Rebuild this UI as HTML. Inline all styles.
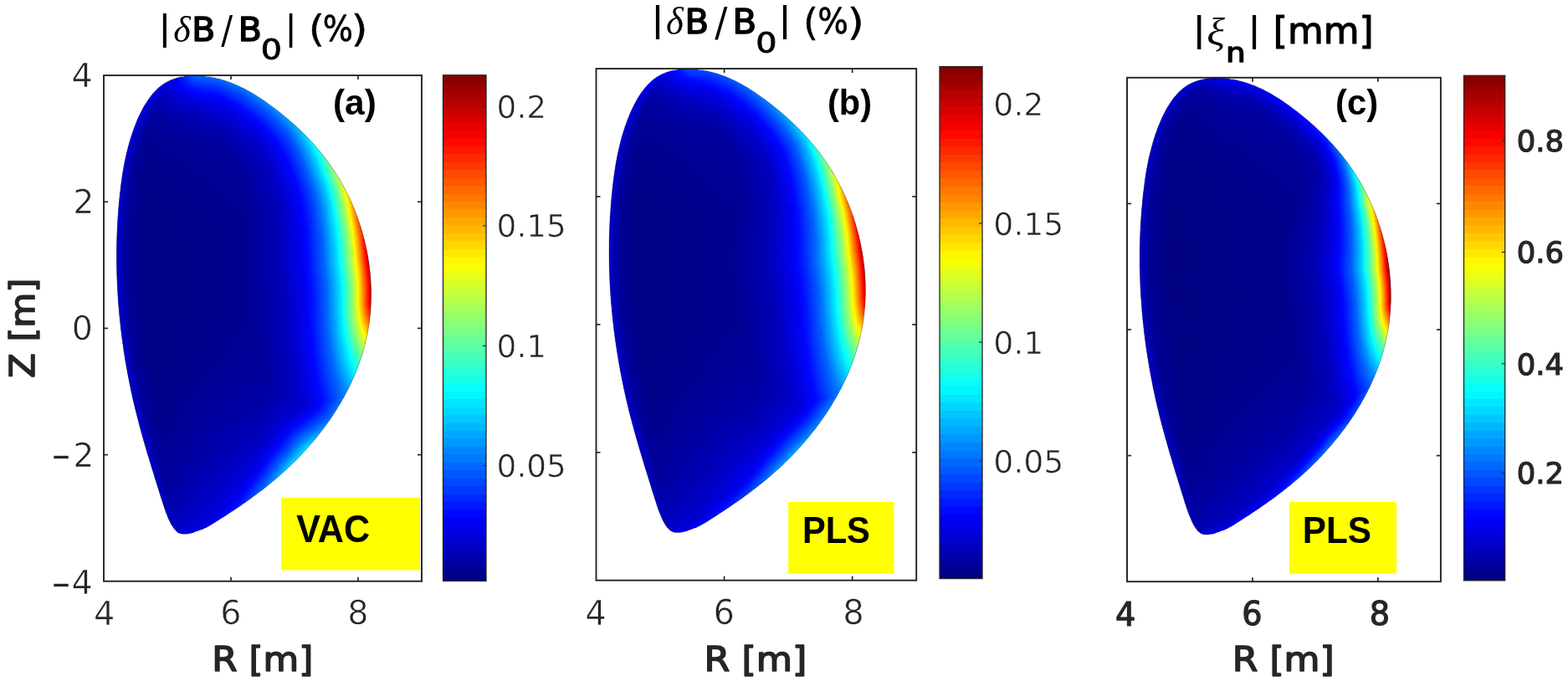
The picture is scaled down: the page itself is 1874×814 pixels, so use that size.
<!DOCTYPE html>
<html><head><meta charset="utf-8"><title>figure</title><style>
html,body{margin:0;padding:0;background:#fff;width:1874px;height:814px;overflow:hidden}
.pl{position:absolute;overflow:hidden}
.pl i{position:absolute;display:block}
svg{position:absolute;left:0;top:0}
</style></head><body>
<div class="pl" style="left:136px;top:87px;width:311px;height:554px;clip-path:polygon(61.0px 12.4px,63.6px 10.9px,66.4px 9.5px,69.2px 8.3px,72.0px 7.2px,75.0px 6.3px,78.0px 5.5px,81.0px 4.8px,84.1px 4.3px,87.3px 3.9px,90.5px 3.6px,93.7px 3.4px,97.0px 3.4px,100.3px 3.5px,103.6px 3.6px,106.9px 3.9px,110.2px 4.3px,113.5px 4.8px,116.8px 5.4px,120.1px 6.0px,123.4px 6.8px,126.7px 7.6px,129.9px 8.5px,133.2px 9.5px,136.3px 10.6px,139.5px 11.7px,142.6px 12.9px,145.6px 14.2px,148.6px 15.5px,151.6px 16.9px,154.5px 18.3px,157.4px 19.8px,160.2px 21.4px,163.0px 23.0px,165.8px 24.6px,168.6px 26.3px,171.3px 28.0px,174.0px 29.7px,176.7px 31.5px,179.3px 33.3px,182.0px 35.1px,184.6px 37.0px,187.2px 38.9px,189.8px 40.8px,192.3px 42.7px,194.9px 44.7px,197.4px 46.6px,199.9px 48.6px,202.4px 50.7px,204.9px 52.7px,207.4px 54.8px,209.8px 56.8px,212.2px 58.9px,214.6px 61.1px,217.0px 63.2px,219.4px 65.4px,221.7px 67.6px,224.0px 69.8px,226.3px 72.1px,228.6px 74.3px,230.8px 76.6px,233.0px 78.9px,235.2px 81.3px,237.4px 83.6px,239.5px 86.0px,241.6px 88.4px,243.7px 90.9px,245.8px 93.3px,247.8px 95.8px,249.8px 98.3px,251.8px 100.8px,253.7px 103.4px,255.6px 105.9px,257.5px 108.5px,259.4px 111.2px,261.2px 113.8px,263.0px 116.5px,264.8px 119.2px,266.5px 121.9px,268.2px 124.7px,269.9px 127.4px,271.5px 130.2px,273.1px 133.0px,274.6px 135.9px,276.2px 138.7px,277.7px 141.6px,279.1px 144.5px,280.6px 147.4px,281.9px 150.4px,283.3px 153.3px,284.6px 156.3px,285.9px 159.3px,287.2px 162.3px,288.4px 165.3px,289.6px 168.4px,290.7px 171.4px,291.8px 174.5px,292.9px 177.6px,293.9px 180.7px,294.9px 183.8px,295.9px 186.9px,296.8px 190.1px,297.7px 193.2px,298.6px 196.4px,299.4px 199.5px,300.2px 202.7px,300.9px 205.9px,301.6px 209.1px,302.3px 212.3px,302.9px 215.5px,303.5px 218.7px,304.0px 221.9px,304.6px 225.2px,305.0px 228.4px,305.5px 231.6px,305.8px 234.9px,306.2px 238.1px,306.5px 241.3px,306.8px 244.6px,307.0px 247.8px,307.2px 251.1px,307.4px 254.3px,307.5px 257.6px,307.6px 260.8px,307.6px 264.0px,307.6px 267.3px,307.5px 270.5px,307.4px 273.7px,307.3px 277.0px,307.1px 280.2px,306.9px 283.4px,306.7px 286.6px,306.4px 289.8px,306.0px 293.0px,305.6px 296.2px,305.2px 299.4px,304.7px 302.6px,304.2px 305.8px,303.7px 308.9px,303.1px 312.1px,302.4px 315.2px,301.7px 318.3px,301.0px 321.4px,300.2px 324.5px,299.4px 327.6px,298.6px 330.7px,297.7px 333.8px,296.8px 336.8px,295.8px 339.9px,294.8px 342.9px,293.7px 345.9px,292.7px 348.9px,291.5px 351.9px,290.4px 354.9px,289.2px 357.9px,288.0px 360.9px,286.7px 363.8px,285.4px 366.7px,284.1px 369.7px,282.7px 372.6px,281.3px 375.4px,279.9px 378.3px,278.4px 381.2px,276.9px 384.0px,275.4px 386.9px,273.8px 389.7px,272.2px 392.5px,270.6px 395.3px,268.9px 398.1px,267.2px 400.8px,265.5px 403.6px,263.8px 406.3px,262.0px 409.0px,260.2px 411.7px,258.4px 414.4px,256.5px 417.0px,254.6px 419.7px,252.7px 422.3px,250.8px 424.9px,248.8px 427.5px,246.8px 430.1px,244.8px 432.6px,242.8px 435.2px,240.7px 437.7px,238.6px 440.2px,236.5px 442.7px,234.4px 445.1px,232.2px 447.6px,230.1px 450.0px,227.9px 452.4px,225.6px 454.8px,223.4px 457.2px,221.2px 459.5px,218.9px 461.9px,216.6px 464.2px,214.3px 466.5px,211.9px 468.7px,209.6px 471.0px,207.2px 473.2px,204.8px 475.4px,202.4px 477.6px,200.0px 479.8px,197.6px 481.9px,195.1px 484.1px,192.7px 486.2px,190.2px 488.2px,187.7px 490.3px,185.2px 492.3px,182.7px 494.4px,180.1px 496.4px,177.6px 498.4px,175.0px 500.3px,172.4px 502.3px,169.9px 504.2px,167.3px 506.1px,164.7px 508.0px,162.0px 509.9px,159.4px 511.8px,156.8px 513.7px,154.1px 515.5px,151.5px 517.4px,148.8px 519.2px,146.1px 521.0px,143.5px 522.8px,140.8px 524.6px,138.1px 526.3px,135.4px 528.1px,132.7px 529.9px,129.9px 531.6px,127.2px 533.3px,124.5px 535.1px,121.8px 536.8px,119.0px 538.5px,116.3px 540.2px,113.5px 541.8px,110.6px 543.4px,107.7px 544.8px,104.7px 546.0px,101.6px 547.1px,98.6px 548.1px,95.6px 549.2px,92.5px 550.3px,89.3px 550.9px,86.0px 551.2px,82.7px 551.2px,79.5px 550.7px,76.6px 549.4px,74.2px 547.2px,72.0px 544.7px,70.1px 542.0px,68.4px 539.2px,67.0px 536.3px,65.6px 533.4px,64.3px 530.4px,63.2px 527.4px,62.0px 524.4px,60.9px 521.3px,59.9px 518.3px,58.9px 515.2px,57.9px 512.1px,56.9px 509.0px,55.9px 505.9px,54.9px 502.8px,54.0px 499.7px,53.0px 496.6px,52.0px 493.5px,51.1px 490.4px,50.1px 487.3px,49.1px 484.2px,48.2px 481.1px,47.2px 478.1px,46.3px 475.0px,45.3px 471.9px,44.4px 468.8px,43.4px 465.7px,42.5px 462.6px,41.6px 459.5px,40.6px 456.4px,39.7px 453.4px,38.8px 450.3px,37.9px 447.2px,37.0px 444.1px,36.1px 441.0px,35.2px 437.9px,34.3px 434.8px,33.5px 431.7px,32.6px 428.6px,31.8px 425.5px,30.9px 422.4px,30.1px 419.2px,29.3px 416.1px,28.5px 413.0px,27.7px 409.9px,26.9px 406.7px,26.1px 403.6px,25.3px 400.5px,24.6px 397.3px,23.8px 394.2px,23.1px 391.0px,22.4px 387.9px,21.7px 384.7px,21.0px 381.6px,20.3px 378.4px,19.7px 375.3px,19.0px 372.1px,18.4px 368.9px,17.8px 365.7px,17.1px 362.6px,16.5px 359.4px,16.0px 356.2px,15.4px 353.0px,14.8px 349.8px,14.3px 346.6px,13.7px 343.4px,13.2px 340.2px,12.7px 337.0px,12.2px 333.8px,11.7px 330.6px,11.3px 327.4px,10.8px 324.2px,10.4px 321.0px,9.9px 317.8px,9.5px 314.6px,9.1px 311.3px,8.7px 308.1px,8.3px 304.9px,8.0px 301.7px,7.6px 298.5px,7.3px 295.2px,7.0px 292.0px,6.6px 288.8px,6.4px 285.6px,6.1px 282.3px,5.8px 279.1px,5.5px 275.9px,5.3px 272.6px,5.1px 269.4px,4.9px 266.2px,4.7px 262.9px,4.5px 259.7px,4.3px 256.5px,4.2px 253.2px,4.0px 250.0px,3.9px 246.8px,3.8px 243.5px,3.7px 240.3px,3.6px 237.1px,3.5px 233.8px,3.5px 230.6px,3.4px 227.4px,3.4px 224.1px,3.4px 220.9px,3.4px 217.7px,3.4px 214.4px,3.4px 211.2px,3.5px 208.0px,3.5px 204.7px,3.6px 201.5px,3.7px 198.3px,3.8px 195.1px,3.9px 191.8px,4.0px 188.6px,4.2px 185.4px,4.4px 182.2px,4.5px 179.0px,4.7px 175.7px,4.9px 172.5px,5.2px 169.3px,5.4px 166.1px,5.6px 162.9px,5.9px 159.7px,6.2px 156.5px,6.5px 153.3px,6.8px 150.1px,7.1px 146.9px,7.5px 143.7px,7.9px 140.5px,8.2px 137.3px,8.6px 134.1px,9.0px 130.9px,9.5px 127.7px,9.9px 124.6px,10.4px 121.4px,10.9px 118.2px,11.5px 115.0px,12.0px 111.9px,12.6px 108.7px,13.2px 105.6px,13.9px 102.4px,14.6px 99.3px,15.3px 96.1px,16.1px 93.0px,16.9px 89.8px,17.7px 86.7px,18.6px 83.5px,19.5px 80.4px,20.4px 77.3px,21.5px 74.2px,22.5px 71.1px,23.6px 67.9px,24.8px 64.8px,26.0px 61.7px,27.2px 58.6px,28.5px 55.5px,29.9px 52.5px,31.3px 49.4px,32.8px 46.4px,34.3px 43.5px,35.9px 40.5px,37.6px 37.7px,39.4px 34.9px,41.2px 32.2px,43.1px 29.6px,45.0px 27.0px,47.1px 24.6px,49.2px 22.2px,51.4px 20.0px,53.6px 17.9px,56.0px 15.9px,58.5px 14.1px)"><i style="top:3px;left:84px;width:26px;height:3px;background:linear-gradient(90deg,#0021ff 0px,#0067ff 13px,#0060ff 18px,#0067ff 20px,#0065ff 22px,#0069ff 26px)"></i><i style="top:5px;left:74px;width:48px;height:3px;background:linear-gradient(90deg,#0000ff 0px,#0009ff 1px,#0002ff 3px,#005aff 23px,#0065ff 42px,#0067ff 47px,#0063ff 48px)"></i><i style="top:7px;left:67px;width:64px;height:3px;background:linear-gradient(90deg,#0000f5 0px,#0007ff 2px,#0000f9 8px,#002aff 20px,#004eff 30px,#005eff 52px,#006bff 60px,#0068ff 62px,#0068ff 64px)"></i><i style="top:9px;left:63px;width:74px;height:3px;background:linear-gradient(90deg,#0000fb 0px,#0000f7 2px,#0001ff 4px,#0000f5 6px,#0000ed 9px,#0006ff 16px,#0041ff 33px,#0054ff 58px,#006aff 71px,#006cff 74px)"></i><i style="top:11px;left:59px;width:84px;height:3px;background:linear-gradient(90deg,#0000ef 0px,#0003ff 2px,#0000f3 6px,#0000e6 11px,#0007ff 21px,#0037ff 37px,#004cff 64px,#006fff 81px,#006dff 83px,#006dff 84px)"></i><i style="top:13px;left:56px;width:92px;height:3px;background:linear-gradient(90deg,#0000ee 0px,#0001ff 3px,#0000f4 5px,#0000dc 11px,#0006ff 25px,#002cff 40px,#0041ff 67px,#0073ff 90px,#006cff 92px)"></i><i style="top:15px;left:53px;width:99px;height:3px;background:linear-gradient(90deg,#0000ec 0px,#0006ff 3px,#0000d5 11px,#0005ff 29px,#0023ff 44px,#0039ff 71px,#006cff 94px,#0073ff 96px,#0072ff 99px)"></i><i style="top:17px;left:51px;width:105px;height:3px;background:linear-gradient(90deg,#0000eb 0px,#0001ff 3px,#0000d9 9px,#0000d1 13px,#0005ff 33px,#0019ff 48px,#0035ff 77px,#0076ff 104px,#006fff 105px)"></i><i style="top:19px;left:49px;width:111px;height:3px;background:linear-gradient(90deg,#0000e7 0px,#0000fe 2px,#0000c9 12px,#0005ff 38px,#002bff 79px,#0065ff 103px,#0077ff 109px,#0074ff 111px)"></i><i style="top:21px;left:47px;width:117px;height:3px;background:linear-gradient(90deg,#0000e8 0px,#0000fe 2px,#0000d2 9px,#0000c5 13px,#0004ff 43px,#001fff 79px,#0058ff 104px,#0076ff 114px,#0075ff 117px)"></i><i style="top:23px;left:45px;width:122px;height:3px;background:linear-gradient(90deg,#0000e7 0px,#0000f9 2px,#0000c0 13px,#0000ff 49px,#0015ff 80px,#004eff 106px,#007cff 121px,#0077ff 122px)"></i><i style="top:25px;left:43px;width:128px;height:3px;background:linear-gradient(90deg,#0000e5 0px,#0000f2 2px,#0000e4 6px,#0000bd 14px,#0000f8 52px,#0008ff 78px,#003eff 106px,#007fff 126px,#0076ff 128px)"></i><i style="top:27px;left:42px;width:132px;height:3px;background:linear-gradient(90deg,#0000e7 0px,#0000f2 3px,#0000b9 13px,#0000f1 53px,#0007ff 84px,#0043ff 112px,#0082ff 129px,#0079ff 132px)"></i><i style="top:29px;left:40px;width:137px;height:3px;background:linear-gradient(90deg,#0000e0 0px,#0000f7 3px,#0000c6 10px,#0000b6 15px,#0000eb 55px,#0005ff 90px,#0043ff 117px,#0084ff 134px,#007cff 137px)"></i><i style="top:31px;left:39px;width:141px;height:3px;background:linear-gradient(90deg,#0000e3 0px,#0000f8 2px,#0000b5 13px,#0000e5 58px,#0000fd 91px,#0037ff 117px,#0083ff 138px,#007fff 141px)"></i><i style="top:33px;left:37px;width:146px;height:3px;background:linear-gradient(90deg,#0000de 0px,#0000ee 2px,#0000d0 8px,#0000af 15px,#0000df 58px,#0000f5 92px,#000cff 105px,#0058ff 132px,#0082ff 143px,#0080ff 146px)"></i><i style="top:35px;left:36px;width:150px;height:3px;background:linear-gradient(90deg,#0000de 0px,#0000ea 4px,#0000b4 13px,#0000b0 18px,#0000da 60px,#0000f1 94px,#0009ff 108px,#0056ff 135px,#0085ff 146px,#0080ff 150px)"></i><i style="top:37px;left:35px;width:153px;height:3px;background:linear-gradient(90deg,#0000db 0px,#0000f1 3px,#0000cb 8px,#0000ab 16px,#0000d4 61px,#0000ec 96px,#0009ff 112px,#0054ff 138px,#0085ff 150px,#0086ff 153px)"></i><i style="top:39px;left:34px;width:157px;height:3px;background:linear-gradient(90deg,#0000e0 0px,#0000ef 2px,#0000ac 14px,#0000d0 66px,#0000ec 101px,#0006ff 115px,#0056ff 142px,#0087ff 153px,#0086ff 157px)"></i><i style="top:41px;left:33px;width:161px;height:3px;background:linear-gradient(90deg,#0000de 0px,#0000e2 4px,#0000ae 13px,#0000a9 19px,#0000cb 65px,#0000e5 101px,#0006ff 119px,#0054ff 145px,#0088ff 157px,#008cff 160px,#0085ff 161px)"></i><i style="top:43px;left:32px;width:164px;height:3px;background:linear-gradient(90deg,#0000db 0px,#0000ec 2px,#0000ad 13px,#0000a6 19px,#0000c7 66px,#0000e1 103px,#0007ff 123px,#0057ff 149px,#0091ff 163px,#008cff 164px)"></i><i style="top:45px;left:31px;width:168px;height:3px;background:linear-gradient(90deg,#0000de 0px,#0000ec 2px,#0000b0 12px,#0000a3 18px,#0000c3 68px,#0000df 106px,#0007ff 127px,#0055ff 152px,#0093ff 166px,#008bff 168px)"></i><i style="top:47px;left:30px;width:172px;height:3px;background:linear-gradient(90deg,#0000db 0px,#0000dd 4px,#0000ab 13px,#0000a2 19px,#0000bf 70px,#0000dc 108px,#0006ff 130px,#0058ff 156px,#0097ff 170px,#008bff 172px)"></i><i style="top:49px;left:29px;width:175px;height:3px;background:linear-gradient(90deg,#0000d8 0px,#0000e8 2px,#0000ae 12px,#0000a0 19px,#0000bc 73px,#0000dc 112px,#0007ff 134px,#0058ff 159px,#0099ff 173px,#0091ff 175px)"></i><i style="top:51px;left:28px;width:179px;height:3px;background:linear-gradient(90deg,#0000da 0px,#0000e8 2px,#0000aa 13px,#00009e 19px,#0000b9 77px,#0000dc 116px,#0005ff 137px,#0057ff 162px,#009dff 177px,#0090ff 179px)"></i><i style="top:53px;left:27px;width:182px;height:3px;background:linear-gradient(90deg,#0000d6 0px,#0000da 4px,#0000a9 13px,#00009d 20px,#0000c9 106px,#0004ff 140px,#004fff 163px,#009fff 180px,#0097ff 182px)"></i><i style="top:55px;left:26px;width:185px;height:3px;background:linear-gradient(90deg,#0000d3 0px,#0000e4 3px,#0000b6 10px,#00009a 19px,#0000c6 107px,#0006ff 144px,#0053ff 167px,#009fff 183px,#009cff 185px)"></i><i style="top:57px;left:25px;width:189px;height:3px;background:linear-gradient(90deg,#0000d3 0px,#0000e2 2px,#0000a2 15px,#00009b 23px,#0000c2 108px,#0000fd 144px,#003fff 165px,#009fff 185px,#00a1ff 188px,#009bff 189px)"></i><i style="top:59px;left:24px;width:192px;height:3px;background:linear-gradient(90deg,#0000cf 0px,#0000d9 4px,#0000a5 14px,#000099 22px,#0000bf 109px,#0000f7 145px,#0015ff 156px,#006cff 178px,#00a3ff 188px,#00a0ff 192px)"></i><i style="top:61px;left:23px;width:195px;height:3px;background:linear-gradient(90deg,#0000cc 0px,#0000e4 3px,#0000b5 10px,#000097 21px,#0000bc 110px,#0000f4 147px,#000cff 156px,#0062ff 179px,#00a7ff 192px,#00a5ff 195px)"></i><i style="top:63px;left:23px;width:197px;height:3px;background:linear-gradient(90deg,#0000d3 0px,#0000dd 2px,#00009f 15px,#000096 23px,#0000b9 110px,#0000ef 147px,#0009ff 157px,#005eff 180px,#00acff 194px,#00adff 197px)"></i><i style="top:65px;left:22px;width:200px;height:3px;background:linear-gradient(90deg,#0000ce 0px,#0000da 3px,#0000a6 13px,#000095 22px,#0000b6 111px,#0000ec 149px,#0009ff 160px,#005fff 183px,#00adff 196px,#00b3ff 200px)"></i><i style="top:67px;left:21px;width:204px;height:3px;background:linear-gradient(90deg,#0000cd 0px,#0000e0 3px,#0000b2 10px,#000093 21px,#0000b4 112px,#0000e8 150px,#0006ff 162px,#005bff 185px,#00aaff 198px,#00beff 201px,#00b7ff 204px)"></i><i style="top:69px;left:20px;width:207px;height:3px;background:linear-gradient(90deg,#0000cb 0px,#0000d8 3px,#00009d 16px,#000094 26px,#0000b1 113px,#0000e6 152px,#0006ff 165px,#005dff 188px,#00c1ff 203px,#00c8ff 204px,#00bdff 207px)"></i><i style="top:71px;left:20px;width:209px;height:3px;background:linear-gradient(90deg,#0000cb 0px,#0000d9 3px,#0000a4 13px,#000093 23px,#0000ae 112px,#0000e1 152px,#0007ff 167px,#0051ff 187px,#00bcff 204px,#00cfff 206px,#00c3ff 209px)"></i><i style="top:73px;left:19px;width:212px;height:3px;background:linear-gradient(90deg,#0000cc 0px,#0000dd 2px,#0000a1 14px,#000092 24px,#0000ac 113px,#0000dd 153px,#0007ff 170px,#004fff 189px,#00c1ff 207px,#00d5ff 210px,#00c8ff 212px)"></i><i style="top:75px;left:18px;width:215px;height:3px;background:linear-gradient(90deg,#0000c9 0px,#0000d4 3px,#000099 17px,#000092 29px,#0000aa 114px,#0000da 154px,#0005ff 172px,#0049ff 190px,#00acff 206px,#00dcff 213px,#00cdff 215px)"></i><i style="top:77px;left:18px;width:217px;height:3px;background:linear-gradient(90deg,#0000cb 0px,#0000d8 3px,#0000a6 12px,#000091 23px,#0000a8 114px,#0000d8 155px,#0005ff 174px,#0053ff 193px,#00bbff 209px,#00e1ff 215px,#00d4ff 217px)"></i><i style="top:79px;left:17px;width:220px;height:3px;background:linear-gradient(90deg,#0000ca 0px,#0000d9 3px,#0000a7 12px,#000090 24px,#0000a5 114px,#0000d4 156px,#0006ff 177px,#005cff 197px,#00c1ff 212px,#00e0ff 216px,#00e3ff 219px,#00dcff 220px)"></i><i style="top:81px;left:17px;width:221px;height:3px;background:linear-gradient(90deg,#0000cb 0px,#0000cc 4px,#00009b 15px,#000090 26px,#0000a3 114px,#0000d1 156px,#0005ff 178px,#005cff 198px,#00c7ff 214px,#00ebff 218px,#00e9ff 221px)"></i><i style="top:83px;left:16px;width:224px;height:3px;background:linear-gradient(90deg,#0000c8 0px,#0000d8 3px,#0000a5 12px,#00008f 24px,#0000a2 115px,#0000cf 158px,#0004ff 180px,#005aff 200px,#00cfff 217px,#00f6ff 221px,#00f0ff 224px)"></i><i style="top:85px;left:15px;width:227px;height:3px;background:linear-gradient(90deg,#0000c6 0px,#0000d6 3px,#00009d 15px,#00008f 26px,#0000a0 116px,#0000cc 159px,#0003ff 182px,#005aff 202px,#00c0ff 217px,#03fffc 224px,#00f7ff 227px)"></i><i style="top:87px;left:15px;width:229px;height:3px;background:linear-gradient(90deg,#0000c6 0px,#0000d1 3px,#00009b 15px,#00008f 27px,#00009f 116px,#0000cb 160px,#0006ff 184px,#005fff 204px,#00c1ff 218px,#01fffe 225px,#0dfff2 227px,#00fdff 229px)"></i><i style="top:89px;left:14px;width:231px;height:3px;background:linear-gradient(90deg,#0000c5 0px,#0000d9 3px,#0000a9 11px,#00008e 24px,#00009e 118px,#0000c9 162px,#0006ff 186px,#005eff 206px,#00c1ff 220px,#00ffff 227px,#15ffea 230px,#0dfff2 231px)"></i><i style="top:91px;left:14px;width:233px;height:3px;background:linear-gradient(90deg,#0000c8 0px,#0000cf 3px,#00009a 15px,#00008e 27px,#00009d 119px,#0000c8 163px,#0005ff 187px,#0058ff 206px,#00c3ff 221px,#00fcff 227px,#1bffe4 232px,#16ffe9 233px)"></i><i style="top:93px;left:13px;width:236px;height:3px;background:linear-gradient(90deg,#0000c1 0px,#0000d1 3px,#00009c 15px,#00008d 27px,#00009d 122px,#0000c7 165px,#0004ff 189px,#0059ff 208px,#00c5ff 223px,#00fdff 229px,#22ffdd 233px,#1dffe2 236px)"></i><i style="top:95px;left:13px;width:237px;height:3px;background:linear-gradient(90deg,#0000c7 0px,#0000d6 2px,#0000a3 12px,#00008d 25px,#00009c 123px,#0000c5 165px,#0004ff 190px,#0054ff 208px,#00bdff 223px,#00fdff 230px,#34ffcb 235px,#26ffd9 237px)"></i><i style="top:97px;left:12px;width:240px;height:3px;background:linear-gradient(90deg,#0000c2 0px,#0000cd 3px,#000096 17px,#00008d 31px,#00009c 126px,#0000c5 167px,#0004ff 192px,#005aff 211px,#00c7ff 226px,#02fffd 232px,#3fffc0 238px,#2bffd4 240px)"></i><i style="top:99px;left:12px;width:242px;height:3px;background:linear-gradient(90deg,#0000c3 0px,#0000d0 3px,#00009f 13px,#00008c 26px,#00009c 128px,#0000c3 167px,#0004ff 193px,#005bff 212px,#00c9ff 227px,#05fffa 233px,#45ffba 240px,#31ffce 242px)"></i><i style="top:101px;left:11px;width:244px;height:3px;background:linear-gradient(90deg,#0000c1 0px,#0000d3 3px,#0000a1 13px,#00008c 27px,#00009b 130px,#0000c3 169px,#0004ff 195px,#005dff 214px,#00cbff 229px,#06fff9 235px,#3dffc2 240px,#4bffb4 243px,#44ffbb 244px)"></i><i style="top:103px;left:11px;width:246px;height:3px;background:linear-gradient(90deg,#0000c1 0px,#0000c7 4px,#000097 16px,#00008c 30px,#00009b 132px,#0000c2 170px,#0005ff 196px,#005eff 215px,#00cdff 230px,#00fdff 235px,#51ffae 242px,#4bffb4 246px)"></i><i style="top:105px;left:11px;width:247px;height:3px;background:linear-gradient(90deg,#0000c4 0px,#0000d1 2px,#00009d 13px,#00008b 27px,#00009b 133px,#0000c4 172px,#0005ff 197px,#005eff 216px,#00c6ff 230px,#03fffc 236px,#63ff9c 244px,#67ff98 245px,#55ffaa 247px)"></i><i style="top:107px;left:10px;width:250px;height:3px;background:linear-gradient(90deg,#0000c0 0px,#0000cd 3px,#000099 15px,#00008b 29px,#00009a 135px,#0000c4 174px,#0006ff 199px,#0060ff 218px,#00caff 232px,#06fff9 238px,#6fff90 247px,#70ff8f 248px,#5affa5 250px)"></i><i style="top:109px;left:10px;width:251px;height:3px;background:linear-gradient(90deg,#0000bf 0px,#0000ca 3px,#000098 15px,#00008a 30px,#00009a 137px,#0000c5 176px,#0006ff 200px,#0061ff 219px,#00cdff 233px,#00fdff 238px,#76ff89 249px,#6bff94 251px)"></i><i style="top:111px;left:10px;width:252px;height:3px;background:linear-gradient(90deg,#0000c4 0px,#0000d2 2px,#0000a2 11px,#00008a 26px,#00009a 138px,#0000c4 176px,#0003ff 200px,#0057ff 218px,#00c6ff 233px,#03fffc 239px,#7bff84 249px,#78ff87 252px)"></i><i style="top:113px;left:9px;width:255px;height:3px;background:linear-gradient(90deg,#0000be 0px,#0000c9 3px,#000096 16px,#00008a 31px,#000099 140px,#0000c4 178px,#0004ff 202px,#0059ff 220px,#00c1ff 234px,#07fff8 241px,#75ff8a 250px,#92ff6d 252px,#78ff87 255px)"></i><i style="top:115px;left:9px;width:256px;height:3px;background:linear-gradient(90deg,#0000bf 0px,#0000c9 3px,#000099 14px,#000089 29px,#000099 141px,#0000c4 179px,#0005ff 203px,#005bff 221px,#00c4ff 235px,#00feff 241px,#99ff66 254px,#82ff7d 256px)"></i><i style="top:117px;left:8px;width:258px;height:3px;background:linear-gradient(90deg,#0000bc 0px,#0000cf 3px,#00009e 13px,#000089 29px,#000099 143px,#0000c5 181px,#0006ff 205px,#005dff 223px,#00d0ff 238px,#03fffc 243px,#85ff7a 254px,#99ff66 257px,#91ff6e 258px)"></i><i style="top:119px;left:8px;width:260px;height:3px;background:linear-gradient(90deg,#0000bd 0px,#0000c6 3px,#000093 17px,#000089 34px,#000098 143px,#0000c3 181px,#0004ff 205px,#005aff 223px,#00caff 238px,#05fffa 244px,#71ff8e 253px,#9aff65 256px,#97ff68 259px,#90ff6f 260px)"></i><i style="top:121px;left:8px;width:261px;height:3px;background:linear-gradient(90deg,#0000bf 0px,#0000cb 3px,#000099 14px,#000089 30px,#000098 144px,#0000c4 182px,#0005ff 206px,#0062ff 225px,#00d5ff 240px,#06fff9 245px,#8fff70 256px,#afff50 258px,#afff50 259px,#95ff6a 261px)"></i><i style="top:123px;left:8px;width:262px;height:3px;background:linear-gradient(90deg,#0000c2 0px,#0000cd 2px,#00009b 13px,#000088 29px,#000097 144px,#0000c4 183px,#0006ff 207px,#005eff 225px,#00cdff 240px,#00feff 245px,#9dff62 258px,#b7ff48 260px,#a3ff5c 262px)"></i><i style="top:125px;left:7px;width:265px;height:3px;background:linear-gradient(90deg,#0000bc 0px,#0000c4 4px,#000096 16px,#000088 33px,#000097 146px,#0000c3 184px,#0004ff 208px,#005fff 227px,#00d0ff 242px,#02fffd 247px,#7dff82 257px,#acff53 261px,#b6ff49 263px,#a3ff5c 265px)"></i><i style="top:127px;left:7px;width:266px;height:3px;background:linear-gradient(90deg,#0000bf 0px,#0000cd 3px,#00009c 13px,#000088 30px,#000097 146px,#0000c2 184px,#0005ff 209px,#0060ff 228px,#00d2ff 243px,#05fffa 248px,#8eff71 259px,#c4ff3b 263px,#acff53 266px)"></i><i style="top:129px;left:7px;width:267px;height:3px;background:linear-gradient(90deg,#0000c1 0px,#0000c7 3px,#000099 14px,#000088 31px,#000097 147px,#0000c2 185px,#0006ff 210px,#0062ff 229px,#00d5ff 244px,#00fdff 248px,#76ff89 258px,#d0ff2f 264px,#cfff30 265px,#aeff51 267px)"></i><i style="top:131px;left:6px;width:269px;height:3px;background:linear-gradient(90deg,#0000bb 0px,#0000c6 4px,#000098 15px,#000087 32px,#000096 148px,#0000c1 186px,#0004ff 211px,#005dff 230px,#00ceff 245px,#01fffe 250px,#7cff83 260px,#d2ff2d 267px,#bfff40 269px)"></i><i style="top:133px;left:6px;width:270px;height:3px;background:linear-gradient(90deg,#0000be 0px,#0000ce 3px,#0000a0 12px,#000087 29px,#000096 148px,#0000c2 187px,#0004ff 212px,#005fff 231px,#00c8ff 245px,#04fffb 251px,#8fff70 262px,#d4ff2b 267px,#cbff34 270px)"></i><i style="top:135px;left:6px;width:271px;height:3px;background:linear-gradient(90deg,#0000bf 0px,#0000c6 3px,#000095 16px,#000087 34px,#000096 149px,#0000c2 188px,#0005ff 213px,#005aff 231px,#00cbff 246px,#00fcff 251px,#77ff88 261px,#e8ff17 268px,#edff12 269px,#d0ff2f 271px)"></i><i style="top:137px;left:6px;width:272px;height:3px;background:linear-gradient(90deg,#0000c0 0px,#0000c9 3px,#000099 14px,#000087 32px,#000096 149px,#0000c1 188px,#0006ff 214px,#005cff 232px,#00ceff 247px,#01fffe 252px,#9dff62 264px,#f5ff0a 270px,#dfff20 272px)"></i><i style="top:139px;left:5px;width:274px;height:3px;background:linear-gradient(90deg,#0000bd 0px,#0000cd 3px,#00009a 14px,#000086 32px,#000095 150px,#0000c1 190px,#0003ff 215px,#0058ff 233px,#00bfff 247px,#00fbff 253px,#6bff94 262px,#e4ff1b 270px,#f4ff0b 273px,#ecff13 274px)"></i><i style="top:141px;left:5px;width:275px;height:3px;background:linear-gradient(90deg,#0000bc 0px,#0000c3 4px,#000095 16px,#000086 35px,#000095 150px,#0000c0 190px,#0005ff 216px,#005aff 234px,#00c4ff 248px,#02fffd 254px,#8eff71 265px,#fffa00 272px,#fff500 273px,#f0ff0f 275px)"></i><i style="top:143px;left:5px;width:276px;height:3px;background:linear-gradient(90deg,#0000bf 0px,#0000cc 3px,#00009c 13px,#000086 31px,#000094 150px,#0000c0 191px,#0006ff 217px,#005dff 235px,#00c9ff 249px,#00fbff 254px,#6cff93 263px,#f9ff06 272px,#ffe600 274px,#feff01 276px)"></i><i style="top:145px;left:5px;width:277px;height:3px;background:linear-gradient(90deg,#0000c0 0px,#0000c8 3px,#000099 14px,#000086 33px,#000094 150px,#0000bf 191px,#0003ff 217px,#005aff 235px,#00c5ff 249px,#03fffc 255px,#83ff7c 265px,#ffff00 273px,#ffea00 275px,#fff300 277px)"></i><i style="top:147px;left:5px;width:278px;height:3px;background:linear-gradient(90deg,#0000c0 0px,#0000c6 3px,#000096 15px,#000086 34px,#000094 151px,#0000c0 192px,#0005ff 218px,#005dff 236px,#00caff 250px,#00fdff 255px,#8aff75 266px,#fffe00 273px,#ffdb00 275px,#ffda00 276px,#fff000 278px)"></i><i style="top:149px;left:4px;width:280px;height:3px;background:linear-gradient(90deg,#0000bd 0px,#0000d0 3px,#0000a0 12px,#000085 30px,#000093 151px,#0000bd 192px,#0000fb 217px,#003dff 232px,#00a3ff 247px,#04fffb 257px,#94ff6b 268px,#f4ff0b 274px,#ffe400 276px,#ffc400 278px,#ffe600 280px)"></i><i style="top:151px;left:4px;width:281px;height:3px;background:linear-gradient(90deg,#0000bd 0px,#0000c7 3px,#000095 16px,#000085 36px,#000093 152px,#0000bd 193px,#0005ff 220px,#005eff 238px,#00ccff 252px,#00ffff 257px,#7eff81 267px,#ffff00 275px,#ffca00 279px,#ffda00 281px)"></i><i style="top:153px;left:4px;width:282px;height:3px;background:linear-gradient(90deg,#0000be 0px,#0000ca 3px,#000099 14px,#000085 33px,#000093 152px,#0000bc 193px,#0000fb 218px,#003eff 233px,#00a4ff 248px,#06fff9 258px,#94ff6b 269px,#faff05 275px,#ffbd00 279px,#ffd700 282px)"></i><i style="top:155px;left:4px;width:283px;height:3px;background:linear-gradient(90deg,#0000c1 0px,#0000cd 2px,#000099 14px,#000085 34px,#000093 153px,#0000bd 194px,#0005ff 221px,#005fff 239px,#00cdff 253px,#01fffe 258px,#8fff70 269px,#fffd00 276px,#ffae00 280px,#ffaa00 281px,#ffd100 283px)"></i><i style="top:157px;left:4px;width:284px;height:3px;background:linear-gradient(90deg,#0000bf 0px,#0000c4 3px,#000094 16px,#000085 37px,#000093 153px,#0000ba 193px,#0000f8 218px,#0018ff 226px,#0077ff 243px,#00e6ff 256px,#07fff8 259px,#89ff76 269px,#fcff03 276px,#ffb300 281px,#ffad00 282px,#ffc500 284px)"></i><i style="top:159px;left:3px;width:286px;height:3px;background:linear-gradient(90deg,#0000bc 0px,#0000ce 3px,#00009d 13px,#000084 32px,#000092 154px,#0000ba 194px,#0000fa 220px,#0032ff 233px,#0091ff 248px,#03fffc 260px,#91ff6e 271px,#f6ff09 277px,#ffe300 279px,#ffaa00 282px,#ffa000 283px,#ffc100 286px)"></i><i style="top:161px;left:3px;width:287px;height:3px;background:linear-gradient(90deg,#0000bd 0px,#0000ca 3px,#00009a 14px,#000084 34px,#000093 155px,#0000bb 195px,#0000fc 221px,#0045ff 237px,#00b0ff 252px,#00feff 260px,#8dff72 271px,#ffff00 278px,#ff8a00 284px,#ffaa00 286px,#ffbf00 287px)"></i><i style="top:163px;left:3px;width:287px;height:3px;background:linear-gradient(90deg,#0000bd 0px,#0000c8 3px,#000097 15px,#000084 36px,#000092 155px,#0000ba 195px,#0000fa 221px,#0038ff 235px,#009cff 250px,#06fff9 261px,#97ff68 272px,#fbff04 278px,#ff9200 285px,#ffa100 287px)"></i><i style="top:165px;left:3px;width:288px;height:3px;background:linear-gradient(90deg,#0000c0 0px,#0000cc 3px,#00009c 13px,#000084 32px,#000092 155px,#0000bb 196px,#0000f9 221px,#0028ff 232px,#008aff 248px,#03fffc 261px,#91ff6e 272px,#f4ff0b 278px,#ffe400 280px,#ff8400 285px,#ff8700 286px,#ffa200 288px)"></i><i style="top:167px;left:3px;width:289px;height:3px;background:linear-gradient(90deg,#0000bf 0px,#0000c5 3px,#000096 15px,#000084 36px,#000092 156px,#0000ba 196px,#0000f8 221px,#0019ff 229px,#0079ff 246px,#00e9ff 259px,#00feff 261px,#8dff72 272px,#feff01 279px,#ff7400 286px,#ff7200 287px,#ff9b00 289px)"></i><i style="top:169px;left:3px;width:290px;height:3px;background:linear-gradient(90deg,#0000c1 0px,#0000c9 3px,#000098 14px,#000084 35px,#000092 156px,#0000ba 196px,#0000f7 221px,#0018ff 229px,#0077ff 246px,#00f1ff 260px,#07fff8 262px,#97ff68 273px,#fbff04 279px,#ff7a00 287px,#ff7700 288px,#ff9200 290px)"></i><i style="top:171px;left:2px;width:291px;height:3px;background:linear-gradient(90deg,#0000bc 0px,#0000cd 3px,#00009b 14px,#000084 34px,#000091 156px,#0000b9 197px,#0000f7 222px,#0017ff 230px,#0075ff 247px,#00eeff 261px,#04fffb 263px,#92ff6d 274px,#f5ff0a 280px,#ffe400 282px,#ff6a00 288px,#ff6400 289px,#ff8700 291px)"></i><i style="top:173px;left:2px;width:292px;height:3px;background:linear-gradient(90deg,#0000bb 0px,#0000c4 4px,#000095 16px,#000084 38px,#000091 156px,#0000b9 197px,#0000fa 223px,#0032ff 236px,#0099ff 252px,#01fffe 263px,#8fff70 274px,#fffe00 281px,#ff5f00 289px,#ff5500 290px,#ff7b00 292px)"></i><i style="top:175px;left:2px;width:293px;height:3px;background:linear-gradient(90deg,#0000be 0px,#0000ce 3px,#00009d 13px,#000083 33px,#000091 155px,#0000b9 197px,#0000f9 223px,#0022ff 233px,#0080ff 249px,#00f3ff 262px,#09fff6 264px,#8aff75 274px,#fcff03 281px,#ff6f00 289px,#ff6300 291px,#ff7a00 293px)"></i><i style="top:177px;left:2px;width:294px;height:3px;background:linear-gradient(90deg,#0000be 0px,#0000c9 3px,#000097 15px,#000083 37px,#000091 155px,#0000b9 197px,#0000f8 223px,#001dff 232px,#007eff 249px,#00f0ff 262px,#11ffee 265px,#a3ff5c 276px,#fff800 282px,#ff5500 290px,#ff4800 291px,#ff8100 294px)"></i><i style="top:179px;left:2px;width:294px;height:3px;background:linear-gradient(90deg,#0000be 0px,#0000c8 3px,#000097 15px,#000083 37px,#000091 155px,#0000b9 197px,#0000f8 223px,#0017ff 231px,#0075ff 248px,#00ecff 262px,#02fffd 264px,#8eff71 275px,#fffe00 282px,#ff4f00 291px,#ff4400 292px,#ff6600 294px)"></i><i style="top:181px;left:2px;width:295px;height:3px;background:linear-gradient(90deg,#0000c0 0px,#0000ce 2px,#000099 14px,#000083 35px,#000090 154px,#0000b7 196px,#0000f4 222px,#000aff 228px,#0066ff 246px,#00d5ff 260px,#00feff 264px,#88ff77 275px,#faff05 282px,#ff5900 291px,#ff5300 293px,#ff6900 295px)"></i><i style="top:183px;left:2px;width:295px;height:3px;background:linear-gradient(90deg,#0000bf 0px,#0000c5 3px,#000094 16px,#000083 40px,#000090 154px,#0000b6 196px,#0000f3 222px,#000dff 229px,#006bff 247px,#00dcff 261px,#06fff9 265px,#93ff6c 276px,#fffa00 283px,#ff2e00 293px,#ff5900 295px)"></i><i style="top:185px;left:2px;width:296px;height:3px;background:linear-gradient(90deg,#0000c1 0px,#0000c9 3px,#00009b 13px,#000083 34px,#000090 153px,#0000b6 196px,#0000f5 223px,#000cff 229px,#0069ff 247px,#00d9ff 261px,#03fffc 265px,#8eff71 276px,#fffe00 283px,#ff3d00 293px,#ff3500 294px,#ff5400 296px)"></i><i style="top:187px;left:2px;width:297px;height:3px;background:linear-gradient(90deg,#0000c1 0px,#0000cc 2px,#000098 14px,#000083 36px,#000090 153px,#0000b6 196px,#0000f5 223px,#000bff 229px,#0067ff 247px,#00d6ff 261px,#00ffff 265px,#89ff76 276px,#faff05 283px,#ff7b00 290px,#ff3f00 293px,#ff3800 294px,#ff5a00 297px)"></i><i style="top:189px;left:1px;width:298px;height:3px;background:linear-gradient(90deg,#0000ba 0px,#0000c4 4px,#000096 16px,#000083 39px,#000090 154px,#0000b6 197px,#0000f4 224px,#000aff 230px,#0065ff 248px,#00d4ff 262px,#00fcff 266px,#78ff87 276px,#fff900 285px,#ff3f00 294px,#ff1800 296px,#ff4700 298px)"></i><i style="top:191px;left:1px;width:299px;height:3px;background:linear-gradient(90deg,#0000bd 0px,#0000d0 3px,#00009d 13px,#000084 32px,#00008f 152px,#0000b4 196px,#0000f0 223px,#000aff 230px,#0064ff 248px,#00d1ff 262px,#05fffa 267px,#90ff6f 278px,#fffc00 285px,#ff2b00 296px,#ff2700 297px,#ff4700 299px)"></i><i style="top:193px;left:1px;width:299px;height:3px;background:linear-gradient(90deg,#0000bc 0px,#0000c9 3px,#000098 15px,#000082 38px,#00008f 153px,#0000b5 197px,#0000f3 224px,#000dff 231px,#0069ff 249px,#00d9ff 263px,#02fffd 267px,#8cff73 278px,#fdff02 285px,#ff6200 293px,#ff2300 296px,#ff1d00 297px,#ff4100 299px)"></i><i style="top:195px;left:1px;width:300px;height:3px;background:linear-gradient(90deg,#0000bc 0px,#0000ca 3px,#000098 15px,#000082 38px,#00008f 153px,#0000b5 197px,#0000f2 224px,#0008ff 230px,#0061ff 248px,#00cdff 262px,#00ffff 267px,#89ff76 278px,#f8ff07 285px,#ffd000 288px,#ff0f00 297px,#ff0c00 298px,#ff3900 300px)"></i><i style="top:197px;left:1px;width:300px;height:3px;background:linear-gradient(90deg,#0000be 0px,#0000ce 3px,#00009d 13px,#000083 33px,#00008e 151px,#0000b4 196px,#0000ef 223px,#0008ff 230px,#0060ff 248px,#00d4ff 263px,#00fdff 267px,#78ff87 277px,#f5ff0a 285px,#ffe500 287px,#ff2600 297px,#ff1a00 298px,#ff2a00 300px)"></i><i style="top:199px;left:1px;width:301px;height:3px;background:linear-gradient(90deg,#0000bc 0px,#0000c2 4px,#000095 16px,#000082 40px,#00008f 153px,#0000b5 197px,#0000f2 224px,#0007ff 230px,#005fff 248px,#00d3ff 263px,#06fff9 268px,#91ff6e 279px,#fffc00 286px,#ff4600 295px,#ff0200 298px,#ff0600 299px,#ff3400 301px)"></i><i style="top:201px;left:1px;width:301px;height:3px;background:linear-gradient(90deg,#0000be 0px,#0000cc 3px,#00009c 13px,#000083 33px,#00008e 150px,#0000b4 196px,#0000f1 224px,#0007ff 230px,#005eff 248px,#00d1ff 263px,#05fffa 268px,#8fff70 279px,#feff01 286px,#ff6400 294px,#ff0b00 298px,#fa0000 299px,#ff0400 300px,#ff1900 301px)"></i><i style="top:203px;left:1px;width:302px;height:3px;background:linear-gradient(90deg,#0000be 0px,#0000ca 3px,#000099 14px,#000082 36px,#00008f 152px,#0000b5 197px,#0000f1 224px,#000aff 231px,#0064ff 249px,#00d0ff 263px,#03fffc 268px,#8cff73 279px,#fcff03 286px,#ff6600 294px,#ff1400 298px,#ff0900 299px,#ff2500 302px)"></i><i style="top:205px;left:1px;width:302px;height:3px;background:linear-gradient(90deg,#0000bd 0px,#0000c7 3px,#000097 15px,#000082 38px,#00008f 153px,#0000b5 197px,#0000f1 224px,#000aff 231px,#0063ff 249px,#00cfff 263px,#01fffe 268px,#89ff76 279px,#f7ff08 286px,#ffd100 289px,#ff0f00 298px,#f60000 299px,#e20000 300px,#fb0000 301px,#ff1400 302px)"></i><i style="top:207px;left:1px;width:303px;height:3px;background:linear-gradient(90deg,#0000bf 0px,#0000cd 3px,#00009c 13px,#000083 33px,#00008e 149px,#0000b2 195px,#0000ee 223px,#0006ff 230px,#005cff 248px,#00cdff 263px,#00feff 268px,#86ff79 279px,#fff900 287px,#ff3400 297px,#ff0800 299px,#f40000 301px,#ff0400 302px,#ff1900 303px)"></i><i style="top:209px;left:1px;width:303px;height:3px;background:linear-gradient(90deg,#0000be 0px,#0000c7 3px,#000097 15px,#000082 39px,#000090 153px,#0000b7 198px,#0000f4 225px,#000dff 232px,#0068ff 250px,#00d5ff 264px,#00fcff 268px,#75ff8a 278px,#fffc00 287px,#ff4900 296px,#ff0600 299px,#f00000 301px,#ff0200 302px,#ff1700 303px)"></i><i style="top:211px;left:1px;width:304px;height:3px;background:linear-gradient(90deg,#0000bf 0px,#0000c9 3px,#000099 14px,#000082 36px,#00008f 151px,#0000b5 197px,#0000f3 225px,#000dff 232px,#0067ff 250px,#00d3ff 264px,#06fff9 269px,#8fff70 280px,#fdff02 287px,#ff6500 295px,#ff0900 299px,#d90000 301px,#e30000 302px,#fb0000 303px,#ff1400 304px)"></i><i style="top:213px;left:1px;width:304px;height:3px;background:linear-gradient(90deg,#0000c0 0px,#0000cb 3px,#00009c 13px,#000083 33px,#00008e 148px,#0000b2 195px,#0000ed 223px,#0009ff 231px,#0060ff 249px,#00d2ff 264px,#05fffa 269px,#8dff72 280px,#fbff04 287px,#ff6a00 295px,#ff0400 300px,#ed0000 302px,#ff0800 304px)"></i><i style="top:215px;left:1px;width:304px;height:3px;background:linear-gradient(90deg,#0000bd 0px,#0000c4 3px,#000094 16px,#000082 42px,#000090 154px,#0000b8 199px,#0000f6 226px,#0010ff 233px,#006cff 251px,#00daff 265px,#03fffc 269px,#8aff75 280px,#f8ff07 287px,#ffbd00 291px,#ff1100 299px,#f80000 300px,#d40000 302px,#fd0000 304px)"></i><i style="top:217px;left:1px;width:305px;height:3px;background:linear-gradient(90deg,#0000c0 0px,#0000cb 3px,#00009c 13px,#000083 33px,#00008d 147px,#0000b3 195px,#0000ed 223px,#0009ff 231px,#005fff 249px,#00d0ff 264px,#02fffd 269px,#97ff68 281px,#f5ff0a 287px,#ffe600 289px,#ff2f00 298px,#ff0100 300px,#d50000 302px,#d50000 303px,#ff0100 305px)"></i><i style="top:219px;left:1px;width:305px;height:3px;background:linear-gradient(90deg,#0000bf 0px,#0000c9 3px,#000099 14px,#000082 36px,#00008f 151px,#0000b6 197px,#0000f3 225px,#000cff 232px,#0065ff 250px,#00d9ff 265px,#01fffe 269px,#87ff78 280px,#fff900 288px,#ff4800 297px,#ff0600 300px,#e20000 302px,#ed0000 304px,#fc0000 305px)"></i><i style="top:221px;left:1px;width:306px;height:3px;background:linear-gradient(90deg,#0000be 0px,#0000c7 3px,#000097 15px,#000082 39px,#000090 153px,#0000b7 198px,#0000f6 226px,#0010ff 233px,#006bff 251px,#00d8ff 265px,#00ffff 269px,#86ff79 280px,#fffb00 288px,#ff4900 297px,#ff0400 300px,#b80000 303px,#ff0200 306px)"></i><i style="top:223px;left:1px;width:306px;height:3px;background:linear-gradient(90deg,#0000c0 0px,#0000cc 3px,#00009c 13px,#000083 33px,#00008d 147px,#0000b3 195px,#0000f0 224px,#0009ff 231px,#0065ff 250px,#00d7ff 265px,#00ffff 269px,#84ff7b 280px,#fffe00 288px,#ff2700 299px,#f90000 301px,#d40000 303px,#d30000 304px,#f70000 306px)"></i><i style="top:225px;left:1px;width:306px;height:3px;background:linear-gradient(90deg,#0000bd 0px,#0000c6 3px,#000094 16px,#000081 42px,#000090 154px,#0000b7 198px,#0000f6 226px,#0010ff 233px,#006aff 251px,#00dfff 266px,#00fdff 269px,#74ff8b 279px,#fdff02 288px,#ff6800 296px,#ff0f00 300px,#f70000 301px,#cd0000 303px,#cb0000 304px,#f40000 306px)"></i><i style="top:227px;left:1px;width:306px;height:3px;background:linear-gradient(90deg,#0000bf 0px,#0000ca 3px,#000099 14px,#000082 36px,#00008f 150px,#0000b4 196px,#0000f0 224px,#0008ff 231px,#0063ff 250px,#00d5ff 265px,#07fff8 270px,#9bff64 282px,#f9ff06 288px,#ffac00 293px,#ff0000 301px,#bd0000 304px,#e60000 306px)"></i><i style="top:229px;left:1px;width:307px;height:3px;background:linear-gradient(90deg,#0000bf 0px,#0000cb 3px,#000099 14px,#000082 36px,#00008f 150px,#0000b4 196px,#0000ef 224px,#0008ff 231px,#0062ff 250px,#00d3ff 265px,#04fffb 270px,#89ff76 281px,#f5ff0a 288px,#ffe700 290px,#ff1f00 300px,#ff0900 301px,#e30000 303px,#de0000 305px,#fe0000 307px)"></i><i style="top:231px;left:1px;width:307px;height:3px;background:linear-gradient(90deg,#0000bd 0px,#0000c6 3px,#000094 16px,#000081 42px,#000091 155px,#0000b8 199px,#0000f8 227px,#001bff 236px,#007bff 254px,#00edff 268px,#02fffd 270px,#94ff6b 282px,#fffe00 289px,#ff4f00 298px,#ff0a00 301px,#d90000 303px,#c20000 304px,#c40000 305px,#f30000 307px)"></i><i style="top:233px;left:1px;width:307px;height:3px;background:linear-gradient(90deg,#0000bf 0px,#0000cd 3px,#00009c 13px,#000083 33px,#00008d 147px,#0000b2 195px,#0000ef 224px,#0007ff 231px,#0060ff 250px,#00cfff 265px,#00feff 270px,#83ff7c 281px,#fdff02 289px,#ff5800 298px,#fd0000 302px,#d20000 304px,#c90000 305px,#ed0000 307px)"></i><i style="top:235px;left:1px;width:307px;height:3px;background:linear-gradient(90deg,#0000bd 0px,#0000c8 3px,#000097 15px,#000082 39px,#000090 153px,#0000b6 198px,#0000f4 226px,#000dff 233px,#006bff 252px,#00dfff 267px,#08fff7 271px,#9aff65 283px,#f8ff07 289px,#ffbe00 293px,#ff0100 302px,#d70000 304px,#d00000 305px,#f00000 307px)"></i><i style="top:237px;left:1px;width:308px;height:3px;background:linear-gradient(90deg,#0000be 0px,#0000c9 3px,#000097 15px,#000082 39px,#000090 153px,#0000b6 198px,#0000f4 226px,#000cff 233px,#0069ff 252px,#00dcff 267px,#04fffb 271px,#97ff68 283px,#fff900 290px,#ff4900 299px,#ff0400 302px,#b80000 305px,#e00000 307px,#f90000 308px)"></i><i style="top:239px;left:1px;width:308px;height:3px;background:linear-gradient(90deg,#0000be 0px,#0000ce 3px,#00009d 13px,#000083 33px,#00008e 148px,#0000b3 196px,#0000f0 225px,#0008ff 232px,#0062ff 251px,#00d1ff 266px,#02fffd 271px,#86ff79 282px,#fffc00 290px,#ff3a00 300px,#fa0000 303px,#d70000 305px,#d70000 306px,#fa0000 308px)"></i><i style="top:241px;left:1px;width:308px;height:3px;background:linear-gradient(90deg,#0000bb 0px,#0000c3 4px,#000095 16px,#000081 42px,#000091 155px,#0000b9 200px,#0000f8 228px,#001aff 237px,#0079ff 255px,#00ebff 269px,#00ffff 271px,#90ff6f 283px,#feff01 290px,#ff5100 299px,#ff0d00 302px,#f40000 303px,#c70000 305px,#c60000 306px,#f30000 308px)"></i><i style="top:243px;left:1px;width:308px;height:3px;background:linear-gradient(90deg,#0000bd 0px,#0000cd 3px,#00009a 14px,#000083 35px,#00008e 150px,#0000b4 197px,#0000f1 226px,#000aff 233px,#0064ff 252px,#00d5ff 267px,#00fcff 271px,#73ff8c 281px,#fbff04 290px,#ff8100 297px,#fb0000 303px,#cc0000 305px,#c30000 306px,#ed0000 308px)"></i><i style="top:245px;left:1px;width:308px;height:3px;background:linear-gradient(90deg,#0000bc 0px,#0000cb 3px,#000098 15px,#000082 38px,#000090 153px,#0000b6 199px,#0000f3 227px,#000cff 234px,#0069ff 253px,#00ddff 268px,#06fff9 272px,#8cff73 283px,#f8ff07 290px,#ffbe00 294px,#ff0000 303px,#d70000 305px,#d10000 306px,#f20000 308px)"></i><i style="top:247px;left:1px;width:309px;height:3px;background:linear-gradient(90deg,#0000bb 0px,#0000c5 4px,#000096 16px,#000081 41px,#000090 155px,#0000b7 200px,#0000f6 228px,#000fff 235px,#0068ff 253px,#00dbff 268px,#04fffb 272px,#98ff67 284px,#f5ff0a 290px,#ffe600 292px,#ff2f00 301px,#ff0000 303px,#b60000 306px,#fe0000 309px)"></i><i style="top:249px;left:2px;width:308px;height:3px;background:linear-gradient(90deg,#0000c2 0px,#0000d1 2px,#0000a1 11px,#000085 29px,#00008d 146px,#0000b1 195px,#0000ec 224px,#0007ff 232px,#0061ff 251px,#00d1ff 266px,#02fffd 271px,#87ff78 282px,#fff900 290px,#ff3500 300px,#ff0900 302px,#cf0000 305px,#d50000 306px,#fe0000 308px)"></i><i style="top:251px;left:2px;width:308px;height:3px;background:linear-gradient(90deg,#0000bf 0px,#0000c6 3px,#000096 15px,#000081 40px,#000091 155px,#0000b8 200px,#0000f8 228px,#001aff 237px,#0079ff 255px,#00ecff 269px,#01fffe 271px,#93ff6c 283px,#fffc00 290px,#ff4b00 299px,#ff0600 302px,#c40000 305px,#cc0000 306px,#fb0000 308px)"></i><i style="top:253px;left:2px;width:308px;height:3px;background:linear-gradient(90deg,#0000c0 0px,#0000c8 3px,#000098 14px,#000082 37px,#000090 153px,#0000b6 199px,#0000f4 227px,#000dff 234px,#0065ff 252px,#00d7ff 267px,#00feff 271px,#84ff7b 282px,#fffe00 290px,#ff4e00 299px,#ff0900 302px,#bf0000 305px,#c50000 306px,#f60000 308px)"></i><i style="top:255px;left:2px;width:308px;height:3px;background:linear-gradient(90deg,#0000c0 0px,#0000cb 3px,#00009c 13px,#000083 33px,#00008f 151px,#0000b5 198px,#0000f0 226px,#0009ff 233px,#0064ff 252px,#00d6ff 267px,#00fdff 271px,#82ff7d 282px,#ffff00 290px,#ff4f00 299px,#ff0c00 302px,#de0000 304px,#ce0000 305px,#d10000 306px,#fa0000 308px)"></i><i style="top:257px;left:2px;width:308px;height:3px;background:linear-gradient(90deg,#0000bd 0px,#0000c5 3px,#000094 16px,#000081 42px,#000091 156px,#0000b9 201px,#0000f6 228px,#0010ff 235px,#006aff 253px,#00dfff 268px,#08fff7 272px,#8fff70 283px,#fdff02 290px,#ff6600 298px,#ff0c00 302px,#f20000 303px,#c10000 305px,#c10000 306px,#f30000 308px)"></i><i style="top:259px;left:2px;width:308px;height:3px;background:linear-gradient(90deg,#0000bf 0px,#0000cc 3px,#00009c 13px,#000083 33px,#00008f 152px,#0000b4 198px,#0000ef 226px,#0008ff 233px,#0063ff 252px,#00d4ff 267px,#07fff8 272px,#8eff71 283px,#fcff03 290px,#ff6800 298px,#ff0f00 302px,#f70000 303px,#cc0000 305px,#ca0000 306px,#f40000 308px)"></i><i style="top:261px;left:2px;width:308px;height:3px;background:linear-gradient(90deg,#0000bd 0px,#0000c9 3px,#000097 15px,#000082 39px,#000090 156px,#0000b8 201px,#0000f5 228px,#000bff 234px,#0068ff 253px,#00d4ff 267px,#06fff9 272px,#8dff72 283px,#fbff04 290px,#ff7e00 297px,#ff0e00 302px,#f50000 303px,#c60000 305px,#c40000 306px,#f20000 308px)"></i><i style="top:263px;left:2px;width:308px;height:3px;background:linear-gradient(90deg,#0000bd 0px,#0000c9 3px,#000097 15px,#000082 39px,#000090 156px,#0000b8 201px,#0000f5 228px,#000bff 234px,#0062ff 252px,#00d3ff 267px,#05fffa 272px,#8dff72 283px,#fbff04 290px,#ff7e00 297px,#ff0e00 302px,#f50000 303px,#c20000 305px,#bd0000 306px,#f00000 308px)"></i><i style="top:265px;left:2px;width:308px;height:3px;background:linear-gradient(90deg,#0000bd 0px,#0000cf 3px,#00009d 13px,#000084 32px,#00008f 152px,#0000b5 199px,#0000f2 227px,#000aff 234px,#0067ff 253px,#00dcff 268px,#05fffa 272px,#8cff73 283px,#faff05 290px,#ff7f00 297px,#ff1000 302px,#f70000 303px,#ca0000 305px,#c70000 306px,#f20000 308px)"></i><i style="top:267px;left:2px;width:308px;height:3px;background:linear-gradient(90deg,#0000ba 0px,#0000c5 4px,#000096 16px,#000081 41px,#000091 157px,#0000b8 201px,#0000f4 228px,#000eff 235px,#0067ff 253px,#00dcff 268px,#05fffa 272px,#8cff73 283px,#faff05 290px,#ff7e00 297px,#ff0e00 302px,#f50000 303px,#c30000 305px,#bf0000 306px,#f10000 308px)"></i><i style="top:269px;left:3px;width:307px;height:3px;background:linear-gradient(90deg,#0000c1 0px,#0000cc 2px,#000098 14px,#000082 37px,#000090 155px,#0000b8 200px,#0000f4 227px,#000eff 234px,#0067ff 252px,#00d2ff 266px,#05fffa 271px,#8cff73 282px,#fbff04 289px,#ff7e00 296px,#ff0e00 301px,#f50000 302px,#c60000 304px,#c50000 305px,#f30000 307px)"></i><i style="top:271px;left:3px;width:307px;height:3px;background:linear-gradient(90deg,#0000c0 0px,#0000ca 3px,#000099 14px,#000082 36px,#000090 155px,#0000b7 200px,#0000f4 227px,#000dff 234px,#0067ff 252px,#00dbff 267px,#05fffa 271px,#8cff73 282px,#fbff04 289px,#ff7e00 296px,#ff0e00 301px,#f50000 302px,#c60000 304px,#c50000 305px,#f30000 307px)"></i><i style="top:273px;left:3px;width:307px;height:3px;background:linear-gradient(90deg,#0000be 0px,#0000c6 3px,#000095 16px,#000082 42px,#000091 157px,#0000b9 201px,#0000f7 228px,#0015ff 236px,#0074ff 254px,#00e5ff 268px,#04fffb 271px,#8cff73 282px,#fbff04 289px,#ff7e00 296px,#ff0d00 301px,#f40000 302px,#c10000 304px,#c40000 305px,#f60000 307px)"></i><i style="top:275px;left:3px;width:307px;height:3px;background:linear-gradient(90deg,#0000bf 0px,#0000cd 3px,#00009c 13px,#000083 33px,#00008f 154px,#0000b6 199px,#0000f4 227px,#000dff 234px,#0067ff 252px,#00dbff 267px,#04fffb 271px,#8cff73 282px,#faff05 289px,#ff7e00 296px,#ff0f00 301px,#f70000 302px,#cd0000 304px,#ce0000 305px,#f90000 307px)"></i><i style="top:277px;left:3px;width:307px;height:3px;background:linear-gradient(90deg,#0000bc 0px,#0000c9 3px,#000095 16px,#000082 41px,#000091 157px,#0000b9 201px,#0000f7 228px,#0015ff 236px,#0073ff 254px,#00e4ff 268px,#04fffb 271px,#8cff73 282px,#f9ff06 289px,#ff9500 295px,#fe0000 302px,#d70000 304px,#ec0000 306px,#ff0100 307px)"></i><i style="top:279px;left:3px;width:307px;height:3px;background:linear-gradient(90deg,#0000bc 0px,#0000ca 3px,#000098 15px,#000082 38px,#000091 157px,#0000b9 201px,#0000f7 228px,#0015ff 236px,#0073ff 254px,#00e4ff 268px,#03fffc 271px,#8bff74 282px,#f8ff07 289px,#ffbe00 293px,#ff0900 302px,#e60000 304px,#f90000 306px,#ff0b00 307px)"></i><i style="top:281px;left:4px;width:306px;height:3px;background:linear-gradient(90deg,#0000c2 0px,#0000ce 2px,#00009b 13px,#000083 34px,#000090 155px,#0000b7 199px,#0000f3 226px,#000dff 233px,#0066ff 251px,#00daff 266px,#03fffc 270px,#98ff67 282px,#f6ff09 288px,#ffe500 290px,#ff0100 302px,#f00000 303px,#ff0800 305px,#ff1700 306px)"></i><i style="top:283px;left:4px;width:305px;height:3px;background:linear-gradient(90deg,#0000be 0px,#0000c1 4px,#000094 16px,#000082 42px,#000091 157px,#0000b8 200px,#0000f6 227px,#0010ff 234px,#006cff 252px,#00daff 266px,#02fffd 270px,#96ff69 282px,#fffa00 289px,#fa0000 303px,#ff1500 305px)"></i><i style="top:285px;left:4px;width:305px;height:3px;background:linear-gradient(90deg,#0000c0 0px,#0000cb 3px,#00009c 13px,#000083 33px,#000090 155px,#0000b7 199px,#0000f3 226px,#000cff 233px,#0065ff 251px,#00d9ff 266px,#01fffe 270px,#95ff6a 282px,#fffd00 289px,#ff1500 302px,#ff0c00 303px,#ff2400 305px)"></i><i style="top:287px;left:4px;width:305px;height:3px;background:linear-gradient(90deg,#0000bd 0px,#0000ca 3px,#00009a 14px,#000083 35px,#000091 156px,#0000b8 200px,#0000f6 227px,#0010ff 234px,#006bff 252px,#00e1ff 267px,#00ffff 270px,#92ff6d 282px,#feff01 289px,#ff1f00 302px,#ff1900 303px,#ff3100 305px)"></i><i style="top:289px;left:4px;width:305px;height:3px;background:linear-gradient(90deg,#0000bd 0px,#0000c7 3px,#000095 16px,#000082 41px,#000092 158px,#0000ba 201px,#0000f9 228px,#0029ff 240px,#008dff 257px,#00feff 270px,#90ff6f 282px,#f9ff06 289px,#ff2900 302px,#ff3300 304px,#ff3e00 305px)"></i><i style="top:291px;left:4px;width:305px;height:3px;background:linear-gradient(90deg,#0000bc 0px,#0000d1 3px,#0000a1 12px,#000085 30px,#00008f 153px,#0000b5 198px,#0000f3 226px,#000cff 233px,#0064ff 251px,#00d6ff 266px,#00fdff 270px,#80ff7f 281px,#fffa00 290px,#ff3400 302px,#ff4c00 305px)"></i><i style="top:293px;left:5px;width:303px;height:3px;background:linear-gradient(90deg,#0000be 0px,#0000c6 3px,#000096 15px,#000082 39px,#000092 158px,#0000bb 201px,#0000fc 228px,#0047ff 245px,#00b2ff 261px,#00fbff 269px,#70ff8f 279px,#ffff00 289px,#ff3d00 301px,#ff4f00 303px)"></i><i style="top:295px;left:5px;width:303px;height:3px;background:linear-gradient(90deg,#0000c0 0px,#0000c9 3px,#000099 14px,#000082 36px,#000092 158px,#0000bb 201px,#0000fc 228px,#0046ff 245px,#00b1ff 261px,#05fffa 270px,#a2ff5d 283px,#f9ff06 289px,#ff7a00 298px,#ff4d00 301px,#ff5d00 303px)"></i><i style="top:297px;left:5px;width:303px;height:3px;background:linear-gradient(90deg,#0000be 0px,#0000cc 3px,#00009c 13px,#000083 33px,#000091 157px,#0000b9 200px,#0000f8 227px,#001bff 236px,#007cff 254px,#03fffc 270px,#9eff61 283px,#fffd00 290px,#ff6300 300px,#ff6200 302px,#ff6b00 303px)"></i><i style="top:299px;left:5px;width:303px;height:3px;background:linear-gradient(90deg,#0000bc 0px,#0000c3 4px,#000093 17px,#000082 42px,#000093 160px,#0000bd 202px,#0000fb 228px,#0040ff 244px,#00a7ff 260px,#01fffe 270px,#9aff65 283px,#faff05 290px,#ff9c00 297px,#ff7100 300px,#ff7000 302px,#ff7800 303px)"></i><i style="top:301px;left:6px;width:301px;height:3px;background:linear-gradient(90deg,#0000c2 0px,#0000cf 2px,#00009d 12px,#000084 32px,#000092 157px,#0000bb 200px,#0000fb 227px,#003fff 243px,#00a6ff 259px,#00feff 269px,#95ff6a 282px,#fffe00 290px,#ff8800 298px,#ff7b00 300px,#ff7e00 301px)"></i><i style="top:303px;left:6px;width:301px;height:3px;background:linear-gradient(90deg,#0000bf 0px,#0000c8 3px,#000099 14px,#000082 36px,#000093 159px,#0000bc 201px,#0006ff 230px,#0060ff 249px,#00d6ff 265px,#07fff8 270px,#b7ff48 285px,#fff800 291px,#ff9400 298px,#ff8c00 301px)"></i><i style="top:305px;left:6px;width:301px;height:3px;background:linear-gradient(90deg,#0000bf 0px,#0000c7 3px,#000097 15px,#000082 38px,#000093 160px,#0000be 202px,#0006ff 230px,#005fff 249px,#00d4ff 265px,#05fffa 270px,#beff41 286px,#feff01 291px,#ffa100 298px,#ff9a00 301px)"></i><i style="top:307px;left:6px;width:300px;height:3px;background:linear-gradient(90deg,#0000be 0px,#0000cf 3px,#0000a0 12px,#000085 30px,#000091 156px,#0000b9 199px,#0000f7 226px,#0015ff 234px,#0070ff 252px,#00e4ff 267px,#02fffd 270px,#c4ff3b 287px,#fff800 292px,#ffae00 298px,#ffa600 300px)"></i><i style="top:309px;left:6px;width:300px;height:3px;background:linear-gradient(90deg,#0000ba 0px,#0000c5 4px,#000096 16px,#000083 39px,#000094 161px,#0000be 202px,#0005ff 230px,#005dff 249px,#00d0ff 265px,#00feff 270px,#c8ff37 288px,#ffff00 292px,#ffbb00 298px,#ffb400 300px)"></i><i style="top:311px;left:7px;width:299px;height:3px;background:linear-gradient(90deg,#0000c1 0px,#0000c9 3px,#00009b 13px,#000083 34px,#000094 160px,#0000bd 201px,#0005ff 229px,#005cff 248px,#00ceff 264px,#06fff9 270px,#ceff31 288px,#fffa00 292px,#ffc800 297px,#ffc200 299px)"></i><i style="top:313px;left:7px;width:298px;height:3px;background:linear-gradient(90deg,#0000bf 0px,#0000cb 3px,#00009c 13px,#000083 33px,#000094 160px,#0000bd 201px,#0004ff 229px,#0061ff 249px,#00d5ff 265px,#03fffc 270px,#c8ff37 288px,#fbff04 292px,#ffd100 298px)"></i><i style="top:315px;left:7px;width:298px;height:3px;background:linear-gradient(90deg,#0000bd 0px,#0000c6 3px,#000093 17px,#000083 41px,#000095 162px,#0000c1 203px,#0004ff 229px,#0060ff 249px,#00d2ff 265px,#00ffff 270px,#c1ff3e 288px,#fdff02 293px,#ffde00 298px)"></i><i style="top:317px;left:7px;width:297px;height:3px;background:linear-gradient(90deg,#0000bc 0px,#0000cf 3px,#00009d 13px,#000084 33px,#000094 161px,#0000bf 202px,#0003ff 229px,#005eff 249px,#00d8ff 266px,#06fff9 271px,#bbff44 288px,#fdff02 294px,#ffed00 297px)"></i><i style="top:319px;left:8px;width:296px;height:3px;background:linear-gradient(90deg,#0000bf 0px,#0000c8 3px,#000099 14px,#000083 35px,#000095 162px,#0000c0 202px,#0006ff 229px,#0063ff 249px,#00deff 266px,#03fffc 270px,#a8ff57 286px,#faff05 294px,#fffa00 296px)"></i><i style="top:321px;left:8px;width:295px;height:3px;background:linear-gradient(90deg,#0000bf 0px,#0000c8 3px,#000097 15px,#000083 37px,#000096 163px,#0000c2 203px,#0005ff 229px,#0062ff 249px,#00dbff 266px,#00feff 270px,#a1ff5e 286px,#eeff11 294px,#f4ff0b 295px)"></i><i style="top:323px;left:8px;width:295px;height:3px;background:linear-gradient(90deg,#0000bd 0px,#0000cf 3px,#00009d 13px,#000084 33px,#000095 162px,#0000c1 203px,#0005ff 229px,#0060ff 249px,#00d8ff 266px,#04fffb 271px,#a5ff5a 287px,#e3ff1c 294px,#e9ff16 295px)"></i><i style="top:325px;left:9px;width:293px;height:3px;background:linear-gradient(90deg,#0000bf 0px,#0000c5 3px,#000094 16px,#000083 39px,#000096 163px,#0000c3 203px,#0004ff 228px,#005fff 248px,#00ddff 266px,#00ffff 270px,#d2ff2d 292px,#d8ff27 293px)"></i><i style="top:327px;left:9px;width:293px;height:3px;background:linear-gradient(90deg,#0000c0 0px,#0000ca 3px,#00009c 13px,#000083 33px,#000096 163px,#0000c3 203px,#0004ff 228px,#005dff 248px,#00daff 266px,#05fffa 271px,#c1ff3e 291px,#ceff31 293px)"></i><i style="top:329px;left:9px;width:292px;height:3px;background:linear-gradient(90deg,#0000bd 0px,#0000cc 3px,#00009a 14px,#000084 35px,#000097 164px,#0000c4 204px,#0006ff 229px,#0062ff 249px,#00deff 267px,#01fffe 271px,#b7ff48 291px,#beff41 292px)"></i><i style="top:331px;left:9px;width:292px;height:3px;background:linear-gradient(90deg,#0000bc 0px,#0000c3 4px,#000094 17px,#000084 40px,#000097 165px,#0000c4 204px,#0006ff 229px,#0060ff 249px,#00e3ff 268px,#05fffa 272px,#aeff51 291px,#b3ff4c 292px)"></i><i style="top:333px;left:10px;width:290px;height:3px;background:linear-gradient(90deg,#0000c1 0px,#0000cf 2px,#00009b 13px,#000084 33px,#000097 164px,#0000c4 203px,#0005ff 228px,#0064ff 249px,#00e7ff 268px,#00ffff 271px,#9eff61 289px,#a4ff5b 290px)"></i><i style="top:335px;left:10px;width:290px;height:3px;background:linear-gradient(90deg,#0000bd 0px,#0000c9 3px,#000097 15px,#000084 36px,#000098 165px,#0000c5 204px,#0004ff 228px,#0062ff 249px,#00ebff 269px,#0cfff3 273px,#94ff6b 289px,#9aff65 290px)"></i><i style="top:337px;left:10px;width:289px;height:3px;background:linear-gradient(90deg,#0000bd 0px,#0000c9 3px,#000098 15px,#000084 36px,#000099 166px,#0000c7 205px,#0003ff 228px,#0060ff 249px,#00e7ff 269px,#07fff8 273px,#8bff74 289px)"></i><i style="top:339px;left:11px;width:287px;height:3px;background:linear-gradient(90deg,#0000c1 0px,#0000cf 2px,#00009b 13px,#000084 33px,#000099 166px,#0000c8 205px,#0006ff 228px,#0064ff 249px,#02fffd 272px,#7cff83 287px)"></i><i style="top:341px;left:11px;width:287px;height:3px;background:linear-gradient(90deg,#0000bd 0px,#0000c3 4px,#000095 16px,#000084 38px,#00009a 167px,#0000c8 205px,#0005ff 228px,#0062ff 249px,#00f4ff 271px,#17ffe8 275px,#73ff8c 287px)"></i><i style="top:343px;left:11px;width:286px;height:3px;background:linear-gradient(90deg,#0000bd 0px,#0000cc 3px,#00009d 13px,#000084 32px,#00009a 167px,#0000c8 205px,#0004ff 228px,#0066ff 250px,#01fffe 273px,#65ff9a 286px)"></i><i style="top:345px;left:12px;width:284px;height:3px;background:linear-gradient(90deg,#0000c0 0px,#0000ca 3px,#00009b 13px,#000084 33px,#00009a 167px,#0000c9 205px,#0004ff 227px,#0064ff 249px,#00f4ff 271px,#15ffea 275px,#57ffa8 284px)"></i><i style="top:347px;left:12px;width:283px;height:3px;background:linear-gradient(90deg,#0000be 0px,#0000c5 3px,#000093 17px,#000085 39px,#00009c 169px,#0000cb 206px,#0006ff 228px,#0067ff 250px,#00efff 271px,#08fff7 274px,#49ffb6 283px)"></i><i style="top:349px;left:12px;width:283px;height:3px;background:linear-gradient(90deg,#0000bd 0px,#0000cf 3px,#0000a0 12px,#000085 30px,#00009b 168px,#0000ca 206px,#0005ff 228px,#0065ff 250px,#00f2ff 272px,#0afff5 275px,#41ffbe 283px)"></i><i style="top:351px;left:13px;width:281px;height:3px;background:linear-gradient(90deg,#0000bf 0px,#0000c8 3px,#000097 15px,#000085 35px,#00009c 169px,#0000cc 206px,#0004ff 227px,#0068ff 250px,#00edff 271px,#0cfff3 275px,#34ffcb 281px)"></i><i style="top:353px;left:13px;width:280px;height:3px;background:linear-gradient(90deg,#0000bf 0px,#0000c8 3px,#000098 15px,#000085 35px,#00009d 170px,#0000ce 207px,#0007ff 228px,#006bff 251px,#00f0ff 272px,#06fff9 275px,#27ffd8 280px)"></i><i style="top:355px;left:13px;width:279px;height:3px;background:linear-gradient(90deg,#0000bc 0px,#0000d0 3px,#00009d 13px,#000085 32px,#00009e 171px,#0000cf 208px,#0006ff 228px,#0068ff 251px,#00f2ff 273px,#07fff8 276px,#1affe5 279px)"></i><i style="top:357px;left:14px;width:278px;height:3px;background:linear-gradient(90deg,#0000be 0px,#0000c2 4px,#000095 16px,#000086 36px,#00009e 171px,#0000d1 208px,#0005ff 227px,#0066ff 250px,#00ecff 272px,#07fff8 276px,#13ffec 278px)"></i><i style="top:359px;left:14px;width:277px;height:3px;background:linear-gradient(90deg,#0000be 0px,#0000cb 3px,#00009d 13px,#000085 31px,#00009e 170px,#0000cc 206px,#0007ff 228px,#006eff 252px,#01fffe 276px,#07fff8 277px)"></i><i style="top:361px;left:15px;width:275px;height:3px;background:linear-gradient(90deg,#0000c1 0px,#0000cd 2px,#000099 14px,#000086 33px,#00009f 169px,#0000ca 204px,#0006ff 227px,#006bff 251px,#00faff 275px)"></i><i style="top:363px;left:15px;width:274px;height:3px;background:linear-gradient(90deg,#0000bf 0px,#0000c5 3px,#000093 17px,#000086 37px,#0000a0 170px,#0000c9 204px,#0005ff 227px,#006eff 252px,#00eeff 274px)"></i><i style="top:365px;left:15px;width:273px;height:3px;background:linear-gradient(90deg,#0000bd 0px,#0000ce 3px,#0000a0 12px,#000086 30px,#0000a0 168px,#0000c2 200px,#0004ff 227px,#006bff 252px,#00e3ff 273px)"></i><i style="top:367px;left:16px;width:271px;height:3px;background:linear-gradient(90deg,#0000bf 0px,#0000c9 3px,#000099 14px,#000086 33px,#0000a0 167px,#0000c0 198px,#0006ff 227px,#0072ff 253px,#00d8ff 271px)"></i><i style="top:369px;left:16px;width:270px;height:3px;background:linear-gradient(90deg,#0000be 0px,#0000c8 3px,#000095 16px,#000087 35px,#0000a1 168px,#0000bf 198px,#0004ff 227px,#006fff 253px,#00cdff 270px)"></i><i style="top:371px;left:17px;width:268px;height:3px;background:linear-gradient(90deg,#0000c2 0px,#0000d0 2px,#0000a1 11px,#000086 28px,#0000a1 164px,#0000ba 194px,#0000fc 224px,#0050ff 246px,#00c2ff 268px)"></i><i style="top:373px;left:17px;width:267px;height:3px;background:linear-gradient(90deg,#0000bd 0px,#0000c4 4px,#000095 16px,#000087 35px,#0000a2 166px,#0000bd 196px,#0005ff 227px,#0073ff 254px,#00b8ff 267px)"></i><i style="top:375px;left:17px;width:267px;height:3px;background:linear-gradient(90deg,#0000bd 0px,#0000cb 3px,#000098 15px,#000087 33px,#0000a3 165px,#0000bc 196px,#0004ff 227px,#0070ff 254px,#00b4ff 267px)"></i><i style="top:377px;left:18px;width:265px;height:3px;background:linear-gradient(90deg,#0000c0 0px,#0000cb 3px,#00009c 13px,#000087 30px,#0000a3 163px,#0000bd 196px,#0006ff 227px,#0072ff 254px,#00aaff 265px)"></i><i style="top:379px;left:18px;width:264px;height:3px;background:linear-gradient(90deg,#0000bd 0px,#0000c3 4px,#000094 17px,#000088 35px,#0000a4 164px,#0000bf 197px,#0005ff 227px,#006fff 254px,#00a0ff 264px)"></i><i style="top:381px;left:19px;width:261px;height:3px;background:linear-gradient(90deg,#0000c2 0px,#0000ce 2px,#00009c 13px,#000087 30px,#0000a4 161px,#0000c1 198px,#0006ff 227px,#0070ff 254px,#0092ff 261px)"></i><i style="top:383px;left:19px;width:260px;height:3px;background:linear-gradient(90deg,#0000bd 0px,#0000cb 3px,#00009a 14px,#000088 31px,#0000a5 161px,#0000c3 199px,#0005ff 227px,#0069ff 253px,#008cff 258px,#0085ff 259px,#008aff 260px)"></i><i style="top:385px;left:19px;width:259px;height:3px;background:linear-gradient(90deg,#0000bc 0px,#0000c7 3px,#000094 17px,#000088 34px,#0000a6 162px,#0000c5 201px,#0007ff 228px,#0060ff 251px,#0081ff 256px,#0081ff 259px)"></i><i style="top:387px;left:20px;width:257px;height:3px;background:linear-gradient(90deg,#0000c0 0px,#0000cc 3px,#00009f 12px,#000088 28px,#0000a6 159px,#0000c8 202px,#0005ff 227px,#0051ff 247px,#007fff 255px,#0079ff 257px)"></i><i style="top:389px;left:20px;width:256px;height:3px;background:linear-gradient(90deg,#0000bb 0px,#0000c7 4px,#000098 15px,#000088 32px,#0000a7 160px,#0000cc 204px,#0004ff 227px,#0044ff 244px,#0082ff 254px,#0073ff 256px)"></i><i style="top:391px;left:21px;width:254px;height:3px;background:linear-gradient(90deg,#0000c0 0px,#0000c7 3px,#000097 15px,#000089 31px,#0000a7 158px,#0000cd 204px,#0005ff 227px,#003eff 241px,#007dff 251px,#0070ff 254px)"></i><i style="top:393px;left:21px;width:253px;height:3px;background:linear-gradient(90deg,#0000bd 0px,#0000cf 3px,#0000a1 12px,#000088 28px,#0000a8 157px,#0000d0 206px,#0004ff 227px,#005bff 245px,#0074ff 250px,#006fff 253px)"></i><i style="top:395px;left:22px;width:251px;height:3px;background:linear-gradient(90deg,#0000bf 0px,#0000c3 4px,#000095 16px,#000089 32px,#0000a9 157px,#0000d3 207px,#0004ff 225px,#005cff 243px,#0078ff 249px,#006bff 251px)"></i><i style="top:397px;left:22px;width:249px;height:3px;background:linear-gradient(90deg,#0000be 0px,#0000cb 3px,#00009b 14px,#000089 30px,#0000aa 156px,#0000d3 205px,#0004ff 224px,#0067ff 244px,#007cff 247px,#006dff 249px)"></i><i style="top:399px;left:23px;width:247px;height:3px;background:linear-gradient(90deg,#0000c0 0px,#0000cb 3px,#00009c 13px,#000089 28px,#0000ab 155px,#0000d2 201px,#0004ff 222px,#005bff 240px,#0075ff 244px,#006cff 247px)"></i><i style="top:401px;left:23px;width:246px;height:3px;background:linear-gradient(90deg,#0000bd 0px,#0000c3 4px,#000094 17px,#00008a 33px,#0000ac 156px,#0000d0 198px,#0006ff 221px,#0057ff 238px,#0072ff 244px,#006bff 246px)"></i><i style="top:403px;left:24px;width:244px;height:3px;background:linear-gradient(90deg,#0000c1 0px,#0000ce 2px,#00009c 13px,#00008a 28px,#0000ac 153px,#0000cf 194px,#0005ff 217px,#0036ff 230px,#0075ff 242px,#0067ff 244px)"></i><i style="top:405px;left:24px;width:242px;height:3px;background:linear-gradient(90deg,#0000bc 0px,#0000cb 3px,#00009b 14px,#00008a 29px,#0000ad 153px,#0000cf 191px,#0006ff 215px,#003bff 230px,#0076ff 240px,#0067ff 242px)"></i><i style="top:407px;left:25px;width:240px;height:3px;background:linear-gradient(90deg,#0000c1 0px,#0000c4 3px,#000093 17px,#00008b 34px,#0000af 154px,#0000ce 187px,#0004ff 211px,#0048ff 230px,#0070ff 237px,#0068ff 240px)"></i><i style="top:409px;left:25px;width:239px;height:3px;background:linear-gradient(90deg,#0000be 0px,#0000ce 3px,#0000a1 12px,#00008a 27px,#0000ae 151px,#0000cd 184px,#0005ff 209px,#0054ff 231px,#0070ff 237px,#0066ff 239px)"></i><i style="top:411px;left:26px;width:236px;height:3px;background:linear-gradient(90deg,#0000be 0px,#0000c8 3px,#000099 14px,#00008b 28px,#0000b0 151px,#0000cd 180px,#0006ff 206px,#0065ff 232px,#0073ff 234px,#0068ff 236px)"></i><i style="top:413px;left:26px;width:235px;height:3px;background:linear-gradient(90deg,#0000be 0px,#0000c8 3px,#000096 16px,#00008b 30px,#0000b1 151px,#0000cc 177px,#0004ff 203px,#0067ff 230px,#0072ff 233px,#0063ff 235px)"></i><i style="top:415px;left:27px;width:233px;height:3px;background:linear-gradient(90deg,#0000c1 0px,#0000cf 2px,#00009c 13px,#00008b 27px,#0000b2 149px,#0000ca 173px,#0006ff 200px,#005eff 224px,#0076ff 230px,#0066ff 233px)"></i><i style="top:417px;left:27px;width:231px;height:3px;background:linear-gradient(90deg,#0000bc 0px,#0000c5 4px,#000096 16px,#00008c 29px,#0000b4 150px,#0000cc 172px,#0005ff 197px,#0057ff 220px,#0079ff 228px,#0071ff 231px)"></i><i style="top:419px;left:28px;width:229px;height:3px;background:linear-gradient(90deg,#0000c1 0px,#0000c8 3px,#000097 15px,#00008c 28px,#0000b4 148px,#0000cd 170px,#0005ff 193px,#0059ff 217px,#0084ff 227px,#0074ff 229px)"></i><i style="top:421px;left:28px;width:227px;height:3px;background:linear-gradient(90deg,#0000bc 0px,#0000ce 3px,#00009e 13px,#00008c 26px,#0000b5 147px,#0000cd 168px,#0007ff 191px,#005cff 215px,#008cff 225px,#007cff 227px)"></i><i style="top:423px;left:29px;width:225px;height:3px;background:linear-gradient(90deg,#0000bf 0px,#0000c3 4px,#000095 16px,#00008d 29px,#0000b7 147px,#0000ce 166px,#0006ff 187px,#005fff 212px,#008fff 222px,#007dff 225px)"></i><i style="top:425px;left:29px;width:223px;height:3px;background:linear-gradient(90deg,#0000bd 0px,#0000cc 3px,#00009c 14px,#00008d 26px,#0000b7 146px,#0000cf 165px,#0004ff 184px,#0066ff 211px,#0092ff 220px,#0089ff 223px)"></i><i style="top:427px;left:30px;width:221px;height:3px;background:linear-gradient(90deg,#0000be 0px,#0000cc 3px,#00009d 13px,#00008d 25px,#0000b9 145px,#0000d0 163px,#0005ff 181px,#0072ff 210px,#009bff 219px,#008bff 221px)"></i><i style="top:429px;left:31px;width:218px;height:3px;background:linear-gradient(90deg,#0000c1 0px,#0000c1 4px,#000095 16px,#00008f 31px,#0000bc 146px,#0000d6 163px,#0007ff 179px,#0084ff 210px,#00a6ff 216px,#0093ff 218px)"></i><i style="top:431px;left:31px;width:217px;height:3px;background:linear-gradient(90deg,#0000bf 0px,#0000cc 3px,#0000a0 12px,#00008e 24px,#0000bb 143px,#0000d2 160px,#0007ff 177px,#0089ff 208px,#00a9ff 214px,#0092ff 217px)"></i><i style="top:433px;left:32px;width:214px;height:3px;background:linear-gradient(90deg,#0000bf 0px,#0000c9 3px,#00009a 14px,#00008e 26px,#0000bc 142px,#0000d6 159px,#0005ff 174px,#009cff 208px,#00adff 211px,#009dff 214px)"></i><i style="top:435px;left:32px;width:213px;height:3px;background:linear-gradient(90deg,#0000be 0px,#0000c7 3px,#000094 17px,#000092 42px,#0000c3 149px,#0006ff 173px,#00aaff 207px,#00b0ff 211px,#00a1ff 213px)"></i><i style="top:437px;left:33px;width:210px;height:3px;background:linear-gradient(90deg,#0000c1 0px,#0000cf 2px,#0000a0 12px,#00008f 23px,#0000bd 137px,#0000d3 154px,#0005ff 170px,#0092ff 199px,#00bfff 208px,#00abff 210px)"></i><i style="top:439px;left:33px;width:208px;height:3px;background:linear-gradient(90deg,#0000bc 0px,#0000c7 4px,#000099 15px,#000090 27px,#0000bf 138px,#0000d7 154px,#0006ff 169px,#0069ff 189px,#00c9ff 206px,#00b3ff 208px)"></i><i style="top:441px;left:34px;width:206px;height:3px;background:linear-gradient(90deg,#0000c0 0px,#0000c7 3px,#000095 16px,#000092 36px,#0000c5 143px,#0005ff 166px,#005cff 184px,#00ceff 203px,#00b4ff 206px)"></i><i style="top:443px;left:34px;width:204px;height:3px;background:linear-gradient(90deg,#0000bc 0px,#0000d0 3px,#0000a2 12px,#000090 23px,#0000bd 130px,#0000d2 148px,#0007ff 165px,#005fff 183px,#00d3ff 200px,#00c1ff 204px)"></i><i style="top:445px;left:35px;width:201px;height:3px;background:linear-gradient(90deg,#0000bd 0px,#0000c5 4px,#000098 15px,#000092 28px,#0000c1 133px,#0000db 149px,#0005ff 162px,#005dff 180px,#00d8ff 197px,#00d5ff 200px,#00ccff 201px)"></i><i style="top:447px;left:36px;width:198px;height:3px;background:linear-gradient(90deg,#0000c2 0px,#0000c7 3px,#000095 16px,#0000a7 85px,#0000ce 141px,#0004ff 159px,#005aff 177px,#00c2ff 191px,#00e6ff 196px,#00d5ff 198px)"></i><i style="top:449px;left:36px;width:197px;height:3px;background:linear-gradient(90deg,#0000bd 0px,#0000ce 3px,#0000a1 12px,#000091 22px,#0000be 122px,#0000d4 142px,#0006ff 158px,#005dff 176px,#00d4ff 192px,#00edff 194px,#00cdff 197px)"></i><i style="top:451px;left:37px;width:194px;height:3px;background:linear-gradient(90deg,#0000bf 0px,#0000c3 4px,#000096 16px,#0000aa 86px,#0000d0 138px,#0005ff 155px,#005bff 173px,#00c8ff 188px,#00e5ff 191px,#00d3ff 194px)"></i><i style="top:453px;left:37px;width:192px;height:3px;background:linear-gradient(90deg,#0000bd 0px,#0000cc 3px,#000099 15px,#000094 28px,#0000c2 122px,#0000d6 139px,#0003ff 153px,#0059ff 171px,#00c6ff 186px,#00ddff 189px,#00d3ff 192px)"></i><i style="top:455px;left:38px;width:189px;height:3px;background:linear-gradient(90deg,#0000be 0px,#0000cd 3px,#00009d 13px,#000093 22px,#0000be 113px,#0000d5 136px,#0006ff 151px,#005dff 169px,#00c5ff 183px,#00d5ff 185px,#00d2ff 189px)"></i><i style="top:457px;left:39px;width:186px;height:3px;background:linear-gradient(90deg,#0000c1 0px,#0000c1 4px,#000095 16px,#0000b4 96px,#0000d5 134px,#0005ff 148px,#005bff 166px,#00b8ff 179px,#00daff 184px,#00cfff 186px)"></i><i style="top:459px;left:39px;width:184px;height:3px;background:linear-gradient(90deg,#0000be 0px,#0000cc 3px,#00009e 13px,#000094 22px,#0000be 108px,#0000d8 134px,#0006ff 147px,#0065ff 166px,#00dcff 182px,#00cbff 184px)"></i><i style="top:461px;left:40px;width:181px;height:3px;background:linear-gradient(90deg,#0000be 0px,#0000ca 3px,#00009c 13px,#000095 23px,#0000c0 107px,#0000d9 132px,#0004ff 144px,#006aff 164px,#00ddff 179px,#00c6ff 181px)"></i><i style="top:463px;left:40px;width:179px;height:3px;background:linear-gradient(90deg,#0000bc 0px,#0000c2 4px,#000094 17px,#0000bc 101px,#0000da 131px,#0005ff 143px,#0075ff 164px,#00c9ff 175px,#00d7ff 177px,#00c6ff 179px)"></i><i style="top:465px;left:41px;width:176px;height:3px;background:linear-gradient(90deg,#0000be 0px,#0000ca 3px,#0000a0 12px,#000095 21px,#0000c0 103px,#0000de 130px,#0006ff 141px,#006dff 160px,#00c9ff 172px,#00d3ff 173px,#00c6ff 176px)"></i><i style="top:467px;left:42px;width:173px;height:3px;background:linear-gradient(90deg,#0000bd 0px,#0000c7 3px,#000099 14px,#0000b3 84px,#0000df 128px,#0007ff 139px,#0064ff 156px,#00ceff 170px,#00c5ff 173px)"></i><i style="top:469px;left:42px;width:171px;height:3px;background:linear-gradient(90deg,#0000bc 0px,#0000c5 3px,#000095 16px,#0000c0 99px,#0000df 127px,#0004ff 137px,#0059ff 153px,#00c6ff 167px,#00c3ff 171px)"></i><i style="top:471px;left:43px;width:168px;height:3px;background:linear-gradient(90deg,#0000be 0px,#0000cb 2px,#00009c 13px,#00009e 40px,#0000cf 112px,#0000e3 126px,#0005ff 135px,#005cff 151px,#00c2ff 164px,#00c7ff 167px,#00bfff 168px)"></i><i style="top:473px;left:43px;width:166px;height:3px;background:linear-gradient(90deg,#0000b9 0px,#0000c4 4px,#000098 15px,#0000be 93px,#0000e1 124px,#0007ff 134px,#0064ff 151px,#00c8ff 164px,#00baff 166px)"></i><i style="top:475px;left:44px;width:163px;height:3px;background:linear-gradient(90deg,#0000bc 0px,#0000c4 3px,#000097 15px,#0000c3 96px,#0000e6 123px,#0004ff 131px,#0060ff 148px,#00c3ff 161px,#00b1ff 163px)"></i><i style="top:477px;left:45px;width:160px;height:3px;background:linear-gradient(90deg,#0000bd 0px,#0000cb 2px,#00009b 13px,#0000ba 83px,#0000e4 120px,#0006ff 129px,#005cff 145px,#00baff 157px,#00acff 160px)"></i><i style="top:479px;left:45px;width:157px;height:3px;background:linear-gradient(90deg,#0000b9 0px,#0000c2 4px,#000098 15px,#0000c6 95px,#0000e5 119px,#0007ff 128px,#005fff 144px,#00b5ff 155px,#00a5ff 157px)"></i><i style="top:481px;left:46px;width:154px;height:3px;background:linear-gradient(90deg,#0000bc 0px,#0000c4 3px,#000099 14px,#0000c6 93px,#0000e6 117px,#0005ff 125px,#005bff 141px,#00aaff 152px,#009fff 154px)"></i><i style="top:483px;left:47px;width:151px;height:3px;background:linear-gradient(90deg,#0000bd 0px,#0000c9 2px,#00009a 13px,#0000c6 90px,#0000e7 115px,#0006ff 123px,#0063ff 140px,#00a5ff 148px,#0098ff 151px)"></i><i style="top:485px;left:47px;width:148px;height:3px;background:linear-gradient(90deg,#0000b9 0px,#0000c0 4px,#00009b 14px,#0000c8 91px,#0000e5 113px,#0003ff 121px,#0060ff 138px,#009aff 146px,#0090ff 147px,#0092ff 148px)"></i><i style="top:487px;left:48px;width:145px;height:3px;background:linear-gradient(90deg,#0000bc 0px,#0000c3 3px,#00009c 13px,#0000c9 89px,#0000e6 111px,#0005ff 119px,#005cff 135px,#0092ff 142px,#008aff 145px)"></i><i style="top:489px;left:48px;width:143px;height:3px;background:linear-gradient(90deg,#0000b6 0px,#0000c7 3px,#00009c 13px,#0000c8 87px,#0000e8 110px,#0007ff 118px,#0059ff 133px,#0089ff 140px,#0080ff 141px,#0082ff 143px)"></i><i style="top:491px;left:49px;width:139px;height:3px;background:linear-gradient(90deg,#0000b9 0px,#0000bd 4px,#00009e 13px,#0000ca 86px,#0000e6 107px,#0005ff 115px,#0067ff 133px,#0081ff 136px,#007cff 139px)"></i><i style="top:493px;left:50px;width:136px;height:3px;background:linear-gradient(90deg,#0000bb 0px,#0000c6 2px,#00009e 12px,#0000ca 84px,#0000e7 105px,#0007ff 113px,#0064ff 130px,#0078ff 133px,#0073ff 136px)"></i><i style="top:495px;left:50px;width:133px;height:3px;background:linear-gradient(90deg,#0000b5 0px,#0000c5 3px,#00009f 12px,#0000ca 82px,#0000e9 104px,#0004ff 111px,#0061ff 128px,#0071ff 130px,#006dff 133px)"></i><i style="top:497px;left:51px;width:130px;height:3px;background:linear-gradient(90deg,#0000b9 0px,#0000bb 4px,#0000a1 12px,#0000cb 81px,#0000ea 102px,#0006ff 109px,#005eff 125px,#0067ff 127px,#0064ff 130px)"></i><i style="top:499px;left:52px;width:126px;height:3px;background:linear-gradient(90deg,#0000bb 0px,#0000c6 2px,#0000a2 10px,#0000ca 77px,#0000e8 99px,#0004ff 106px,#0053ff 121px,#0062ff 123px,#005dff 126px)"></i><i style="top:501px;left:52px;width:123px;height:3px;background:linear-gradient(90deg,#0000b5 0px,#0000bf 4px,#0000a3 11px,#0000cb 76px,#0000ea 98px,#0006ff 105px,#0058ff 121px,#0056ff 123px)"></i><i style="top:503px;left:53px;width:120px;height:3px;background:linear-gradient(90deg,#0000b9 0px,#0000bd 3px,#0000a4 11px,#0000cc 75px,#0000e8 95px,#0008ff 103px,#0053ff 117px,#004eff 120px)"></i><i style="top:505px;left:53px;width:117px;height:3px;background:linear-gradient(90deg,#0000b5 0px,#0000c6 3px,#0000a5 10px,#0000ca 71px,#0000e9 94px,#0005ff 101px,#004bff 114px,#0047ff 117px)"></i><i style="top:507px;left:54px;width:113px;height:3px;background:linear-gradient(90deg,#0000b5 0px,#0000bc 4px,#0000a6 10px,#0000ca 69px,#0000ea 92px,#0007ff 99px,#0043ff 111px,#003fff 113px)"></i><i style="top:509px;left:55px;width:109px;height:3px;background:linear-gradient(90deg,#0000b9 0px,#0000bc 3px,#0000a8 10px,#0000cb 67px,#0000e9 89px,#0005ff 96px,#003eff 107px,#0036ff 109px)"></i><i style="top:511px;left:55px;width:107px;height:3px;background:linear-gradient(90deg,#0000b4 0px,#0000c4 3px,#0000a9 9px,#0000c9 63px,#0000e9 87px,#0007ff 95px,#0032ff 105px,#002fff 107px)"></i><i style="top:513px;left:56px;width:103px;height:3px;background:linear-gradient(90deg,#0000b5 0px,#0000ba 4px,#0000ab 10px,#0000ca 62px,#0000e9 84px,#0009ff 93px,#002dff 101px,#0027ff 103px)"></i><i style="top:515px;left:57px;width:99px;height:3px;background:linear-gradient(90deg,#0000b8 0px,#0000bc 3px,#0000ac 9px,#0000ca 59px,#0000e7 80px,#0006ff 89px,#0025ff 97px,#001fff 99px)"></i><i style="top:517px;left:57px;width:96px;height:3px;background:linear-gradient(90deg,#0000b3 0px,#0000c2 3px,#0000ad 8px,#0000c9 56px,#0000e7 78px,#0006ff 87px,#001dff 95px,#0018ff 96px)"></i><i style="top:519px;left:58px;width:92px;height:3px;background:linear-gradient(90deg,#0000b5 0px,#0000b9 4px,#0000b0 10px,#0000cc 57px,#0000e7 75px,#0006ff 84px,#001aff 91px,#0016ff 92px)"></i><i style="top:521px;left:59px;width:88px;height:3px;background:linear-gradient(90deg,#0000b7 0px,#0000bc 3px,#0000b1 8px,#0000cc 54px,#0000e5 71px,#0006ff 81px,#0015ff 87px,#0014ff 88px)"></i><i style="top:523px;left:59px;width:85px;height:3px;background:linear-gradient(90deg,#0000b1 0px,#0000c1 3px,#0000b2 7px,#0000cd 54px,#0000e8 70px,#0005ff 79px,#0012ff 82px,#0010ff 85px)"></i><i style="top:525px;left:60px;width:81px;height:3px;background:linear-gradient(90deg,#0000b4 0px,#0000b5 5px,#0000cb 49px,#0000e5 66px,#0006ff 76px,#000cff 79px,#000dff 81px)"></i><i style="top:527px;left:61px;width:77px;height:3px;background:linear-gradient(90deg,#0000b5 0px,#0000bc 3px,#0000b7 10px,#0000d2 53px,#0000f5 68px,#0007ff 73px,#0008ff 77px)"></i><i style="top:529px;left:62px;width:73px;height:3px;background:linear-gradient(90deg,#0000b4 0px,#0000bd 3px,#0000ba 13px,#0000d6 54px,#0002ff 69px,#000aff 71px,#0004ff 73px)"></i><i style="top:531px;left:63px;width:69px;height:3px;background:linear-gradient(90deg,#0000b5 0px,#0000d4 50px,#0007ff 67px,#0000fe 69px)"></i><i style="top:533px;left:63px;width:66px;height:3px;background:linear-gradient(90deg,#0000b7 0px,#0000d7 49px,#0002ff 64px,#0000fa 66px)"></i><i style="top:535px;left:64px;width:62px;height:3px;background:linear-gradient(90deg,#0000b9 0px,#0000d7 46px,#0000fc 60px,#0000f8 62px)"></i><i style="top:537px;left:65px;width:57px;height:3px;background:linear-gradient(90deg,#0000bb 0px,#0000d8 43px,#0000f6 55px,#0000f8 57px)"></i><i style="top:539px;left:66px;width:53px;height:3px;background:linear-gradient(90deg,#0000bd 0px,#0000d8 39px,#0000f4 51px,#0000f4 53px)"></i><i style="top:541px;left:68px;width:48px;height:3px;background:linear-gradient(90deg,#0000bf 0px,#0000d9 34px,#0000f3 46px,#0000ef 48px)"></i><i style="top:543px;left:69px;width:43px;height:3px;background:linear-gradient(90deg,#0000c1 0px,#0000d8 29px,#0000ef 42px,#0000eb 43px)"></i><i style="top:545px;left:71px;width:36px;height:3px;background:linear-gradient(90deg,#0000c4 0px,#0000de 26px,#0000e9 36px)"></i><i style="top:547px;left:73px;width:28px;height:3px;background:linear-gradient(90deg,#0000c7 0px,#0000d7 14px,#0000e7 28px)"></i><i style="top:549px;left:75px;width:21px;height:3px;background:linear-gradient(90deg,#0000ca 0px,#0000dd 9px,#0000e4 21px)"></i></div><div class="pl" style="left:724px;top:79px;width:313px;height:561px;clip-path:polygon(62.0px 12.5px,64.7px 11.0px,67.4px 9.6px,70.2px 8.4px,73.1px 7.3px,76.1px 6.3px,79.1px 5.5px,82.2px 4.9px,85.3px 4.3px,88.5px 3.9px,91.7px 3.6px,95.0px 3.5px,98.2px 3.4px,101.6px 3.5px,104.9px 3.7px,108.2px 3.9px,111.6px 4.3px,114.9px 4.8px,118.2px 5.4px,121.6px 6.1px,124.9px 6.8px,128.2px 7.7px,131.4px 8.6px,134.7px 9.6px,137.9px 10.7px,141.0px 11.8px,144.2px 13.0px,147.2px 14.3px,150.2px 15.7px,153.2px 17.1px,156.2px 18.5px,159.1px 20.0px,161.9px 21.6px,164.8px 23.2px,167.6px 24.8px,170.4px 26.5px,173.1px 28.3px,175.8px 30.0px,178.5px 31.8px,181.2px 33.7px,183.8px 35.5px,186.5px 37.4px,189.1px 39.3px,191.7px 41.2px,194.3px 43.2px,196.8px 45.1px,199.4px 47.1px,201.9px 49.2px,204.4px 51.2px,206.9px 53.3px,209.4px 55.3px,211.9px 57.5px,214.3px 59.6px,216.7px 61.7px,219.1px 63.9px,221.5px 66.1px,223.8px 68.3px,226.2px 70.6px,228.5px 72.9px,230.8px 75.1px,233.0px 77.5px,235.3px 79.8px,237.5px 82.2px,239.6px 84.6px,241.8px 87.0px,243.9px 89.4px,246.0px 91.9px,248.1px 94.3px,250.2px 96.9px,252.2px 99.4px,254.2px 101.9px,256.1px 104.5px,258.1px 107.1px,260.0px 109.8px,261.8px 112.4px,263.7px 115.1px,265.5px 117.8px,267.2px 120.5px,269.0px 123.3px,270.7px 126.1px,272.4px 128.9px,274.0px 131.7px,275.6px 134.5px,277.2px 137.4px,278.7px 140.3px,280.2px 143.2px,281.7px 146.1px,283.1px 149.1px,284.5px 152.1px,285.9px 155.1px,287.2px 158.1px,288.5px 161.1px,289.8px 164.1px,291.0px 167.2px,292.2px 170.3px,293.4px 173.4px,294.5px 176.5px,295.6px 179.6px,296.6px 182.7px,297.6px 185.9px,298.6px 189.0px,299.5px 192.2px,300.4px 195.4px,301.3px 198.6px,302.1px 201.8px,302.9px 205.0px,303.6px 208.2px,304.3px 211.5px,305.0px 214.7px,305.6px 217.9px,306.2px 221.2px,306.8px 224.4px,307.3px 227.7px,307.8px 231.0px,308.2px 234.2px,308.6px 237.5px,309.0px 240.8px,309.3px 244.1px,309.6px 247.4px,309.8px 250.6px,310.0px 253.9px,310.1px 257.2px,310.3px 260.5px,310.3px 263.8px,310.4px 267.0px,310.4px 270.3px,310.3px 273.6px,310.2px 276.9px,310.1px 280.1px,309.9px 283.4px,309.7px 286.6px,309.4px 289.9px,309.1px 293.1px,308.8px 296.4px,308.4px 299.6px,308.0px 302.8px,307.5px 306.0px,307.0px 309.2px,306.4px 312.4px,305.8px 315.6px,305.1px 318.8px,304.5px 321.9px,303.7px 325.1px,303.0px 328.2px,302.1px 331.4px,301.3px 334.5px,300.4px 337.6px,299.5px 340.7px,298.5px 343.7px,297.5px 346.8px,296.4px 349.9px,295.3px 352.9px,294.2px 355.9px,293.0px 359.0px,291.8px 362.0px,290.6px 365.0px,289.3px 367.9px,288.0px 370.9px,286.7px 373.9px,285.3px 376.8px,283.9px 379.7px,282.4px 382.6px,281.0px 385.5px,279.4px 388.4px,277.9px 391.3px,276.3px 394.1px,274.7px 397.0px,273.1px 399.8px,271.4px 402.6px,269.7px 405.4px,268.0px 408.2px,266.2px 410.9px,264.4px 413.7px,262.6px 416.4px,260.8px 419.1px,258.9px 421.8px,257.0px 424.5px,255.1px 427.1px,253.1px 429.8px,251.2px 432.4px,249.2px 435.0px,247.1px 437.6px,245.1px 440.1px,243.0px 442.7px,240.9px 445.2px,238.8px 447.7px,236.6px 450.2px,234.5px 452.7px,232.3px 455.2px,230.1px 457.6px,227.8px 460.0px,225.6px 462.4px,223.3px 464.8px,221.0px 467.2px,218.7px 469.5px,216.4px 471.8px,214.0px 474.1px,211.7px 476.4px,209.3px 478.6px,206.9px 480.9px,204.4px 483.1px,202.0px 485.3px,199.6px 487.4px,197.1px 489.6px,194.6px 491.7px,192.1px 493.8px,189.6px 495.9px,187.1px 498.0px,184.5px 500.0px,182.0px 502.0px,179.4px 504.1px,176.8px 506.0px,174.2px 508.0px,171.6px 510.0px,169.0px 511.9px,166.4px 513.8px,163.8px 515.8px,161.1px 517.7px,158.5px 519.5px,155.8px 521.4px,153.1px 523.3px,150.5px 525.1px,147.8px 526.9px,145.1px 528.8px,142.4px 530.6px,139.6px 532.4px,136.9px 534.1px,134.2px 535.9px,131.5px 537.7px,128.7px 539.4px,126.0px 541.2px,123.2px 542.9px,120.5px 544.7px,117.7px 546.4px,114.9px 548.0px,112.0px 549.6px,109.1px 551.0px,106.1px 552.2px,103.0px 553.3px,99.9px 554.4px,96.8px 555.5px,93.8px 556.5px,90.5px 557.2px,87.2px 557.5px,83.8px 557.5px,80.6px 557.0px,77.8px 555.6px,75.3px 553.5px,73.1px 550.9px,71.2px 548.2px,69.5px 545.3px,68.0px 542.4px,66.7px 539.5px,65.4px 536.5px,64.2px 533.4px,63.0px 530.4px,61.9px 527.3px,60.9px 524.2px,59.9px 521.1px,58.9px 517.9px,57.9px 514.8px,56.9px 511.7px,55.9px 508.5px,54.9px 505.4px,54.0px 502.3px,53.0px 499.1px,52.0px 496.0px,51.1px 492.9px,50.1px 489.8px,49.1px 486.6px,48.2px 483.5px,47.2px 480.4px,46.2px 477.3px,45.3px 474.1px,44.3px 471.0px,43.4px 467.9px,42.5px 464.8px,41.5px 461.7px,40.6px 458.5px,39.7px 455.4px,38.8px 452.3px,37.8px 449.1px,36.9px 446.0px,36.1px 442.9px,35.2px 439.7px,34.3px 436.6px,33.4px 433.5px,32.6px 430.3px,31.7px 427.2px,30.9px 424.0px,30.1px 420.9px,29.2px 417.7px,28.4px 414.6px,27.6px 411.4px,26.9px 408.2px,26.1px 405.0px,25.3px 401.9px,24.6px 398.7px,23.9px 395.5px,23.1px 392.3px,22.4px 389.1px,21.7px 385.9px,21.1px 382.7px,20.4px 379.5px,19.7px 376.3px,19.1px 373.1px,18.5px 369.9px,17.9px 366.7px,17.2px 363.5px,16.7px 360.2px,16.1px 357.0px,15.5px 353.8px,15.0px 350.6px,14.4px 347.3px,13.9px 344.1px,13.4px 340.9px,12.9px 337.6px,12.4px 334.4px,11.9px 331.1px,11.5px 327.9px,11.0px 324.6px,10.6px 321.4px,10.2px 318.1px,9.7px 314.9px,9.4px 311.6px,9.0px 308.4px,8.6px 305.1px,8.3px 301.9px,7.9px 298.6px,7.6px 295.3px,7.3px 292.1px,7.0px 288.8px,6.7px 285.5px,6.4px 282.3px,6.2px 279.0px,5.9px 275.7px,5.7px 272.5px,5.5px 269.2px,5.3px 265.9px,5.1px 262.7px,4.9px 259.4px,4.8px 256.1px,4.6px 252.8px,4.5px 249.6px,4.4px 246.3px,4.3px 243.0px,4.2px 239.7px,4.1px 236.5px,4.1px 233.2px,4.0px 229.9px,4.0px 226.7px,4.0px 223.4px,4.0px 220.1px,4.0px 216.9px,4.0px 213.6px,4.1px 210.3px,4.1px 207.1px,4.2px 203.8px,4.3px 200.5px,4.4px 197.3px,4.5px 194.0px,4.7px 190.7px,4.8px 187.5px,5.0px 184.2px,5.1px 181.0px,5.3px 177.7px,5.6px 174.5px,5.8px 171.2px,6.0px 168.0px,6.3px 164.7px,6.5px 161.5px,6.8px 158.2px,7.1px 155.0px,7.5px 151.8px,7.8px 148.5px,8.1px 145.3px,8.5px 142.1px,8.9px 138.8px,9.3px 135.6px,9.7px 132.4px,10.1px 129.2px,10.6px 126.0px,11.1px 122.8px,11.6px 119.5px,12.1px 116.3px,12.7px 113.1px,13.3px 109.9px,13.9px 106.7px,14.6px 103.5px,15.3px 100.4px,16.0px 97.2px,16.8px 94.0px,17.6px 90.8px,18.4px 87.6px,19.3px 84.5px,20.2px 81.3px,21.2px 78.1px,22.2px 75.0px,23.2px 71.8px,24.4px 68.7px,25.5px 65.5px,26.7px 62.4px,28.0px 59.3px,29.3px 56.1px,30.7px 53.0px,32.1px 50.0px,33.6px 46.9px,35.2px 43.9px,36.8px 41.0px,38.5px 38.1px,40.2px 35.3px,42.0px 32.5px,43.9px 29.9px,45.9px 27.3px,48.0px 24.8px,50.1px 22.4px,52.3px 20.2px,54.6px 18.1px,57.0px 16.1px,59.5px 14.2px)"><i style="top:3px;left:85px;width:26px;height:3px;background:linear-gradient(90deg,#0008ff 0px,#0049ff 13px,#0047ff 19px,#0049ff 24px,#004aff 26px)"></i><i style="top:5px;left:75px;width:49px;height:3px;background:linear-gradient(90deg,#0000fd 0px,#0008ff 1px,#0000fd 3px,#0007ff 4px,#0000f8 6px,#0014ff 13px,#003dff 23px,#0047ff 42px,#004eff 47px,#004aff 49px)"></i><i style="top:7px;left:69px;width:63px;height:3px;background:linear-gradient(90deg,#0000fa 0px,#0000fd 5px,#0000f3 6px,#0000f2 11px,#0009ff 17px,#0032ff 29px,#0044ff 54px,#004dff 60px,#004fff 63px)"></i><i style="top:9px;left:64px;width:74px;height:3px;background:linear-gradient(90deg,#0000f9 0px,#0000f7 2px,#0002ff 4px,#0000e4 11px,#0005ff 22px,#0027ff 34px,#003bff 59px,#0052ff 71px,#0052ff 74px)"></i><i style="top:11px;left:60px;width:84px;height:3px;background:linear-gradient(90deg,#0000ee 0px,#0002ff 2px,#0000f4 6px,#0000d9 13px,#0004ff 27px,#001dff 39px,#0035ff 66px,#0051ff 80px,#0052ff 82px,#0053ff 84px)"></i><i style="top:13px;left:57px;width:92px;height:3px;background:linear-gradient(90deg,#0000ed 0px,#0001ff 2px,#0000d2 14px,#0005ff 32px,#0014ff 45px,#0033ff 74px,#0056ff 91px,#0050ff 92px)"></i><i style="top:15px;left:55px;width:98px;height:3px;background:linear-gradient(90deg,#0000ee 0px,#0005ff 2px,#0000cb 13px,#0005ff 37px,#0022ff 72px,#0055ff 94px,#0058ff 98px)"></i><i style="top:17px;left:52px;width:106px;height:3px;background:linear-gradient(90deg,#0000e9 0px,#0000ff 3px,#0000d1 11px,#0000c8 16px,#0001ff 43px,#0018ff 74px,#004fff 99px,#005aff 105px,#0054ff 106px)"></i><i style="top:19px;left:50px;width:112px;height:3px;background:linear-gradient(90deg,#0000e8 0px,#0000fe 2px,#0000c1 14px,#0000fa 47px,#000aff 72px,#0043ff 100px,#0063ff 109px,#005aff 112px)"></i><i style="top:21px;left:48px;width:117px;height:3px;background:linear-gradient(90deg,#0000e8 0px,#0000fc 2px,#0000be 14px,#0000f2 50px,#0008ff 78px,#003fff 104px,#0062ff 114px,#005fff 117px)"></i><i style="top:23px;left:46px;width:123px;height:3px;background:linear-gradient(90deg,#0000e7 0px,#0000f6 2px,#0000dd 7px,#0000b8 16px,#0000eb 51px,#0006ff 84px,#0042ff 110px,#0061ff 119px,#005eff 123px)"></i><i style="top:25px;left:44px;width:128px;height:3px;background:linear-gradient(90deg,#0000e4 0px,#0000f2 4px,#0000b6 15px,#0000e5 54px,#0000fd 86px,#0032ff 110px,#0067ff 126px,#005fff 128px)"></i><i style="top:27px;left:43px;width:132px;height:3px;background:linear-gradient(90deg,#0000e5 0px,#0000f5 3px,#0000c7 10px,#0000b2 17px,#0000df 54px,#0000f6 87px,#000eff 100px,#0058ff 125px,#006cff 130px,#0061ff 132px)"></i><i style="top:29px;left:41px;width:137px;height:3px;background:linear-gradient(90deg,#0000de 0px,#0000fb 3px,#0000d4 8px,#0000ad 17px,#0000d9 57px,#0000f1 90px,#0009ff 103px,#0055ff 129px,#006fff 135px,#0065ff 137px)"></i><i style="top:31px;left:40px;width:141px;height:3px;background:linear-gradient(90deg,#0000e3 0px,#0000f5 2px,#0000b2 14px,#0000ae 20px,#0000d4 58px,#0000ec 92px,#0008ff 107px,#0053ff 132px,#006fff 139px,#0069ff 141px)"></i><i style="top:33px;left:39px;width:145px;height:3px;background:linear-gradient(90deg,#0000e6 0px,#0000e7 4px,#0000b3 13px,#0000aa 19px,#0000cf 59px,#0000e8 94px,#0008ff 111px,#0056ff 136px,#0072ff 142px,#006cff 145px)"></i><i style="top:35px;left:37px;width:150px;height:3px;background:linear-gradient(90deg,#0000dc 0px,#0000f0 3px,#0000b5 13px,#0000a7 19px,#0000ca 62px,#0000e5 98px,#0005ff 115px,#0054ff 140px,#0074ff 147px,#006fff 150px)"></i><i style="top:37px;left:36px;width:154px;height:3px;background:linear-gradient(90deg,#0000dd 0px,#0000f2 2px,#0000e6 4px,#0000ab 15px,#0000a7 22px,#0000c6 64px,#0000e1 100px,#0006ff 119px,#0057ff 144px,#0074ff 151px,#0071ff 154px)"></i><i style="top:39px;left:35px;width:158px;height:3px;background:linear-gradient(90deg,#0000e0 0px,#0000ea 2px,#0000a6 16px,#0000af 33px,#0000d9 99px,#0006ff 123px,#0055ff 147px,#0077ff 154px,#0072ff 158px)"></i><i style="top:41px;left:34px;width:161px;height:3px;background:linear-gradient(90deg,#0000dc 0px,#0000e9 3px,#0000af 13px,#0000a1 20px,#0000be 68px,#0000dc 106px,#0005ff 126px,#0055ff 150px,#0079ff 158px,#0079ff 161px)"></i><i style="top:43px;left:33px;width:165px;height:3px;background:linear-gradient(90deg,#0000dd 0px,#0000f1 2px,#0000c0 9px,#00009e 19px,#0000ba 71px,#0000db 109px,#0006ff 130px,#0058ff 154px,#007dff 161px,#007bff 165px)"></i><i style="top:45px;left:32px;width:168px;height:3px;background:linear-gradient(90deg,#0000de 0px,#0000e6 2px,#0000a6 15px,#00009e 22px,#0000cd 103px,#0005ff 133px,#0058ff 157px,#0081ff 165px,#0082ff 168px)"></i><i style="top:47px;left:31px;width:172px;height:3px;background:linear-gradient(90deg,#0000d9 0px,#0000e5 3px,#0000b0 12px,#00009c 21px,#0000c9 104px,#0006ff 137px,#0055ff 159px,#0084ff 169px,#0084ff 172px)"></i><i style="top:49px;left:30px;width:175px;height:3px;background:linear-gradient(90deg,#0000da 0px,#0000ee 2px,#0000bd 9px,#00009a 20px,#0000c4 104px,#0000fd 137px,#003fff 157px,#008aff 172px,#008aff 175px)"></i><i style="top:51px;left:29px;width:179px;height:3px;background:linear-gradient(90deg,#0000da 0px,#0000e2 2px,#0000a4 15px,#00009a 23px,#0000c0 105px,#0000f9 139px,#0027ff 154px,#0080ff 173px,#008dff 176px,#008cff 179px)"></i><i style="top:53px;left:28px;width:182px;height:3px;background:linear-gradient(90deg,#0000d3 0px,#0000e3 3px,#0000ae 12px,#000099 21px,#0000bc 105px,#0000f2 139px,#000aff 148px,#005cff 169px,#0094ff 179px,#0092ff 182px)"></i><i style="top:55px;left:27px;width:186px;height:3px;background:linear-gradient(90deg,#0000d5 0px,#0000e7 2px,#0000a9 13px,#000098 22px,#0000b9 106px,#0000ee 141px,#0009ff 151px,#005eff 172px,#0098ff 182px,#0093ff 186px)"></i><i style="top:57px;left:26px;width:189px;height:3px;background:linear-gradient(90deg,#0000d3 0px,#0000d9 3px,#00009d 17px,#00009d 42px,#0000b7 108px,#0000ee 144px,#0007ff 153px,#005aff 174px,#009eff 186px,#0099ff 189px)"></i><i style="top:59px;left:25px;width:192px;height:3px;background:linear-gradient(90deg,#0000cd 0px,#0000e1 3px,#0000ad 12px,#000097 22px,#0000b2 107px,#0000e7 144px,#0007ff 156px,#005bff 177px,#00a3ff 189px,#009dff 192px)"></i><i style="top:61px;left:24px;width:196px;height:3px;background:linear-gradient(90deg,#0000ce 0px,#0000e2 3px,#0000ad 12px,#000096 22px,#0000af 107px,#0000e2 145px,#0008ff 159px,#005cff 180px,#00a9ff 193px,#009eff 196px)"></i><i style="top:63px;left:24px;width:198px;height:3px;background:linear-gradient(90deg,#0000d1 0px,#0000d4 4px,#0000a3 14px,#000096 23px,#0000ad 107px,#0000e0 146px,#0005ff 160px,#0059ff 181px,#00a7ff 194px,#00b0ff 195px,#00a4ff 198px)"></i><i style="top:65px;left:23px;width:201px;height:3px;background:linear-gradient(90deg,#0000ce 0px,#0000df 3px,#0000ae 11px,#000095 22px,#0000aa 108px,#0000dc 147px,#0006ff 163px,#005bff 184px,#00b3ff 199px,#00a9ff 201px)"></i><i style="top:67px;left:22px;width:204px;height:3px;background:linear-gradient(90deg,#0000ce 0px,#0000db 3px,#0000a0 15px,#000094 24px,#0000a8 109px,#0000d8 148px,#0006ff 166px,#005dff 187px,#00bbff 202px,#00adff 204px)"></i><i style="top:69px;left:21px;width:207px;height:3px;background:linear-gradient(90deg,#0000ca 0px,#0000d6 4px,#0000a3 14px,#000093 24px,#0000a6 110px,#0000d4 149px,#0004ff 168px,#005aff 189px,#00bfff 205px,#00b3ff 207px)"></i><i style="top:71px;left:21px;width:209px;height:3px;background:linear-gradient(90deg,#0000cf 0px,#0000e0 2px,#0000ab 11px,#000093 22px,#0000a5 111px,#0000d3 150px,#0005ff 170px,#0057ff 190px,#00c2ff 207px,#00bbff 209px)"></i><i style="top:73px;left:20px;width:212px;height:3px;background:linear-gradient(90deg,#0000cd 0px,#0000d6 3px,#00009c 16px,#000093 27px,#0000a4 113px,#0000d1 152px,#0006ff 173px,#0055ff 192px,#00c0ff 208px,#00c2ff 212px)"></i><i style="top:75px;left:19px;width:215px;height:3px;background:linear-gradient(90deg,#0000c7 0px,#0000d6 4px,#0000a2 14px,#000092 24px,#0000a3 116px,#0000d0 154px,#0004ff 175px,#0054ff 194px,#00b6ff 209px,#00caff 212px,#00c8ff 215px)"></i><i style="top:77px;left:19px;width:217px;height:3px;background:linear-gradient(90deg,#0000cd 0px,#0000de 2px,#0000aa 11px,#000091 23px,#0000a3 118px,#0000d0 156px,#0005ff 177px,#0057ff 196px,#00bbff 211px,#00d5ff 214px,#00cdff 217px)"></i><i style="top:79px;left:18px;width:220px;height:3px;background:linear-gradient(90deg,#0000ca 0px,#0000d2 3px,#000099 17px,#000092 31px,#0000a2 120px,#0000cf 158px,#0007ff 180px,#005bff 199px,#00c0ff 214px,#00deff 217px,#00d0ff 220px)"></i><i style="top:81px;left:18px;width:222px;height:3px;background:linear-gradient(90deg,#0000cb 0px,#0000d8 2px,#0000a1 13px,#000090 24px,#0000a2 122px,#0000cf 160px,#0005ff 181px,#005fff 201px,#00ceff 217px,#00e3ff 219px,#00d4ff 222px)"></i><i style="top:83px;left:17px;width:225px;height:3px;background:linear-gradient(90deg,#0000ca 0px,#0000d9 2px,#00009f 14px,#000090 25px,#0000a2 125px,#0000d0 163px,#0004ff 183px,#005dff 203px,#00ddff 221px,#00e8ff 223px,#00d6ff 225px)"></i><i style="top:85px;left:16px;width:227px;height:3px;background:linear-gradient(90deg,#0000c5 0px,#0000cf 4px,#00009b 16px,#00008f 27px,#0000a1 127px,#0000d1 166px,#0006ff 186px,#005cff 205px,#00bdff 219px,#00e9ff 225px,#00e6ff 227px)"></i><i style="top:87px;left:16px;width:229px;height:3px;background:linear-gradient(90deg,#0000c9 0px,#0000d6 3px,#0000a5 12px,#00008e 24px,#0000a1 129px,#0000d1 168px,#0005ff 187px,#005aff 206px,#00c2ff 221px,#00ebff 226px,#00eeff 229px)"></i><i style="top:89px;left:15px;width:232px;height:3px;background:linear-gradient(90deg,#0000c6 0px,#0000d3 3px,#00009c 15px,#00008e 27px,#0000a0 131px,#0000d0 170px,#0004ff 189px,#0059ff 208px,#00c3ff 223px,#00fbff 229px,#00f7ff 232px)"></i><i style="top:91px;left:15px;width:234px;height:3px;background:linear-gradient(90deg,#0000c5 0px,#0000d1 3px,#00009d 14px,#00008e 26px,#00009f 132px,#0000ce 170px,#0007ff 191px,#005eff 210px,#00bdff 223px,#04fffb 230px,#0ffff0 231px,#00ffff 234px)"></i><i style="top:93px;left:14px;width:236px;height:3px;background:linear-gradient(90deg,#0000c5 0px,#0000d8 3px,#0000a9 11px,#00008d 24px,#00009f 134px,#0000cd 172px,#0006ff 193px,#005dff 212px,#00bfff 225px,#04fffb 232px,#1affe5 234px,#09fff6 236px)"></i><i style="top:95px;left:14px;width:238px;height:3px;background:linear-gradient(90deg,#0000c7 0px,#0000cc 3px,#000098 16px,#00008d 30px,#00009e 135px,#0000cc 173px,#0005ff 194px,#0057ff 212px,#00cbff 227px,#00fdff 232px,#21ffde 236px,#13ffec 238px)"></i><i style="top:97px;left:13px;width:241px;height:3px;background:linear-gradient(90deg,#0000c1 0px,#0000d2 3px,#00009e 14px,#00008d 27px,#00009e 137px,#0000ca 174px,#0004ff 196px,#0053ff 213px,#00bbff 227px,#03fffc 234px,#28ffd7 239px,#1dffe2 241px)"></i><i style="top:99px;left:13px;width:242px;height:3px;background:linear-gradient(90deg,#0000c6 0px,#0000d4 2px,#00009f 13px,#00008c 26px,#00009d 138px,#0000c9 175px,#0004ff 197px,#0054ff 214px,#00beff 228px,#06fff9 235px,#32ffcd 239px,#2dffd2 242px)"></i><i style="top:101px;left:12px;width:245px;height:3px;background:linear-gradient(90deg,#0000c0 0px,#0000c9 4px,#000096 17px,#00008c 31px,#00009d 141px,#0000ca 178px,#0003ff 199px,#005dff 217px,#00cbff 231px,#00fcff 236px,#47ffb8 242px,#33ffcc 245px)"></i><i style="top:103px;left:12px;width:246px;height:3px;background:linear-gradient(90deg,#0000c3 0px,#0000d1 3px,#00009f 13px,#00008b 27px,#00009d 142px,#0000ca 179px,#0004ff 200px,#005fff 218px,#00cdff 232px,#02fffd 237px,#50ffaf 244px,#3cffc3 246px)"></i><i style="top:105px;left:12px;width:248px;height:3px;background:linear-gradient(90deg,#0000c6 0px,#0000cf 2px,#00009b 14px,#00008b 28px,#00009c 143px,#0000c9 180px,#0006ff 201px,#0061ff 219px,#00d0ff 233px,#06fff9 238px,#50ffaf 245px,#51ffae 247px,#46ffb9 248px)"></i><i style="top:107px;left:11px;width:250px;height:3px;background:linear-gradient(90deg,#0000be 0px,#0000c8 4px,#000099 15px,#00008b 29px,#00009c 145px,#0000c9 182px,#0003ff 202px,#005dff 220px,#00cbff 234px,#00fcff 239px,#59ffa6 247px,#57ffa8 250px)"></i><i style="top:109px;left:11px;width:252px;height:3px;background:linear-gradient(90deg,#0000c3 0px,#0000d2 2px,#00009e 13px,#00008a 28px,#00009b 146px,#0000c7 182px,#0005ff 203px,#005fff 221px,#00cdff 235px,#02fffd 240px,#71ff8e 249px,#5cffa3 252px)"></i><i style="top:111px;left:10px;width:254px;height:3px;background:linear-gradient(90deg,#0000be 0px,#0000ca 3px,#000095 17px,#00008a 33px,#00009b 148px,#0000c6 183px,#0006ff 205px,#0061ff 223px,#00d1ff 237px,#06fff9 242px,#7dff82 252px,#63ff9c 254px)"></i><i style="top:113px;left:10px;width:255px;height:3px;background:linear-gradient(90deg,#0000be 0px,#0000cc 3px,#00009b 14px,#00008a 29px,#00009b 149px,#0000c5 183px,#0004ff 205px,#005dff 223px,#00cbff 237px,#00fdff 242px,#7fff80 253px,#78ff87 255px)"></i><i style="top:115px;left:10px;width:257px;height:3px;background:linear-gradient(90deg,#0000c2 0px,#0000cf 2px,#00009c 13px,#000089 28px,#00009a 149px,#0000c3 183px,#0005ff 206px,#005fff 224px,#00cfff 238px,#03fffc 243px,#81ff7e 253px,#84ff7b 256px,#7cff83 257px)"></i><i style="top:117px;left:9px;width:259px;height:3px;background:linear-gradient(90deg,#0000bc 0px,#0000c4 4px,#000094 17px,#000089 33px,#00009a 152px,#0000c6 186px,#0006ff 208px,#0062ff 226px,#00d2ff 240px,#00fcff 244px,#6cff93 253px,#99ff66 256px,#98ff67 257px,#89ff76 258px,#86ff79 259px)"></i><i style="top:119px;left:9px;width:260px;height:3px;background:linear-gradient(90deg,#0000be 0px,#0000cc 3px,#00009d 13px,#000089 29px,#00009a 152px,#0000c7 187px,#0004ff 208px,#005eff 226px,#00cdff 240px,#01fffe 245px,#8cff73 256px,#a7ff58 258px,#93ff6c 260px)"></i><i style="top:121px;left:9px;width:262px;height:3px;background:linear-gradient(90deg,#0000c1 0px,#0000c8 3px,#000099 14px,#000089 30px,#00009a 153px,#0000c8 188px,#0006ff 209px,#0061ff 227px,#00d1ff 241px,#05fffa 246px,#a6ff59 259px,#a6ff59 261px,#9aff65 262px)"></i><i style="top:123px;left:8px;width:264px;height:3px;background:linear-gradient(90deg,#0000bb 0px,#0000c5 4px,#000096 16px,#000088 32px,#000099 154px,#0000c7 189px,#0004ff 210px,#005dff 228px,#00cbff 242px,#00ffff 247px,#71ff8e 256px,#b5ff4a 261px,#a9ff56 264px)"></i><i style="top:125px;left:8px;width:265px;height:3px;background:linear-gradient(90deg,#0000bf 0px,#0000ce 3px,#00009d 13px,#000088 29px,#000099 154px,#0000c6 189px,#0005ff 211px,#0060ff 229px,#00cfff 243px,#05fffa 248px,#94ff6b 259px,#c6ff39 262px,#cdff32 263px,#b0ff4f 265px)"></i><i style="top:127px;left:8px;width:266px;height:3px;background:linear-gradient(90deg,#0000c0 0px,#0000c6 3px,#000095 16px,#000088 33px,#000098 154px,#0000c6 190px,#0003ff 211px,#005dff 229px,#00cbff 243px,#00feff 248px,#a7ff58 261px,#d3ff2c 264px,#c3ff3c 266px)"></i><i style="top:129px;left:8px;width:268px;height:3px;background:linear-gradient(90deg,#0000c1 0px,#0000c8 3px,#000099 14px,#000088 31px,#000098 154px,#0000c5 190px,#0005ff 212px,#0060ff 230px,#00d0ff 244px,#05fffa 249px,#87ff78 259px,#ceff31 264px,#d1ff2e 267px,#c6ff39 268px)"></i><i style="top:131px;left:7px;width:270px;height:3px;background:linear-gradient(90deg,#0000be 0px,#0000cd 3px,#00009d 13px,#000087 30px,#000098 155px,#0000c4 191px,#0003ff 213px,#005dff 231px,#00cbff 245px,#00ffff 250px,#8eff71 261px,#eeff11 267px,#d1ff2e 270px)"></i><i style="top:133px;left:7px;width:271px;height:3px;background:linear-gradient(90deg,#0000bd 0px,#0000c2 4px,#000093 17px,#000087 35px,#000097 155px,#0000c3 191px,#0005ff 214px,#0060ff 232px,#00d0ff 246px,#05fffa 251px,#b3ff4c 264px,#f6ff09 268px,#f9ff06 269px,#d9ff26 271px)"></i><i style="top:135px;left:7px;width:272px;height:3px;background:linear-gradient(90deg,#0000c0 0px,#0000cd 2px,#000099 14px,#000087 32px,#000097 155px,#0000c2 191px,#0003ff 214px,#005dff 232px,#00ccff 246px,#01fffe 251px,#81ff7e 261px,#f4ff0b 269px,#f8ff07 271px,#ecff13 272px)"></i><i style="top:137px;left:6px;width:274px;height:3px;background:linear-gradient(90deg,#0000bc 0px,#0000cb 3px,#000098 15px,#000087 33px,#000097 156px,#0000c3 193px,#0005ff 216px,#0061ff 234px,#00d1ff 248px,#07fff8 253px,#98ff67 264px,#feff01 270px,#fff300 271px,#f6ff09 274px)"></i><i style="top:139px;left:6px;width:275px;height:3px;background:linear-gradient(90deg,#0000bc 0px,#0000c5 4px,#000096 16px,#000087 35px,#000096 156px,#0000c3 193px,#0004ff 216px,#005eff 234px,#00cdff 248px,#02fffd 253px,#a0ff5f 265px,#f4ff0b 270px,#ffe500 272px,#ffde00 273px,#fcff03 275px)"></i><i style="top:141px;left:6px;width:276px;height:3px;background:linear-gradient(90deg,#0000bf 0px,#0000cd 3px,#00009c 13px,#000086 31px,#000095 155px,#0000c0 192px,#0006ff 217px,#005cff 234px,#00c9ff 248px,#00fdff 253px,#6fff90 262px,#faff05 271px,#ffdd00 274px,#ffee00 276px)"></i><i style="top:143px;left:6px;width:277px;height:3px;background:linear-gradient(90deg,#0000bf 0px,#0000c5 3px,#000095 16px,#000086 35px,#000095 155px,#0000c1 193px,#0005ff 217px,#0060ff 235px,#00cfff 249px,#04fffb 254px,#94ff6b 265px,#f9ff06 271px,#ffd400 274px,#ffe500 277px)"></i><i style="top:145px;left:6px;width:278px;height:3px;background:linear-gradient(90deg,#0000c1 0px,#0000c9 3px,#000099 14px,#000086 33px,#000095 155px,#0000c0 193px,#0003ff 217px,#005dff 235px,#00cbff 249px,#00ffff 254px,#8eff71 265px,#fffc00 272px,#ffc100 275px,#ffb900 276px,#ffe100 278px)"></i><i style="top:147px;left:5px;width:280px;height:3px;background:linear-gradient(90deg,#0000bd 0px,#0000cd 3px,#00009a 14px,#000086 33px,#000095 156px,#0000c0 194px,#0006ff 219px,#0061ff 237px,#00d1ff 251px,#06fff9 256px,#98ff67 267px,#faff05 273px,#ffb700 278px,#ffcd00 280px)"></i><i style="top:149px;left:5px;width:281px;height:3px;background:linear-gradient(90deg,#0000bc 0px,#0000c3 4px,#000095 16px,#000086 36px,#000094 156px,#0000bf 194px,#0004ff 219px,#005fff 237px,#00ceff 251px,#03fffc 256px,#92ff6d 267px,#f6ff09 273px,#ffe300 275px,#ffb300 278px,#ffc400 281px)"></i><i style="top:151px;left:5px;width:282px;height:3px;background:linear-gradient(90deg,#0000bf 0px,#0000cc 3px,#00009c 13px,#000085 31px,#000094 155px,#0000bf 194px,#0003ff 219px,#005dff 237px,#00caff 251px,#00fdff 256px,#7eff81 266px,#fffe00 274px,#ff9a00 279px,#ff9800 280px,#ffc200 282px)"></i><i style="top:153px;left:5px;width:283px;height:3px;background:linear-gradient(90deg,#0000c0 0px,#0000c7 3px,#000099 14px,#000085 33px,#000094 155px,#0000be 194px,#0006ff 220px,#0061ff 238px,#00d1ff 252px,#05fffa 257px,#97ff68 268px,#faff05 274px,#ff9c00 280px,#ff9500 281px,#ffb000 283px)"></i><i style="top:155px;left:5px;width:284px;height:3px;background:linear-gradient(90deg,#0000c0 0px,#0000c7 3px,#000099 14px,#000085 34px,#000093 155px,#0000be 194px,#0004ff 220px,#005fff 238px,#00cdff 252px,#02fffd 257px,#90ff6f 268px,#fff800 275px,#ff9a00 280px,#ff9200 281px,#ffad00 284px)"></i><i style="top:157px;left:4px;width:286px;height:3px;background:linear-gradient(90deg,#0000bd 0px,#0000cf 3px,#00009d 13px,#000085 32px,#000093 156px,#0000bd 195px,#0003ff 221px,#005dff 239px,#00caff 253px,#00fdff 258px,#7cff83 268px,#fbff04 276px,#ffb800 280px,#ff7800 283px,#ff9900 285px,#ffae00 286px)"></i><i style="top:159px;left:4px;width:287px;height:3px;background:linear-gradient(90deg,#0000bc 0px,#0000c5 3px,#000093 17px,#000085 39px,#000093 156px,#0000bd 195px,#0006ff 222px,#0061ff 240px,#00d0ff 254px,#05fffa 259px,#92ff6d 270px,#fff800 277px,#ff8200 284px,#ff8200 285px,#ffa200 287px)"></i><i style="top:161px;left:4px;width:287px;height:3px;background:linear-gradient(90deg,#0000bf 0px,#0000cc 3px,#00009c 13px,#000084 32px,#000092 155px,#0000bc 195px,#0005ff 222px,#005fff 240px,#00ccff 254px,#00feff 259px,#8bff74 270px,#fcff03 277px,#ff7e00 284px,#ff7e00 285px,#ff9200 287px)"></i><i style="top:163px;left:4px;width:288px;height:3px;background:linear-gradient(90deg,#0000c0 0px,#0000c9 3px,#000099 14px,#000084 34px,#000092 155px,#0000bc 195px,#0000fb 220px,#0045ff 236px,#00adff 251px,#06fff9 260px,#93ff6c 271px,#fffa00 278px,#ff6e00 285px,#ff6100 286px,#ff8d00 288px)"></i><i style="top:165px;left:4px;width:289px;height:3px;background:linear-gradient(90deg,#0000bf 0px,#0000c6 3px,#000096 15px,#000084 36px,#000092 154px,#0000ba 194px,#0000fa 220px,#0038ff 234px,#00a1ff 250px,#01fffe 260px,#8cff73 271px,#feff01 278px,#ff7400 286px,#ff6c00 287px,#ff8400 289px)"></i><i style="top:167px;left:4px;width:290px;height:3px;background:linear-gradient(90deg,#0000c2 0px,#0000d1 2px,#0000a1 11px,#000085 29px,#000091 152px,#0000b7 193px,#0000f6 219px,#000dff 225px,#006bff 243px,#00ddff 257px,#08fff7 261px,#a4ff5b 273px,#f5ff0a 278px,#ffe400 280px,#ff6d00 286px,#ff6200 287px,#ff8600 290px)"></i><i style="top:169px;left:3px;width:292px;height:3px;background:linear-gradient(90deg,#0000bc 0px,#0000c8 3px,#000096 16px,#000084 38px,#000091 154px,#0000b9 195px,#0000f8 221px,#0018ff 229px,#0076ff 246px,#00edff 260px,#03fffc 262px,#8fff70 273px,#ffff00 280px,#ff7700 287px,#ff4d00 289px,#ff6e00 291px,#ff8400 292px)"></i><i style="top:171px;left:3px;width:292px;height:3px;background:linear-gradient(90deg,#0000bd 0px,#0000cb 3px,#000098 15px,#000084 36px,#000091 153px,#0000b9 195px,#0000f7 221px,#0017ff 229px,#0074ff 246px,#00eaff 260px,#00ffff 262px,#89ff76 273px,#f9ff06 280px,#ff6600 289px,#ff5a00 290px,#ff6a00 292px)"></i><i style="top:173px;left:3px;width:293px;height:3px;background:linear-gradient(90deg,#0000bf 0px,#0000cc 3px,#00009c 13px,#000084 33px,#000091 152px,#0000b7 194px,#0000f3 220px,#000eff 227px,#006bff 245px,#00dcff 259px,#07fff8 263px,#92ff6d 274px,#fffb00 281px,#ff4a00 290px,#ff4e00 291px,#ff7000 293px)"></i><i style="top:175px;left:3px;width:294px;height:3px;background:linear-gradient(90deg,#0000bd 0px,#0000c2 4px,#000095 16px,#000084 39px,#000091 152px,#0000b8 195px,#0000f6 221px,#0011ff 228px,#0070ff 246px,#00e3ff 260px,#03fffc 263px,#8dff72 274px,#fdff02 281px,#ff7d00 288px,#ff3e00 291px,#ff3e00 292px,#ff6800 294px)"></i><i style="top:177px;left:3px;width:295px;height:3px;background:linear-gradient(90deg,#0000c0 0px,#0000cc 3px,#00009c 13px,#000083 33px,#000090 151px,#0000b7 194px,#0000f5 221px,#000cff 227px,#0068ff 245px,#00d6ff 259px,#00ffff 263px,#87ff78 274px,#f7ff08 281px,#ffd100 284px,#ff5e00 290px,#ff4a00 292px,#ff5400 294px,#ff6500 295px)"></i><i style="top:179px;left:3px;width:295px;height:3px;background:linear-gradient(90deg,#0000c0 0px,#0000c7 3px,#000099 14px,#000083 36px,#000090 151px,#0000b8 195px,#0000f5 221px,#000bff 227px,#0066ff 245px,#00d4ff 259px,#07fff8 264px,#92ff6d 275px,#fffd00 282px,#ff3200 292px,#ff3000 293px,#ff5b00 295px)"></i><i style="top:181px;left:3px;width:296px;height:3px;background:linear-gradient(90deg,#0000c0 0px,#0000c7 3px,#000099 14px,#000083 35px,#000090 150px,#0000b7 194px,#0000f4 221px,#000bff 227px,#0065ff 245px,#00daff 260px,#04fffb 264px,#8dff72 275px,#fcff03 282px,#ff6b00 290px,#ff2d00 293px,#ff2a00 294px,#ff5100 296px)"></i><i style="top:183px;left:2px;width:298px;height:3px;background:linear-gradient(90deg,#0000bc 0px,#0000cf 3px,#00009e 13px,#000084 32px,#00008f 149px,#0000b5 194px,#0000f1 221px,#000aff 228px,#0063ff 246px,#00d8ff 261px,#01fffe 265px,#89ff76 276px,#f7ff08 283px,#ffd100 286px,#ff3700 294px,#ff3800 296px,#ff5100 298px)"></i><i style="top:185px;left:2px;width:298px;height:3px;background:linear-gradient(90deg,#0000bb 0px,#0000c3 4px,#000094 17px,#000083 41px,#000090 151px,#0000b7 195px,#0000f4 222px,#000eff 229px,#0069ff 247px,#00d6ff 261px,#00feff 265px,#85ff7a 276px,#fffc00 284px,#ff4800 293px,#ff1a00 295px,#ff1400 296px,#ff4300 298px)"></i><i style="top:187px;left:2px;width:299px;height:3px;background:linear-gradient(90deg,#0000bd 0px,#0000cd 3px,#00009a 14px,#000083 35px,#000090 150px,#0000b5 194px,#0000f4 222px,#000dff 229px,#0067ff 247px,#00d4ff 261px,#07fff8 266px,#90ff6f 277px,#ffff00 284px,#ff1e00 296px,#ff1c00 297px,#ff3f00 299px)"></i><i style="top:189px;left:2px;width:299px;height:3px;background:linear-gradient(90deg,#0000be 0px,#0000cb 3px,#00009a 14px,#000083 35px,#000090 149px,#0000b5 194px,#0000f3 222px,#000dff 229px,#0067ff 247px,#00dcff 262px,#05fffa 266px,#99ff66 278px,#f9ff06 284px,#ffbd00 288px,#ff1c00 296px,#ff1a00 297px,#ff3800 299px)"></i><i style="top:191px;left:2px;width:300px;height:3px;background:linear-gradient(90deg,#0000bd 0px,#0000c7 3px,#000095 16px,#000083 40px,#000090 150px,#0000b7 195px,#0000f3 222px,#000cff 229px,#0065ff 247px,#00d9ff 262px,#02fffd 266px,#96ff69 278px,#fffa00 285px,#ff6100 293px,#ff0700 297px,#ff0600 298px,#ff3400 300px)"></i><i style="top:193px;left:2px;width:301px;height:3px;background:linear-gradient(90deg,#0000bf 0px,#0000cd 3px,#00009c 13px,#000083 33px,#00008f 146px,#0000b4 193px,#0000f0 221px,#0008ff 228px,#0064ff 247px,#00d7ff 262px,#00feff 266px,#83ff7c 277px,#ffff00 285px,#ff2100 297px,#ff1400 298px,#ff1600 299px,#ff3600 301px)"></i><i style="top:195px;left:2px;width:301px;height:3px;background:linear-gradient(90deg,#0000be 0px,#0000c7 3px,#000097 15px,#000082 38px,#000090 150px,#0000b7 195px,#0000f5 223px,#000bff 229px,#0063ff 247px,#00d5ff 262px,#07fff8 267px,#9bff64 279px,#f8ff07 285px,#ffbe00 289px,#ff0300 298px,#ff0500 299px,#ff3000 301px)"></i><i style="top:197px;left:2px;width:302px;height:3px;background:linear-gradient(90deg,#0000bf 0px,#0000ca 3px,#000099 14px,#000082 36px,#000090 149px,#0000b7 195px,#0000f5 223px,#000bff 229px,#0068ff 248px,#00dbff 263px,#04fffb 267px,#97ff68 279px,#fff900 286px,#ff4e00 295px,#ff0b00 298px,#f80000 299px,#ff0000 300px,#ff2b00 302px)"></i><i style="top:199px;left:2px;width:302px;height:3px;background:linear-gradient(90deg,#0000c0 0px,#0000ca 3px,#00009c 13px,#000083 33px,#00008f 145px,#0000b4 193px,#0000ef 221px,#0007ff 228px,#0061ff 247px,#00d0ff 262px,#02fffd 267px,#93ff6c 279px,#fffe00 286px,#ff1700 298px,#ff0d00 300px,#ff2000 302px)"></i><i style="top:201px;left:2px;width:303px;height:3px;background:linear-gradient(90deg,#0000be 0px,#0000c5 3px,#000094 16px,#000082 41px,#000091 151px,#0000b9 196px,#0000f8 224px,#001aff 233px,#0079ff 251px,#00ebff 265px,#00ffff 267px,#90ff6f 279px,#fbff04 286px,#ff8100 293px,#fb0000 299px,#e60000 300px,#f70000 301px,#ff2600 303px)"></i><i style="top:203px;left:2px;width:303px;height:3px;background:linear-gradient(90deg,#0000c1 0px,#0000cf 2px,#00009c 13px,#000083 33px,#00008f 145px,#0000b4 193px,#0000f2 222px,#000aff 229px,#0065ff 248px,#00d6ff 263px,#00fcff 267px,#72ff8d 277px,#f8ff07 286px,#ffd200 289px,#ff0d00 299px,#f90000 300px,#f10000 301px,#fd0000 302px,#ff1200 303px)"></i><i style="top:205px;left:2px;width:304px;height:3px;background:linear-gradient(90deg,#0000c0 0px,#0000c7 3px,#000096 15px,#000082 39px,#000091 150px,#0000b9 196px,#0000f8 224px,#0019ff 233px,#0077ff 251px,#00f1ff 266px,#10ffef 269px,#97ff68 280px,#fffa00 287px,#ff3700 297px,#f90000 300px,#f10000 301px,#fd0000 302px,#ff1f00 304px)"></i><i style="top:207px;left:2px;width:304px;height:3px;background:linear-gradient(90deg,#0000c0 0px,#0000c7 3px,#000099 14px,#000082 37px,#000091 149px,#0000b8 195px,#0000f5 223px,#000eff 230px,#006aff 249px,#00dcff 264px,#04fffb 268px,#95ff6a 280px,#fffe00 287px,#ff5300 296px,#f80000 300px,#e10000 301px,#db0000 302px,#ff0b00 304px)"></i><i style="top:209px;left:2px;width:305px;height:3px;background:linear-gradient(90deg,#0000c2 0px,#0000ce 2px,#00009b 13px,#000083 34px,#000090 146px,#0000b7 194px,#0000f5 223px,#000eff 230px,#006aff 249px,#00dbff 264px,#03fffc 268px,#92ff6d 280px,#fdff02 287px,#ff4500 297px,#ff0b00 300px,#ed0000 302px,#fe0000 304px,#ff1200 305px)"></i><i style="top:211px;left:2px;width:305px;height:3px;background:linear-gradient(90deg,#0000bf 0px,#0000c3 3px,#000094 16px,#000082 42px,#000092 151px,#0000ba 196px,#0000f8 224px,#001dff 234px,#007cff 252px,#00f6ff 267px,#0bfff4 269px,#9eff61 281px,#faff05 287px,#ff8400 294px,#ff0300 300px,#d80000 302px,#dd0000 303px,#ff0b00 305px)"></i><i style="top:213px;left:2px;width:305px;height:3px;background:linear-gradient(90deg,#0000c2 0px,#0000ce 2px,#00009b 13px,#000083 34px,#000090 146px,#0000b6 193px,#0000f2 222px,#000aff 229px,#0063ff 248px,#00d0ff 263px,#00ffff 268px,#8eff71 280px,#f7ff08 287px,#ffd500 290px,#ff2200 299px,#f40000 301px,#d10000 303px,#f40000 305px)"></i><i style="top:215px;left:2px;width:306px;height:3px;background:linear-gradient(90deg,#0000c1 0px,#0000c7 3px,#000098 14px,#000082 37px,#000091 149px,#0000b9 195px,#0000f6 223px,#000eff 230px,#0069ff 249px,#00d8ff 264px,#00feff 268px,#8cff73 280px,#fff800 288px,#ff3a00 298px,#fa0000 301px,#e00000 303px,#ff0300 306px)"></i><i style="top:217px;left:1px;width:307px;height:3px;background:linear-gradient(90deg,#0000bb 0px,#0000c6 4px,#000096 16px,#000082 41px,#000092 152px,#0000ba 197px,#0000f9 225px,#0022ff 236px,#0082ff 254px,#00feff 269px,#7dff82 280px,#fffb00 289px,#ff5200 298px,#f80000 302px,#c80000 304px,#c10000 305px,#f20000 307px)"></i><i style="top:219px;left:1px;width:308px;height:3px;background:linear-gradient(90deg,#0000bc 0px,#0000d0 3px,#00009e 13px,#000084 32px,#00008e 142px,#0000b3 192px,#0000f0 222px,#0007ff 229px,#0063ff 249px,#00cfff 264px,#00fdff 269px,#7cff83 280px,#fffe00 289px,#ff3000 300px,#ff0600 302px,#d00000 305px,#d50000 306px,#fb0000 308px)"></i><i style="top:221px;left:1px;width:308px;height:3px;background:linear-gradient(90deg,#0000ba 0px,#0000c4 4px,#000096 16px,#000081 41px,#000092 152px,#0000ba 197px,#0000f9 225px,#0026ff 237px,#0089ff 255px,#00fcff 269px,#6dff92 279px,#feff01 289px,#ff5a00 298px,#ff0400 302px,#c70000 305px,#ce0000 306px,#f80000 308px)"></i><i style="top:223px;left:1px;width:308px;height:3px;background:linear-gradient(90deg,#0000bc 0px,#0000cc 3px,#000098 15px,#000082 38px,#000091 149px,#0000b9 196px,#0000f6 224px,#000eff 231px,#0068ff 250px,#00d6ff 265px,#06fff9 270px,#92ff6d 282px,#faff05 289px,#ff7700 297px,#ff0e00 302px,#f60000 303px,#c90000 305px,#bf0000 306px,#e90000 308px)"></i><i style="top:225px;left:1px;width:309px;height:3px;background:linear-gradient(90deg,#0000bc 0px,#0000cc 3px,#000098 15px,#000082 38px,#000091 149px,#0000b9 196px,#0000f9 225px,#001dff 235px,#007aff 253px,#00efff 268px,#0efff1 271px,#9cff63 283px,#fff800 290px,#ff3e00 300px,#ff0000 303px,#dd0000 305px,#df0000 307px,#ff0000 309px)"></i><i style="top:227px;left:2px;width:308px;height:3px;background:linear-gradient(90deg,#0000c0 0px,#0000c5 3px,#000096 15px,#000081 40px,#000092 151px,#0000bb 196px,#0000f8 224px,#0021ff 235px,#007fff 253px,#02fffd 269px,#8bff74 281px,#fffe00 289px,#ff5900 298px,#ff0200 302px,#bd0000 305px,#c50000 306px,#f40000 308px)"></i><i style="top:229px;left:2px;width:308px;height:3px;background:linear-gradient(90deg,#0000c2 0px,#0000d1 2px,#00009e 12px,#000084 31px,#00008e 140px,#0000b2 190px,#0000ef 221px,#0006ff 228px,#0060ff 248px,#00d1ff 264px,#00feff 269px,#88ff77 281px,#fdff02 289px,#ff4c00 299px,#f80000 303px,#d10000 305px,#cb0000 306px,#ed0000 308px)"></i><i style="top:231px;left:2px;width:308px;height:3px;background:linear-gradient(90deg,#0000c0 0px,#0000c6 3px,#000096 15px,#000081 40px,#000092 151px,#0000bb 196px,#0000fb 225px,#0040ff 242px,#00a7ff 259px,#00fdff 269px,#78ff87 280px,#f9ff06 289px,#ff9d00 295px,#f90000 303px,#d20000 305px,#cc0000 306px,#ed0000 308px)"></i><i style="top:233px;left:2px;width:309px;height:3px;background:linear-gradient(90deg,#0000c1 0px,#0000c8 3px,#000098 14px,#000082 37px,#000091 148px,#0000b9 195px,#0000f8 224px,#001cff 234px,#007dff 253px,#00f2ff 268px,#10ffef 271px,#9dff62 283px,#fff900 290px,#ff5600 299px,#ff0000 303px,#ba0000 306px,#de0000 308px,#f50000 309px)"></i><i style="top:235px;left:2px;width:309px;height:3px;background:linear-gradient(90deg,#0000c1 0px,#0000cd 2px,#000099 14px,#000082 37px,#000091 148px,#0000b9 195px,#0000f8 224px,#001cff 234px,#007cff 253px,#00f0ff 268px,#0efff1 271px,#99ff66 283px,#fffd00 290px,#ff4600 300px,#ff0a00 303px,#e60000 305px,#d90000 307px,#f60000 309px)"></i><i style="top:237px;left:2px;width:309px;height:3px;background:linear-gradient(90deg,#0000be 0px,#0000c4 3px,#000094 16px,#000081 43px,#000093 152px,#0000bc 197px,#0005ff 228px,#005dff 248px,#00caff 264px,#01fffe 270px,#96ff69 283px,#fcff03 290px,#ff7300 298px,#ff0900 303px,#db0000 305px,#c50000 306px,#c20000 307px,#ed0000 309px)"></i><i style="top:239px;left:2px;width:309px;height:3px;background:linear-gradient(90deg,#0000c1 0px,#0000cf 2px,#00009b 13px,#000083 33px,#00008f 144px,#0000b6 193px,#0000f4 223px,#000bff 230px,#0067ff 250px,#00d9ff 266px,#00feff 270px,#85ff7a 282px,#f9ff06 290px,#ffb100 295px,#fc0000 304px,#d10000 306px,#c60000 307px,#e70000 309px)"></i><i style="top:241px;left:2px;width:310px;height:3px;background:linear-gradient(90deg,#0000bf 0px,#0000c8 3px,#000097 15px,#000082 39px,#000092 150px,#0000ba 196px,#0000f9 225px,#0029ff 238px,#008bff 256px,#05fffa 271px,#9cff63 284px,#fff900 291px,#ff3f00 301px,#ff0000 304px,#d80000 306px,#cf0000 307px,#eb0000 309px,#ff0100 310px)"></i><i style="top:243px;left:2px;width:310px;height:3px;background:linear-gradient(90deg,#0000bf 0px,#0000c8 3px,#000099 14px,#000082 36px,#000091 148px,#0000b8 195px,#0000f5 224px,#000dff 231px,#0069ff 251px,#00d4ff 266px,#02fffd 271px,#8bff74 283px,#fffe00 291px,#ff5900 300px,#ff0200 304px,#ba0000 307px,#c40000 308px,#f40000 310px)"></i><i style="top:245px;left:2px;width:310px;height:3px;background:linear-gradient(90deg,#0000c0 0px,#0000cc 3px,#00009c 13px,#000083 33px,#00008f 144px,#0000b5 193px,#0000f2 223px,#0009ff 230px,#0061ff 250px,#00d1ff 266px,#00ffff 271px,#88ff77 283px,#feff01 291px,#ff4900 301px,#ff0c00 304px,#e50000 306px,#d60000 307px,#d50000 308px,#f60000 310px)"></i><i style="top:247px;left:2px;width:310px;height:3px;background:linear-gradient(90deg,#0000bd 0px,#0000c1 4px,#000095 16px,#000081 42px,#000093 153px,#0000bc 198px,#0004ff 229px,#005aff 249px,#00c6ff 265px,#00fcff 271px,#78ff87 282px,#faff05 291px,#ff9b00 297px,#ff0900 304px,#db0000 306px,#c60000 307px,#c40000 308px,#ef0000 310px)"></i><i style="top:249px;left:2px;width:310px;height:3px;background:linear-gradient(90deg,#0000bf 0px,#0000cc 3px,#00009c 13px,#000083 33px,#00008f 144px,#0000b6 194px,#0000f3 224px,#000aff 231px,#0063ff 251px,#00d6ff 267px,#05fffa 272px,#90ff6f 284px,#f7ff08 291px,#ffd400 294px,#ff2500 303px,#f80000 305px,#cc0000 307px,#c30000 308px,#ea0000 310px)"></i><i style="top:251px;left:2px;width:310px;height:3px;background:linear-gradient(90deg,#0000be 0px,#0000ca 3px,#00009a 14px,#000082 36px,#000090 148px,#0000b8 196px,#0000f7 226px,#0017ff 235px,#0074ff 254px,#00e5ff 269px,#03fffc 272px,#8dff72 284px,#fff900 292px,#ff3c00 302px,#fa0000 305px,#d20000 307px,#cc0000 308px,#ed0000 310px)"></i><i style="top:253px;left:2px;width:310px;height:3px;background:linear-gradient(90deg,#0000bd 0px,#0000c8 3px,#000097 15px,#000082 39px,#000092 151px,#0000bb 198px,#0000f9 227px,#002aff 240px,#008cff 258px,#01fffe 272px,#8bff74 284px,#fffc00 292px,#ff5500 301px,#fc0000 305px,#b50000 308px,#e40000 310px)"></i><i style="top:255px;left:2px;width:311px;height:3px;background:linear-gradient(90deg,#0000be 0px,#0000cf 3px,#00009d 13px,#000084 33px,#00008f 144px,#0000b4 194px,#0000f0 224px,#0006ff 231px,#005fff 251px,#00d0ff 267px,#00feff 272px,#89ff76 284px,#fffe00 292px,#ff4300 302px,#ff0400 305px,#d40000 308px,#ec0000 310px,#ff0200 311px)"></i><i style="top:257px;left:2px;width:311px;height:3px;background:linear-gradient(90deg,#0000bb 0px,#0000c4 4px,#000096 16px,#000081 41px,#000092 153px,#0000bc 200px,#0000fb 228px,#003aff 244px,#009fff 261px,#00fcff 272px,#6dff92 282px,#fdff02 292px,#ff7000 300px,#ff0400 305px,#c30000 308px,#e50000 310px,#fc0000 311px)"></i><i style="top:259px;left:2px;width:311px;height:3px;background:linear-gradient(90deg,#0000bc 0px,#0000cc 3px,#00009b 14px,#000083 35px,#000090 147px,#0000b6 196px,#0000f4 226px,#000cff 233px,#0063ff 252px,#00d6ff 268px,#06fff9 273px,#92ff6d 285px,#faff05 292px,#ff8700 299px,#ff0a00 305px,#db0000 307px,#c70000 308px,#cf0000 309px,#fd0000 311px)"></i><i style="top:261px;left:3px;width:310px;height:3px;background:linear-gradient(90deg,#0000c1 0px,#0000c9 3px,#000099 14px,#000082 37px,#000091 150px,#0000ba 198px,#0000f9 227px,#002aff 240px,#008eff 258px,#04fffb 272px,#8fff70 284px,#f7ff08 291px,#ffd400 294px,#ff2100 303px,#f40000 305px,#ce0000 307px,#d40000 308px,#fe0000 310px)"></i><i style="top:263px;left:3px;width:310px;height:3px;background:linear-gradient(90deg,#0000bf 0px,#0000c5 3px,#000096 15px,#000081 40px,#000092 153px,#0000bb 199px,#0000fc 228px,#0045ff 246px,#00b2ff 263px,#02fffd 272px,#8dff72 284px,#fff900 292px,#ff3b00 302px,#ff0e00 304px,#f60000 305px,#c50000 307px,#cd0000 308px,#fd0000 310px)"></i><i style="top:265px;left:3px;width:310px;height:3px;background:linear-gradient(90deg,#0000c1 0px,#0000cf 2px,#00009c 13px,#000083 33px,#00008f 146px,#0000b5 195px,#0000f2 225px,#0009ff 232px,#0065ff 252px,#00d1ff 267px,#00ffff 272px,#8bff74 284px,#fffb00 292px,#ff5200 301px,#fa0000 305px,#d60000 307px,#d90000 308px,#ff0200 310px)"></i><i style="top:267px;left:3px;width:310px;height:3px;background:linear-gradient(90deg,#0000be 0px,#0000c7 3px,#000097 15px,#000082 39px,#000091 152px,#0000b9 198px,#0000f7 227px,#0017ff 236px,#0076ff 255px,#00eaff 270px,#08fff7 273px,#97ff68 285px,#fffd00 292px,#ff5400 301px,#fa0000 305px,#cc0000 307px,#d20000 308px,#ff0100 310px)"></i><i style="top:269px;left:3px;width:310px;height:3px;background:linear-gradient(90deg,#0000be 0px,#0000ca 3px,#00009a 14px,#000082 36px,#000090 150px,#0000b7 197px,#0000f4 226px,#000cff 233px,#0063ff 252px,#00d7ff 268px,#07fff8 273px,#95ff6a 285px,#ffff00 292px,#ff5600 301px,#fd0000 305px,#cf0000 307px,#d50000 308px,#ff0400 310px)"></i><i style="top:271px;left:3px;width:310px;height:3px;background:linear-gradient(90deg,#0000be 0px,#0000cd 3px,#00009d 13px,#000084 33px,#00008f 146px,#0000b4 195px,#0000f0 225px,#0007ff 232px,#0062ff 252px,#00cdff 267px,#05fffa 273px,#94ff6b 285px,#feff01 292px,#ff5800 301px,#fe0000 305px,#d40000 307px,#d90000 308px,#ff0600 310px)"></i><i style="top:273px;left:3px;width:310px;height:3px;background:linear-gradient(90deg,#0000bb 0px,#0000c2 4px,#000094 17px,#000082 44px,#000092 155px,#0000ba 200px,#0000fc 229px,#0046ff 247px,#00b3ff 264px,#04fffb 273px,#92ff6d 285px,#fcff03 292px,#ff6e00 300px,#ff0000 305px,#cf0000 307px,#d80000 308px,#ff0800 310px)"></i><i style="top:275px;left:3px;width:310px;height:3px;background:linear-gradient(90deg,#0000bc 0px,#0000cf 3px,#00009e 13px,#000084 32px,#00008e 146px,#0000b4 196px,#0000f2 226px,#000aff 233px,#0060ff 252px,#00cbff 267px,#03fffc 273px,#91ff6e 285px,#faff05 292px,#ff8400 299px,#ff0300 305px,#dc0000 307px,#e10000 308px,#ff0b00 310px)"></i><i style="top:277px;left:4px;width:309px;height:3px;background:linear-gradient(90deg,#0000c0 0px,#0000c7 3px,#000099 14px,#000082 37px,#000091 151px,#0000b8 198px,#0000f7 227px,#0018ff 236px,#0078ff 255px,#00eeff 270px,#02fffd 272px,#90ff6f 284px,#f9ff06 291px,#ffac00 296px,#ff0800 304px,#dc0000 306px,#e60000 307px,#fd0000 308px,#ff1200 309px)"></i><i style="top:279px;left:4px;width:309px;height:3px;background:linear-gradient(90deg,#0000c0 0px,#0000c7 3px,#000099 14px,#000082 37px,#000090 151px,#0000b8 198px,#0000f7 227px,#0013ff 235px,#0071ff 254px,#00e3ff 269px,#01fffe 272px,#8eff71 284px,#f8ff07 291px,#ffd300 294px,#f90000 305px,#e20000 306px,#ff0500 308px,#ff1900 309px)"></i><i style="top:281px;left:4px;width:308px;height:3px;background:linear-gradient(90deg,#0000c0 0px,#0000cc 3px,#00009c 13px,#000083 33px,#00008f 148px,#0000b5 196px,#0000f0 225px,#0008ff 232px,#005eff 251px,#00c8ff 266px,#00ffff 272px,#8dff72 284px,#f6ff09 291px,#ffe700 293px,#ff2900 303px,#fd0000 305px,#ef0000 306px,#fa0000 307px,#ff0f00 308px)"></i><i style="top:283px;left:4px;width:308px;height:3px;background:linear-gradient(90deg,#0000bc 0px,#0000c2 4px,#000095 16px,#000082 41px,#000091 153px,#0000b9 199px,#0000f6 227px,#000eff 234px,#0069ff 253px,#00d9ff 268px,#00feff 272px,#7eff81 283px,#fffa00 292px,#ff4400 302px,#ff0300 305px,#f20000 306px,#ff0700 307px,#ff1800 308px)"></i><i style="top:285px;left:4px;width:308px;height:3px;background:linear-gradient(90deg,#0000be 0px,#0000cd 3px,#00009d 13px,#000084 33px,#00008f 148px,#0000b5 196px,#0000f2 226px,#000aff 233px,#0063ff 252px,#00d8ff 268px,#00fdff 272px,#7cff83 283px,#fffe00 292px,#ff4a00 302px,#ff0c00 305px,#ff0300 306px,#ff2200 308px)"></i><i style="top:287px;left:4px;width:308px;height:3px;background:linear-gradient(90deg,#0000bc 0px,#0000cb 3px,#000098 15px,#000082 38px,#000091 152px,#0000b8 199px,#0000f8 228px,#001dff 238px,#007bff 256px,#00f2ff 271px,#11ffee 274px,#a3ff5c 286px,#fdff02 292px,#ff6300 301px,#ff0f00 305px,#ff0800 306px,#ff2b00 308px)"></i><i style="top:289px;left:5px;width:307px;height:3px;background:linear-gradient(90deg,#0000c0 0px,#0000c5 3px,#000096 15px,#000082 39px,#000091 153px,#0000ba 199px,#0000f8 227px,#001dff 237px,#007aff 255px,#00f1ff 270px,#10ffef 273px,#a0ff5f 285px,#f9ff06 291px,#ffb300 296px,#ff1b00 304px,#ff1700 305px,#ff3600 307px)"></i><i style="top:291px;left:5px;width:307px;height:3px;background:linear-gradient(90deg,#0000c1 0px,#0000cf 2px,#00009c 13px,#000083 33px,#000090 149px,#0000b7 197px,#0000f4 226px,#000dff 233px,#0067ff 252px,#00ddff 268px,#04fffb 272px,#9dff62 285px,#fffa00 292px,#ff2900 304px,#ff3000 306px,#ff3f00 307px)"></i><i style="top:293px;left:5px;width:307px;height:3px;background:linear-gradient(90deg,#0000bd 0px,#0000c7 3px,#000095 16px,#000082 41px,#000092 154px,#0000b9 199px,#0000f7 227px,#0018ff 236px,#0079ff 255px,#00eeff 270px,#0dfff2 273px,#a8ff57 286px,#fffe00 292px,#ff4200 303px,#ff3700 305px,#ff4a00 307px)"></i><i style="top:295px;left:5px;width:306px;height:3px;background:linear-gradient(90deg,#0000be 0px,#0000cb 3px,#00009a 14px,#000083 36px,#000091 152px,#0000b8 198px,#0000f7 227px,#0014ff 235px,#0072ff 254px,#00e3ff 269px,#01fffe 272px,#97ff68 285px,#fbff04 292px,#ff4f00 303px,#ff4600 305px,#ff4c00 306px)"></i><i style="top:297px;left:5px;width:306px;height:3px;background:linear-gradient(90deg,#0000bc 0px,#0000cc 3px,#00009b 14px,#000083 35px,#000091 152px,#0000b8 198px,#0000f7 227px,#0013ff 235px,#0071ff 254px,#00e2ff 269px,#00feff 272px,#93ff6c 285px,#f6ff09 292px,#ffe700 294px,#ff6700 302px,#ff5600 305px,#ff5a00 306px)"></i><i style="top:299px;left:6px;width:305px;height:3px;background:linear-gradient(90deg,#0000c0 0px,#0000c4 3px,#000094 16px,#000082 41px,#000092 154px,#0000ba 199px,#0000fa 227px,#0030ff 241px,#0097ff 259px,#00fdff 271px,#83ff7c 283px,#fffc00 292px,#ff7400 301px,#ff6500 304px,#ff6800 305px)"></i><i style="top:301px;left:6px;width:305px;height:3px;background:linear-gradient(90deg,#0000c1 0px,#0000cf 2px,#00009c 13px,#000083 34px,#000091 152px,#0000b9 198px,#0000f6 226px,#000fff 233px,#0069ff 252px,#00d6ff 267px,#05fffa 272px,#99ff66 285px,#fdff02 292px,#ff8000 301px,#ff7300 304px,#ff7700 305px)"></i><i style="top:303px;left:6px;width:304px;height:3px;background:linear-gradient(90deg,#0000bd 0px,#0000c8 3px,#000097 15px,#000082 38px,#000092 154px,#0000ba 199px,#0000f9 227px,#0022ff 238px,#0081ff 256px,#03fffc 272px,#a1ff5e 286px,#f8ff07 292px,#ffae00 298px,#ff8600 302px,#ff8200 304px)"></i><i style="top:305px;left:6px;width:304px;height:3px;background:linear-gradient(90deg,#0000be 0px,#0000ca 3px,#00009a 14px,#000083 36px,#000092 154px,#0000ba 199px,#0000f8 227px,#001dff 237px,#0080ff 256px,#01fffe 272px,#90ff6f 285px,#fffd00 293px,#ffa300 300px,#ff9000 304px)"></i><i style="top:307px;left:6px;width:304px;height:3px;background:linear-gradient(90deg,#0000bc 0px,#0000ce 3px,#00009b 14px,#000083 35px,#000092 155px,#0000bb 200px,#0000fb 228px,#0040ff 245px,#00a9ff 262px,#00fdff 272px,#8cff73 285px,#faff05 293px,#ffa700 301px,#ff9e00 304px)"></i><i style="top:309px;left:7px;width:302px;height:3px;background:linear-gradient(90deg,#0000bf 0px,#0000c0 4px,#000094 16px,#000083 41px,#000093 156px,#0000bd 200px,#0006ff 230px,#005fff 250px,#00cfff 266px,#05fffa 272px,#96ff69 285px,#fffe00 293px,#ffbb00 299px,#ffac00 302px)"></i><i style="top:311px;left:7px;width:302px;height:3px;background:linear-gradient(90deg,#0000c0 0px,#0000cb 3px,#00009c 13px,#000083 34px,#000092 155px,#0000bb 199px,#0000fa 227px,#003aff 243px,#009eff 260px,#03fffc 272px,#91ff6e 285px,#fff900 294px,#ffc100 300px,#ffb900 302px)"></i><i style="top:313px;left:7px;width:302px;height:3px;background:linear-gradient(90deg,#0000bd 0px,#0000ca 3px,#000098 15px,#000083 38px,#000093 157px,#0000be 201px,#0005ff 230px,#005dff 250px,#00d3ff 267px,#00ffff 272px,#80ff7f 284px,#fcff03 294px,#ffc900 301px,#ffc700 302px)"></i><i style="top:315px;left:7px;width:301px;height:3px;background:linear-gradient(90deg,#0000bc 0px,#0000c8 3px,#000096 16px,#000083 39px,#000093 157px,#0000be 201px,#0004ff 230px,#005cff 250px,#00d0ff 267px,#06fff9 273px,#a0ff5f 287px,#feff01 295px,#ffd600 301px)"></i><i style="top:317px;left:8px;width:300px;height:3px;background:linear-gradient(90deg,#0000c1 0px,#0000cf 2px,#00009b 13px,#000083 34px,#000093 156px,#0000be 200px,#0004ff 229px,#005bff 249px,#00ceff 266px,#03fffc 272px,#b2ff4d 288px,#fdff02 295px,#ffe200 300px)"></i><i style="top:319px;left:8px;width:299px;height:3px;background:linear-gradient(90deg,#0000bd 0px,#0000c6 3px,#000095 16px,#000083 40px,#000094 158px,#0000bf 201px,#0006ff 230px,#005fff 250px,#00d4ff 267px,#00ffff 272px,#fbff04 296px,#fff200 299px)"></i><i style="top:321px;left:8px;width:299px;height:3px;background:linear-gradient(90deg,#0000be 0px,#0000cb 3px,#00009a 14px,#000083 35px,#000094 158px,#0000bf 201px,#0006ff 230px,#005eff 250px,#00d1ff 267px,#06fff9 273px,#e9ff16 295px,#fffd00 299px)"></i><i style="top:323px;left:8px;width:298px;height:3px;background:linear-gradient(90deg,#0000bc 0px,#0000cc 3px,#000098 15px,#000083 37px,#000095 159px,#0000c0 202px,#0005ff 230px,#005cff 250px,#00d6ff 268px,#03fffc 273px,#dfff20 295px,#f1ff0e 298px)"></i><i style="top:325px;left:9px;width:297px;height:3px;background:linear-gradient(90deg,#0000c0 0px,#0000c5 3px,#000095 16px,#000083 39px,#000095 159px,#0000c0 201px,#0004ff 229px,#0061ff 250px,#00dcff 268px,#00feff 272px,#d5ff2a 294px,#e6ff19 297px)"></i><i style="top:327px;left:9px;width:297px;height:3px;background:linear-gradient(90deg,#0000bf 0px,#0000cd 3px,#00009c 13px,#000083 34px,#000095 159px,#0000c1 202px,#0004ff 229px,#005fff 250px,#00d9ff 268px,#05fffa 273px,#c4ff3b 293px,#dbff24 297px)"></i><i style="top:329px;left:9px;width:296px;height:3px;background:linear-gradient(90deg,#0000bb 0px,#0000c5 4px,#000096 16px,#000083 39px,#000096 160px,#0000c1 202px,#0006ff 230px,#0063ff 251px,#00deff 269px,#02fffd 273px,#baff45 293px,#ccff33 296px)"></i><i style="top:331px;left:10px;width:294px;height:3px;background:linear-gradient(90deg,#0000c2 0px,#0000c7 3px,#000099 14px,#000083 35px,#000096 160px,#0000c3 202px,#0006ff 229px,#0062ff 250px,#00dbff 268px,#07fff8 273px,#b1ff4e 292px,#bcff43 294px)"></i><i style="top:333px;left:10px;width:294px;height:3px;background:linear-gradient(90deg,#0000c0 0px,#0000cc 3px,#00009c 13px,#000084 33px,#000096 160px,#0000c2 202px,#0005ff 229px,#0060ff 250px,#00d8ff 268px,#04fffb 273px,#a1ff5e 291px,#b2ff4d 294px)"></i><i style="top:335px;left:10px;width:293px;height:3px;background:linear-gradient(90deg,#0000bd 0px,#0000c3 4px,#000093 17px,#000084 40px,#000097 162px,#0000c4 203px,#0004ff 229px,#005fff 250px,#00d5ff 268px,#00ffff 273px,#98ff67 291px,#a3ff5c 293px)"></i><i style="top:337px;left:10px;width:293px;height:3px;background:linear-gradient(90deg,#0000bd 0px,#0000ce 3px,#00009e 13px,#000084 33px,#000097 161px,#0000c3 203px,#0003ff 229px,#0062ff 251px,#00daff 269px,#04fffb 274px,#8fff70 291px,#9aff65 293px)"></i><i style="top:339px;left:11px;width:291px;height:3px;background:linear-gradient(90deg,#0000bf 0px,#0000c9 3px,#000099 14px,#000084 35px,#000098 162px,#0000c5 203px,#0006ff 229px,#0066ff 251px,#00d7ff 268px,#00ffff 273px,#86ff79 290px,#8cff73 291px)"></i><i style="top:341px;left:11px;width:291px;height:3px;background:linear-gradient(90deg,#0000be 0px,#0000c7 3px,#000095 16px,#000084 38px,#000098 163px,#0000c6 204px,#0005ff 229px,#0064ff 251px,#00dbff 269px,#04fffb 274px,#7dff82 290px,#82ff7d 291px)"></i><i style="top:343px;left:11px;width:290px;height:3px;background:linear-gradient(90deg,#0000bd 0px,#0000d0 3px,#00009d 13px,#000084 33px,#000098 163px,#0000c6 204px,#0004ff 229px,#0062ff 251px,#00d7ff 269px,#00ffff 274px,#74ff8b 290px)"></i><i style="top:345px;left:12px;width:288px;height:3px;background:linear-gradient(90deg,#0000be 0px,#0000c6 3px,#000095 16px,#000084 38px,#000099 164px,#0000c7 204px,#0004ff 228px,#0060ff 250px,#00dbff 269px,#03fffc 274px,#67ff98 288px)"></i><i style="top:347px;left:12px;width:288px;height:3px;background:linear-gradient(90deg,#0000bf 0px,#0000ca 3px,#00009d 13px,#000084 32px,#000099 164px,#0000c9 205px,#0006ff 229px,#0064ff 251px,#00e6ff 271px,#06fff9 275px,#5effa1 288px)"></i><i style="top:349px;left:12px;width:287px;height:3px;background:linear-gradient(90deg,#0000bc 0px,#0000cd 3px,#00009b 14px,#000084 34px,#00009a 165px,#0000c8 205px,#0005ff 229px,#0067ff 252px,#00f8ff 274px,#2cffd3 281px,#51ffae 287px)"></i><i style="top:351px;left:13px;width:285px;height:3px;background:linear-gradient(90deg,#0000c0 0px,#0000c4 3px,#000093 17px,#000085 39px,#00009b 166px,#0000cc 206px,#0004ff 228px,#0065ff 251px,#03fffc 275px,#44ffbb 285px)"></i><i style="top:353px;left:13px;width:284px;height:3px;background:linear-gradient(90deg,#0000bf 0px,#0000cd 3px,#00009d 13px,#000085 32px,#00009b 166px,#0000cb 206px,#0007ff 229px,#0068ff 252px,#04fffb 276px,#37ffc8 284px)"></i><i style="top:355px;left:13px;width:284px;height:3px;background:linear-gradient(90deg,#0000bb 0px,#0000c7 4px,#000098 15px,#000085 35px,#00009c 167px,#0000cd 207px,#0006ff 229px,#0066ff 252px,#05fffa 277px,#30ffcf 284px)"></i><i style="top:357px;left:14px;width:282px;height:3px;background:linear-gradient(90deg,#0000c1 0px,#0000c7 3px,#000097 15px,#000085 35px,#00009c 167px,#0000cc 206px,#0005ff 228px,#0064ff 251px,#06fff9 277px,#23ffdc 282px)"></i><i style="top:359px;left:14px;width:281px;height:3px;background:linear-gradient(90deg,#0000be 0px,#0000ce 3px,#00009d 13px,#000085 32px,#00009d 168px,#0000ce 207px,#0007ff 229px,#0067ff 252px,#06fff9 278px,#17ffe8 281px)"></i><i style="top:361px;left:14px;width:280px;height:3px;background:linear-gradient(90deg,#0000bb 0px,#0000c5 4px,#000094 17px,#000086 38px,#00009d 169px,#0000cf 208px,#0006ff 229px,#0065ff 252px,#06fff9 279px,#0bfff4 280px)"></i><i style="top:363px;left:15px;width:278px;height:3px;background:linear-gradient(90deg,#0000c0 0px,#0000ca 3px,#00009c 13px,#000085 32px,#00009e 169px,#0000d1 208px,#0005ff 228px,#0062ff 251px,#00ffff 278px)"></i><i style="top:365px;left:15px;width:278px;height:3px;background:linear-gradient(90deg,#0000bd 0px,#0000cc 3px,#00009a 14px,#000086 33px,#00009f 170px,#0000d2 209px,#0007ff 229px,#0065ff 252px,#00f9ff 278px)"></i><i style="top:367px;left:16px;width:276px;height:3px;background:linear-gradient(90deg,#0000c1 0px,#0000c4 3px,#000095 16px,#000086 36px,#0000a0 170px,#0000d2 208px,#0006ff 228px,#0063ff 251px,#00edff 276px)"></i><i style="top:369px;left:16px;width:275px;height:3px;background:linear-gradient(90deg,#0000bf 0px,#0000cd 3px,#0000a0 12px,#000086 30px,#00009f 168px,#0000cb 205px,#0005ff 228px,#0065ff 252px,#00e3ff 275px)"></i><i style="top:371px;left:16px;width:274px;height:3px;background:linear-gradient(90deg,#0000bb 0px,#0000c6 4px,#000096 16px,#000086 35px,#0000a1 170px,#0000cd 206px,#0007ff 229px,#0068ff 253px,#00d8ff 274px)"></i><i style="top:373px;left:17px;width:272px;height:3px;background:linear-gradient(90deg,#0000c1 0px,#0000c8 3px,#000097 15px,#000086 34px,#0000a1 168px,#0000c8 203px,#0006ff 228px,#0065ff 252px,#00ceff 272px)"></i><i style="top:375px;left:17px;width:271px;height:3px;background:linear-gradient(90deg,#0000be 0px,#0000ce 3px,#00009d 13px,#000086 31px,#0000a1 167px,#0000c3 200px,#0004ff 228px,#0063ff 252px,#00c4ff 271px)"></i><i style="top:377px;left:18px;width:269px;height:3px;background:linear-gradient(90deg,#0000c0 0px,#0000c1 4px,#000095 16px,#000087 35px,#0000a2 167px,#0000c2 199px,#0006ff 228px,#0065ff 252px,#00baff 269px)"></i><i style="top:379px;left:18px;width:268px;height:3px;background:linear-gradient(90deg,#0000c0 0px,#0000cb 3px,#00009d 13px,#000087 30px,#0000a2 165px,#0000bd 196px,#0005ff 228px,#0067ff 253px,#00b0ff 268px)"></i><i style="top:381px;left:18px;width:267px;height:3px;background:linear-gradient(90deg,#0000bb 0px,#0000cb 3px,#000099 15px,#000087 33px,#0000a3 165px,#0000be 197px,#0004ff 228px,#0069ff 254px,#00a7ff 267px)"></i><i style="top:383px;left:19px;width:265px;height:3px;background:linear-gradient(90deg,#0000c0 0px,#0000c5 3px,#000093 17px,#000087 35px,#0000a4 165px,#0000bf 197px,#0006ff 228px,#006fff 255px,#009eff 265px)"></i><i style="top:385px;left:19px;width:264px;height:3px;background:linear-gradient(90deg,#0000be 0px,#0000cf 3px,#0000a1 12px,#000087 29px,#0000a4 163px,#0000bf 197px,#0004ff 228px,#0071ff 256px,#0095ff 264px)"></i><i style="top:387px;left:20px;width:262px;height:3px;background:linear-gradient(90deg,#0000be 0px,#0000c8 3px,#000097 15px,#000088 33px,#0000a5 163px,#0000c2 198px,#0006ff 228px,#0076ff 257px,#008dff 262px)"></i><i style="top:389px;left:20px;width:261px;height:3px;background:linear-gradient(90deg,#0000bf 0px,#0000c9 3px,#000098 15px,#000088 32px,#0000a5 162px,#0000c3 199px,#0005ff 228px,#006aff 255px,#0084ff 261px)"></i><i style="top:391px;left:21px;width:259px;height:3px;background:linear-gradient(90deg,#0000c1 0px,#0000ce 2px,#00009c 13px,#000088 30px,#0000a6 160px,#0000c5 200px,#0006ff 228px,#005cff 251px,#007eff 257px,#007cff 259px)"></i><i style="top:393px;left:21px;width:258px;height:3px;background:linear-gradient(90deg,#0000be 0px,#0000c3 4px,#000096 16px,#000088 33px,#0000a7 161px,#0000c8 202px,#0005ff 228px,#004fff 248px,#0080ff 255px,#0074ff 258px)"></i><i style="top:395px;left:21px;width:257px;height:3px;background:linear-gradient(90deg,#0000bd 0px,#0000cd 3px,#00009e 13px,#000088 29px,#0000a7 159px,#0000cb 204px,#0006ff 229px,#0043ff 245px,#0079ff 254px,#006eff 257px)"></i><i style="top:397px;left:22px;width:255px;height:3px;background:linear-gradient(90deg,#0000be 0px,#0000cb 3px,#00009a 14px,#000089 30px,#0000a8 158px,#0000ce 205px,#0005ff 228px,#0039ff 241px,#0077ff 252px,#006dff 255px)"></i><i style="top:399px;left:22px;width:253px;height:3px;background:linear-gradient(90deg,#0000bd 0px,#0000c7 3px,#000092 18px,#000089 35px,#0000a9 160px,#0000d1 207px,#0004ff 228px,#005dff 246px,#007eff 251px,#0070ff 253px)"></i><i style="top:401px;left:23px;width:251px;height:3px;background:linear-gradient(90deg,#0000c0 0px,#0000ce 2px,#00009d 13px,#000089 29px,#0000a9 157px,#0000d4 208px,#0005ff 226px,#0064ff 245px,#007aff 248px,#006cff 251px)"></i><i style="top:403px;left:23px;width:250px;height:3px;background:linear-gradient(90deg,#0000bb 0px,#0000c7 4px,#000099 15px,#000089 31px,#0000aa 157px,#0000d8 210px,#0006ff 225px,#0061ff 243px,#0075ff 247px,#006eff 250px)"></i><i style="top:405px;left:24px;width:248px;height:3px;background:linear-gradient(90deg,#0000c0 0px,#0000c7 3px,#000095 16px,#00008a 32px,#0000ab 156px,#0000d7 208px,#0004ff 222px,#0056ff 239px,#007bff 246px,#006dff 248px)"></i><i style="top:407px;left:24px;width:247px;height:3px;background:linear-gradient(90deg,#0000bd 0px,#0000cf 3px,#00009e 13px,#000089 28px,#0000ac 155px,#0000d8 207px,#0005ff 221px,#005fff 239px,#0081ff 244px,#0069ff 247px)"></i><i style="top:409px;left:25px;width:244px;height:3px;background:linear-gradient(90deg,#0000bf 0px,#0000c3 4px,#000095 16px,#00008a 31px,#0000ad 155px,#0000d9 205px,#0007ff 219px,#0067ff 238px,#007bff 241px,#0070ff 244px)"></i><i style="top:411px;left:25px;width:243px;height:3px;background:linear-gradient(90deg,#0000be 0px,#0000cc 3px,#00009b 14px,#00008a 29px,#0000ae 154px,#0000da 204px,#0004ff 217px,#005cff 235px,#0079ff 241px,#0071ff 243px)"></i><i style="top:413px;left:26px;width:241px;height:3px;background:linear-gradient(90deg,#0000bf 0px,#0000cb 3px,#00009d 13px,#00008a 28px,#0000ae 152px,#0000d9 201px,#0006ff 215px,#005aff 232px,#007fff 238px,#006eff 241px)"></i><i style="top:415px;left:26px;width:239px;height:3px;background:linear-gradient(90deg,#0000bd 0px,#0000c3 4px,#000094 17px,#00008b 32px,#0000b0 154px,#0000db 200px,#0004ff 213px,#0056ff 230px,#0080ff 237px,#0070ff 239px)"></i><i style="top:417px;left:27px;width:237px;height:3px;background:linear-gradient(90deg,#0000c1 0px,#0000ce 2px,#00009d 13px,#00008b 27px,#0000b0 151px,#0000db 197px,#0006ff 211px,#0064ff 230px,#007cff 234px,#0072ff 237px)"></i><i style="top:419px;left:27px;width:236px;height:3px;background:linear-gradient(90deg,#0000bb 0px,#0000ca 3px,#000099 15px,#00008b 29px,#0000b1 151px,#0000da 195px,#0004ff 209px,#005aff 227px,#007bff 233px,#0071ff 236px)"></i><i style="top:421px;left:28px;width:233px;height:3px;background:linear-gradient(90deg,#0000c0 0px,#0000c6 3px,#000093 17px,#00008c 33px,#0000b4 152px,#0000da 192px,#0004ff 206px,#0058ff 224px,#0084ff 231px,#0074ff 233px)"></i><i style="top:423px;left:28px;width:232px;height:3px;background:linear-gradient(90deg,#0000bd 0px,#0000d0 3px,#0000a1 12px,#00008b 26px,#0000b3 149px,#0000d9 190px,#0007ff 205px,#0056ff 222px,#0083ff 229px,#0071ff 232px)"></i><i style="top:425px;left:29px;width:229px;height:3px;background:linear-gradient(90deg,#0000be 0px,#0000c4 4px,#000098 15px,#00008c 28px,#0000b5 149px,#0000d9 187px,#0006ff 202px,#0059ff 220px,#007eff 226px,#0077ff 229px)"></i><i style="top:427px;left:29px;width:228px;height:3px;background:linear-gradient(90deg,#0000bd 0px,#0000ca 3px,#000097 16px,#00008d 29px,#0000b6 149px,#0000d9 185px,#0006ff 200px,#0062ff 220px,#0080ff 226px,#0075ff 228px)"></i><i style="top:429px;left:30px;width:225px;height:3px;background:linear-gradient(90deg,#0000bf 0px,#0000cd 3px,#00009d 13px,#00008d 26px,#0000b7 147px,#0000d8 182px,#0005ff 197px,#0061ff 217px,#0087ff 223px,#0078ff 225px)"></i><i style="top:431px;left:31px;width:223px;height:3px;background:linear-gradient(90deg,#0000c0 0px,#0000c1 4px,#000095 16px,#00008e 31px,#0000b9 148px,#0000db 180px,#0005ff 194px,#0061ff 214px,#0087ff 220px,#0073ff 223px)"></i><i style="top:433px;left:31px;width:221px;height:3px;background:linear-gradient(90deg,#0000bf 0px,#0000cb 3px,#00009b 14px,#00008d 26px,#0000ba 146px,#0000db 178px,#0005ff 192px,#005bff 211px,#0085ff 218px,#007aff 221px)"></i><i style="top:435px;left:32px;width:219px;height:3px;background:linear-gradient(90deg,#0000c0 0px,#0000ca 3px,#00009c 13px,#00008e 25px,#0000ba 144px,#0000d8 174px,#0005ff 189px,#005bff 208px,#0083ff 215px,#007bff 219px)"></i><i style="top:437px;left:32px;width:217px;height:3px;background:linear-gradient(90deg,#0000be 0px,#0000c3 4px,#000094 17px,#000090 37px,#0000bf 149px,#0000db 173px,#0005ff 187px,#005bff 206px,#008eff 215px,#0080ff 217px)"></i><i style="top:439px;left:33px;width:215px;height:3px;background:linear-gradient(90deg,#0000c1 0px,#0000cf 2px,#00009d 13px,#00008e 25px,#0000bc 142px,#0000da 170px,#0005ff 184px,#0064ff 205px,#0094ff 212px,#007aff 215px)"></i><i style="top:441px;left:33px;width:213px;height:3px;background:linear-gradient(90deg,#0000bb 0px,#0000c7 4px,#000099 15px,#00008f 26px,#0000bd 141px,#0000da 168px,#0005ff 182px,#005fff 202px,#0092ff 210px,#0081ff 213px)"></i><i style="top:443px;left:34px;width:210px;height:3px;background:linear-gradient(90deg,#0000c0 0px,#0000c6 3px,#000094 17px,#00009f 78px,#0000d1 162px,#0005ff 179px,#005fff 199px,#0090ff 207px,#0089ff 210px)"></i><i style="top:445px;left:34px;width:209px;height:3px;background:linear-gradient(90deg,#0000bc 0px,#0000d1 3px,#0000a2 12px,#00008f 24px,#0000bd 136px,#0000da 164px,#0005ff 177px,#0060ff 197px,#008eff 205px,#008fff 208px,#0086ff 209px)"></i><i style="top:447px;left:35px;width:206px;height:3px;background:linear-gradient(90deg,#0000bd 0px,#0000c5 4px,#000098 15px,#000090 26px,#0000bf 135px,#0000db 162px,#0005ff 174px,#0061ff 194px,#009cff 204px,#0089ff 206px)"></i><i style="top:449px;left:36px;width:203px;height:3px;background:linear-gradient(90deg,#0000c2 0px,#0000c6 3px,#000095 16px,#00009b 60px,#0000d1 154px,#0003ff 171px,#0072ff 194px,#009eff 201px,#008aff 203px)"></i><i style="top:451px;left:36px;width:202px;height:3px;background:linear-gradient(90deg,#0000be 0px,#0000ce 3px,#0000a1 12px,#000091 23px,#0000be 128px,#0000dc 158px,#0005ff 170px,#0074ff 192px,#009dff 198px,#008cff 202px)"></i><i style="top:453px;left:37px;width:199px;height:3px;background:linear-gradient(90deg,#0000bf 0px,#0000c3 4px,#000096 16px,#0000a3 77px,#0000d8 154px,#0003ff 167px,#006eff 188px,#009dff 195px,#0091ff 199px)"></i><i style="top:455px;left:37px;width:197px;height:3px;background:linear-gradient(90deg,#0000be 0px,#0000cc 3px,#000099 15px,#000092 27px,#0000c1 127px,#0000df 155px,#0006ff 166px,#0069ff 185px,#009bff 193px,#009eff 196px,#0095ff 197px)"></i><i style="top:457px;left:38px;width:194px;height:3px;background:linear-gradient(90deg,#0000be 0px,#0000cc 3px,#00009d 13px,#000092 23px,#0000bf 120px,#0000de 152px,#0004ff 163px,#005bff 180px,#00a8ff 192px,#0097ff 194px)"></i><i style="top:459px;left:39px;width:191px;height:3px;background:linear-gradient(90deg,#0000c1 0px,#0000c1 4px,#000095 16px,#0000b0 93px,#0000dd 149px,#0007ff 161px,#0060ff 178px,#00aeff 189px,#0098ff 191px)"></i><i style="top:461px;left:39px;width:189px;height:3px;background:linear-gradient(90deg,#0000bf 0px,#0000cc 3px,#00009e 13px,#000093 22px,#0000bd 112px,#0000df 148px,#0005ff 159px,#0056ff 175px,#00abff 187px,#009aff 189px)"></i><i style="top:463px;left:40px;width:187px;height:3px;background:linear-gradient(90deg,#0000be 0px,#0000c9 3px,#00009a 14px,#000095 28px,#0000c2 116px,#0000e1 146px,#0004ff 156px,#005aff 173px,#00a5ff 183px,#009aff 187px)"></i><i style="top:465px;left:40px;width:185px;height:3px;background:linear-gradient(90deg,#0000bd 0px,#0000c6 3px,#000094 17px,#0000b8 100px,#0000e1 144px,#0007ff 155px,#005eff 172px,#009eff 181px,#0097ff 185px)"></i><i style="top:467px;left:41px;width:182px;height:3px;background:linear-gradient(90deg,#0000bf 0px,#0000cb 3px,#0000a0 12px,#000094 21px,#0000bf 106px,#0000e3 142px,#0006ff 152px,#005cff 169px,#0097ff 178px,#00a2ff 180px,#0094ff 182px)"></i><i style="top:469px;left:42px;width:179px;height:3px;background:linear-gradient(90deg,#0000be 0px,#0000c6 3px,#000097 15px,#0000b6 92px,#0000e2 139px,#0005ff 149px,#005bff 166px,#00a2ff 177px,#008fff 179px)"></i><i style="top:471px;left:42px;width:177px;height:3px;background:linear-gradient(90deg,#0000be 0px,#0000c6 3px,#000096 16px,#0000bc 98px,#0000e3 138px,#0004ff 147px,#0059ff 164px,#0096ff 173px,#00a0ff 174px,#008dff 177px)"></i><i style="top:473px;left:43px;width:174px;height:3px;background:linear-gradient(90deg,#0000bf 0px,#0000cc 2px,#00009c 13px,#000098 26px,#0000c5 106px,#0000e4 136px,#0007ff 145px,#0064ff 163px,#00a1ff 171px,#008dff 173px,#008cff 174px)"></i><i style="top:475px;left:43px;width:172px;height:3px;background:linear-gradient(90deg,#0000bb 0px,#0000c3 4px,#000096 16px,#0000bf 98px,#0000e6 135px,#0005ff 143px,#006aff 162px,#0099ff 169px,#008bff 172px)"></i><i style="top:477px;left:44px;width:168px;height:3px;background:linear-gradient(90deg,#0000be 0px,#0000c6 3px,#000097 15px,#0000be 95px,#0000e8 133px,#0007ff 141px,#0069ff 159px,#0095ff 165px,#008dff 168px)"></i><i style="top:479px;left:45px;width:165px;height:3px;background:linear-gradient(90deg,#0000be 0px,#0000ca 2px,#000098 14px,#0000bd 91px,#0000e9 131px,#0005ff 138px,#0061ff 155px,#0090ff 162px,#008bff 165px)"></i><i style="top:481px;left:45px;width:163px;height:3px;background:linear-gradient(90deg,#0000bb 0px,#0000c0 4px,#000097 15px,#0000c3 96px,#0000eb 130px,#0007ff 137px,#0059ff 152px,#008aff 159px,#0088ff 163px)"></i><i style="top:483px;left:46px;width:160px;height:3px;background:linear-gradient(90deg,#0000bd 0px,#0000c9 2px,#000099 14px,#0000c1 92px,#0000ed 128px,#0009ff 135px,#0068ff 152px,#0085ff 156px,#008bff 159px,#0083ff 160px)"></i><i style="top:485px;left:46px;width:158px;height:3px;background:linear-gradient(90deg,#0000b7 0px,#0000c7 3px,#000098 15px,#0000c5 95px,#0000ef 127px,#0007ff 133px,#005dff 149px,#007cff 153px,#008aff 156px,#007cff 158px)"></i><i style="top:487px;left:47px;width:154px;height:3px;background:linear-gradient(90deg,#0000bb 0px,#0000be 4px,#000099 15px,#0000c7 94px,#0000f0 125px,#0009ff 131px,#005bff 146px,#0084ff 153px,#007cff 154px)"></i><i style="top:489px;left:48px;width:151px;height:3px;background:linear-gradient(90deg,#0000bd 0px,#0000ca 2px,#00009d 12px,#0000bc 79px,#0000eb 121px,#0008ff 128px,#0059ff 143px,#0080ff 149px,#0071ff 151px)"></i><i style="top:491px;left:48px;width:149px;height:3px;background:linear-gradient(90deg,#0000b8 0px,#0000c2 4px,#00009b 14px,#0000c8 91px,#0000ee 120px,#000aff 127px,#006eff 145px,#0079ff 147px,#006dff 149px)"></i><i style="top:493px;left:49px;width:145px;height:3px;background:linear-gradient(90deg,#0000bb 0px,#0000c1 3px,#00009c 14px,#0000c9 90px,#0000f0 118px,#0008ff 124px,#006dff 142px,#0076ff 143px,#0067ff 145px)"></i><i style="top:495px;left:50px;width:142px;height:3px;background:linear-gradient(90deg,#0000bd 0px,#0000ca 2px,#00009f 11px,#0000c0 77px,#0000ee 115px,#000aff 122px,#0062ff 138px,#006dff 140px,#0063ff 142px)"></i><i style="top:497px;left:50px;width:140px;height:3px;background:linear-gradient(90deg,#0000b8 0px,#0000bf 4px,#00009e 13px,#0000c9 86px,#0000ed 113px,#0009ff 120px,#0061ff 136px,#006aff 137px,#005dff 140px)"></i><i style="top:499px;left:51px;width:136px;height:3px;background:linear-gradient(90deg,#0000bb 0px,#0000c0 3px,#00009f 12px,#0000ca 84px,#0000ed 110px,#0007ff 117px,#0057ff 132px,#0060ff 134px,#0058ff 136px)"></i><i style="top:501px;left:51px;width:134px;height:3px;background:linear-gradient(90deg,#0000b6 0px,#0000c7 3px,#0000a0 12px,#0000ca 83px,#0000ed 108px,#0006ff 115px,#0055ff 130px,#005eff 131px,#0052ff 134px)"></i><i style="top:503px;left:52px;width:130px;height:3px;background:linear-gradient(90deg,#0000b8 0px,#0000bd 4px,#0000a1 12px,#0000cb 81px,#0000ec 105px,#0006ff 112px,#004cff 126px,#0053ff 128px,#004dff 130px)"></i><i style="top:505px;left:53px;width:126px;height:3px;background:linear-gradient(90deg,#0000bb 0px,#0000c0 3px,#0000a2 11px,#0000cb 78px,#0000ec 102px,#0006ff 109px,#0050ff 124px,#0047ff 126px)"></i><i style="top:507px;left:53px;width:124px;height:3px;background:linear-gradient(90deg,#0000b5 0px,#0000c4 3px,#0000a3 11px,#0000cb 77px,#0000e9 99px,#0006ff 107px,#0042ff 120px,#004aff 121px,#0041ff 124px)"></i><i style="top:509px;left:54px;width:120px;height:3px;background:linear-gradient(90deg,#0000b8 0px,#0000ba 4px,#0000a4 11px,#0000cc 75px,#0000e9 96px,#0006ff 104px,#0045ff 118px,#003cff 120px)"></i><i style="top:511px;left:55px;width:116px;height:3px;background:linear-gradient(90deg,#0000ba 0px,#0000c4 2px,#0000a5 9px,#0000cb 71px,#0000e9 93px,#0006ff 101px,#0043ff 114px,#0037ff 116px)"></i><i style="top:513px;left:55px;width:114px;height:3px;background:linear-gradient(90deg,#0000b4 0px,#0000bd 4px,#0000a6 10px,#0000cb 70px,#0000e9 91px,#0006ff 99px,#003bff 112px,#0034ff 114px)"></i><i style="top:515px;left:56px;width:110px;height:3px;background:linear-gradient(90deg,#0000b8 0px,#0000bc 3px,#0000a8 10px,#0000cc 68px,#0000e9 88px,#0006ff 96px,#003aff 108px,#0030ff 110px)"></i><i style="top:517px;left:56px;width:107px;height:3px;background:linear-gradient(90deg,#0000b4 0px,#0000c4 3px,#0000a9 9px,#0000c8 63px,#0000e6 85px,#0006ff 94px,#0036ff 105px,#002bff 107px)"></i><i style="top:519px;left:57px;width:103px;height:3px;background:linear-gradient(90deg,#0000b5 0px,#0000bb 4px,#0000aa 9px,#0000c9 61px,#0000e7 82px,#0006ff 91px,#0030ff 102px,#0029ff 103px)"></i><i style="top:521px;left:58px;width:99px;height:3px;background:linear-gradient(90deg,#0000b8 0px,#0000bb 3px,#0000ac 9px,#0000ca 59px,#0000e4 78px,#0007ff 88px,#002cff 98px,#0027ff 99px)"></i><i style="top:523px;left:58px;width:97px;height:3px;background:linear-gradient(90deg,#0000b3 0px,#0000c3 3px,#0000ad 8px,#0000c9 57px,#0000e4 76px,#0003ff 85px,#0028ff 95px,#001fff 97px)"></i><i style="top:525px;left:59px;width:93px;height:3px;background:linear-gradient(90deg,#0000b5 0px,#0000b9 4px,#0000af 9px,#0000cb 56px,#0000e5 73px,#0004ff 82px,#001fff 89px,#001dff 93px)"></i><i style="top:527px;left:60px;width:89px;height:3px;background:linear-gradient(90deg,#0000b7 0px,#0000bc 3px,#0000b1 8px,#0000cb 54px,#0000e2 69px,#0005ff 79px,#001dff 85px,#001bff 89px)"></i><i style="top:529px;left:60px;width:86px;height:3px;background:linear-gradient(90deg,#0000b1 0px,#0000c1 3px,#0000b2 7px,#0000cd 54px,#0000e6 68px,#0005ff 77px,#0019ff 83px,#0018ff 86px)"></i><i style="top:531px;left:61px;width:82px;height:3px;background:linear-gradient(90deg,#0000b4 0px,#0000b5 5px,#0000ca 48px,#0000e3 64px,#0006ff 74px,#0018ff 79px,#0014ff 82px)"></i><i style="top:533px;left:62px;width:78px;height:3px;background:linear-gradient(90deg,#0000b5 0px,#0000bc 3px,#0000b6 9px,#0000d1 53px,#0006ff 71px,#0016ff 75px,#0010ff 78px)"></i><i style="top:535px;left:63px;width:74px;height:3px;background:linear-gradient(90deg,#0000b4 0px,#0000bd 3px,#0000ba 12px,#0000d4 52px,#0006ff 68px,#000fff 72px,#000cff 74px)"></i><i style="top:537px;left:64px;width:69px;height:3px;background:linear-gradient(90deg,#0000b5 0px,#0000d2 48px,#0004ff 65px,#000dff 68px,#0007ff 69px)"></i><i style="top:539px;left:64px;width:66px;height:3px;background:linear-gradient(90deg,#0000b7 0px,#0000d3 46px,#0003ff 63px,#0005ff 66px)"></i><i style="top:541px;left:65px;width:62px;height:3px;background:linear-gradient(90deg,#0000b8 0px,#0000d4 43px,#0003ff 60px,#0002ff 62px)"></i><i style="top:543px;left:66px;width:58px;height:3px;background:linear-gradient(90deg,#0000ba 0px,#0000d5 40px,#0000fe 55px,#0000fe 58px)"></i><i style="top:545px;left:67px;width:54px;height:3px;background:linear-gradient(90deg,#0000bc 0px,#0000d6 36px,#0000fd 51px,#0000fb 54px)"></i><i style="top:547px;left:69px;width:48px;height:3px;background:linear-gradient(90deg,#0000bf 0px,#0000d6 30px,#0000fc 46px,#0000f6 48px)"></i><i style="top:549px;left:70px;width:44px;height:3px;background:linear-gradient(90deg,#0000c1 0px,#0000dc 28px,#0000f4 43px,#0000f2 44px)"></i><i style="top:551px;left:72px;width:37px;height:3px;background:linear-gradient(90deg,#0000c4 0px,#0000e8 29px,#0000f0 35px,#0000f2 37px)"></i><i style="top:553px;left:73px;width:30px;height:3px;background:linear-gradient(90deg,#0000c6 0px,#0000dc 14px,#0000f0 30px)"></i><i style="top:555px;left:76px;width:22px;height:3px;background:linear-gradient(90deg,#0000cb 0px,#0000e5 8px,#0000ea 22px)"></i></div><div class="pl" style="left:1359px;top:90px;width:306px;height:552px;clip-path:polygon(60.0px 12.1px,62.6px 10.6px,65.3px 9.2px,68.1px 8.0px,70.9px 6.9px,73.8px 6.0px,76.8px 5.2px,79.8px 4.5px,82.8px 4.0px,86.0px 3.6px,89.1px 3.3px,92.3px 3.1px,95.5px 3.1px,98.7px 3.2px,102.0px 3.3px,105.3px 3.6px,108.5px 4.0px,111.8px 4.5px,115.1px 5.1px,118.4px 5.7px,121.6px 6.5px,124.8px 7.3px,128.0px 8.2px,131.2px 9.2px,134.3px 10.3px,137.4px 11.4px,140.5px 12.6px,143.5px 13.9px,146.5px 15.2px,149.4px 16.6px,152.3px 18.0px,155.1px 19.5px,157.9px 21.0px,160.7px 22.6px,163.4px 24.2px,166.1px 25.9px,168.8px 27.6px,171.5px 29.3px,174.1px 31.1px,176.8px 32.9px,179.4px 34.7px,181.9px 36.6px,184.5px 38.5px,187.0px 40.4px,189.6px 42.3px,192.1px 44.2px,194.6px 46.2px,197.1px 48.2px,199.5px 50.2px,202.0px 52.2px,204.4px 54.3px,206.8px 56.3px,209.2px 58.4px,211.6px 60.6px,213.9px 62.7px,216.2px 64.9px,218.5px 67.1px,220.8px 69.3px,223.1px 71.5px,225.3px 73.8px,227.5px 76.0px,229.7px 78.4px,231.9px 80.7px,234.0px 83.0px,236.1px 85.4px,238.2px 87.8px,240.3px 90.2px,242.3px 92.7px,244.3px 95.1px,246.3px 97.6px,248.2px 100.2px,250.2px 102.7px,252.1px 105.3px,253.9px 107.9px,255.8px 110.5px,257.6px 113.1px,259.3px 115.8px,261.1px 118.5px,262.8px 121.2px,264.4px 123.9px,266.1px 126.7px,267.7px 129.4px,269.3px 132.3px,270.8px 135.1px,272.3px 137.9px,273.8px 140.8px,275.2px 143.7px,276.6px 146.6px,278.0px 149.5px,279.3px 152.5px,280.6px 155.4px,281.9px 158.4px,283.2px 161.4px,284.4px 164.4px,285.5px 167.5px,286.7px 170.5px,287.7px 173.6px,288.8px 176.7px,289.8px 179.7px,290.8px 182.8px,291.8px 186.0px,292.7px 189.1px,293.6px 192.2px,294.4px 195.4px,295.2px 198.5px,296.0px 201.7px,296.7px 204.8px,297.4px 208.0px,298.1px 211.2px,298.7px 214.4px,299.3px 217.6px,299.8px 220.8px,300.3px 224.0px,300.8px 227.2px,301.2px 230.5px,301.6px 233.7px,301.9px 236.9px,302.2px 240.1px,302.5px 243.4px,302.7px 246.6px,302.9px 249.8px,303.1px 253.1px,303.2px 256.3px,303.3px 259.5px,303.3px 262.8px,303.3px 266.0px,303.3px 269.2px,303.2px 272.4px,303.0px 275.7px,302.9px 278.9px,302.6px 282.1px,302.4px 285.3px,302.1px 288.5px,301.8px 291.7px,301.4px 294.8px,300.9px 298.0px,300.5px 301.2px,300.0px 304.3px,299.4px 307.5px,298.8px 310.6px,298.2px 313.7px,297.5px 316.8px,296.8px 319.9px,296.0px 323.0px,295.2px 326.1px,294.4px 329.2px,293.5px 332.2px,292.6px 335.3px,291.7px 338.3px,290.7px 341.3px,289.6px 344.4px,288.6px 347.4px,287.5px 350.3px,286.3px 353.3px,285.1px 356.3px,283.9px 359.2px,282.7px 362.2px,281.4px 365.1px,280.1px 368.0px,278.7px 370.9px,277.4px 373.8px,275.9px 376.6px,274.5px 379.5px,273.0px 382.3px,271.5px 385.1px,270.0px 387.9px,268.4px 390.7px,266.8px 393.5px,265.1px 396.3px,263.5px 399.0px,261.8px 401.8px,260.1px 404.5px,258.3px 407.2px,256.5px 409.9px,254.7px 412.5px,252.9px 415.2px,251.0px 417.8px,249.2px 420.4px,247.2px 423.0px,245.3px 425.6px,243.3px 428.2px,241.4px 430.7px,239.4px 433.3px,237.3px 435.8px,235.3px 438.3px,233.2px 440.7px,231.1px 443.2px,229.0px 445.6px,226.8px 448.1px,224.6px 450.5px,222.5px 452.8px,220.3px 455.2px,218.0px 457.5px,215.8px 459.9px,213.5px 462.2px,211.2px 464.5px,208.9px 466.7px,206.6px 469.0px,204.3px 471.2px,201.9px 473.4px,199.5px 475.6px,197.2px 477.7px,194.8px 479.9px,192.3px 482.0px,189.9px 484.1px,187.5px 486.1px,185.0px 488.2px,182.5px 490.2px,180.0px 492.2px,177.5px 494.2px,175.0px 496.2px,172.5px 498.2px,170.0px 500.1px,167.4px 502.1px,164.9px 504.0px,162.3px 505.9px,159.7px 507.7px,157.1px 509.6px,154.5px 511.5px,151.9px 513.3px,149.3px 515.1px,146.7px 517.0px,144.0px 518.8px,141.4px 520.5px,138.7px 522.3px,136.1px 524.1px,133.4px 525.9px,130.7px 527.6px,128.0px 529.3px,125.4px 531.1px,122.7px 532.8px,120.0px 534.5px,117.3px 536.2px,114.6px 537.9px,111.8px 539.5px,109.0px 541.0px,106.1px 542.4px,103.2px 543.7px,100.1px 544.7px,97.1px 545.8px,94.1px 546.9px,91.1px 547.9px,88.0px 548.6px,84.7px 548.9px,81.4px 548.9px,78.2px 548.4px,75.4px 547.0px,73.0px 544.9px,70.9px 542.4px,69.0px 539.7px,67.4px 536.9px,65.9px 534.0px,64.6px 531.1px,63.3px 528.1px,62.1px 525.1px,61.0px 522.1px,59.9px 519.1px,58.9px 516.0px,57.9px 513.0px,56.9px 509.9px,56.0px 506.8px,55.0px 503.7px,54.0px 500.6px,53.1px 497.5px,52.1px 494.5px,51.2px 491.4px,50.2px 488.3px,49.3px 485.2px,48.3px 482.1px,47.4px 479.1px,46.4px 476.0px,45.5px 472.9px,44.6px 469.8px,43.6px 466.8px,42.7px 463.7px,41.8px 460.6px,40.9px 457.5px,39.9px 454.5px,39.0px 451.4px,38.1px 448.3px,37.2px 445.2px,36.3px 442.1px,35.5px 439.0px,34.6px 436.0px,33.7px 432.9px,32.9px 429.8px,32.0px 426.7px,31.2px 423.6px,30.3px 420.5px,29.5px 417.4px,28.7px 414.3px,27.9px 411.2px,27.1px 408.1px,26.3px 404.9px,25.6px 401.8px,24.8px 398.7px,24.1px 395.6px,23.4px 392.4px,22.6px 389.3px,21.9px 386.2px,21.3px 383.0px,20.6px 379.9px,19.9px 376.7px,19.2px 373.6px,18.6px 370.4px,18.0px 367.3px,17.4px 364.1px,16.8px 360.9px,16.2px 357.7px,15.6px 354.6px,15.0px 351.4px,14.5px 348.2px,13.9px 345.0px,13.4px 341.9px,12.9px 338.7px,12.4px 335.5px,11.9px 332.3px,11.4px 329.1px,10.9px 325.9px,10.5px 322.7px,10.1px 319.5px,9.6px 316.3px,9.2px 313.1px,8.8px 309.9px,8.4px 306.7px,8.1px 303.5px,7.7px 300.3px,7.4px 297.1px,7.0px 293.8px,6.7px 290.6px,6.4px 287.4px,6.1px 284.2px,5.8px 281.0px,5.6px 277.8px,5.3px 274.6px,5.1px 271.3px,4.9px 268.1px,4.6px 264.9px,4.4px 261.7px,4.3px 258.4px,4.1px 255.2px,3.9px 252.0px,3.8px 248.8px,3.7px 245.6px,3.6px 242.3px,3.5px 239.1px,3.4px 235.9px,3.3px 232.7px,3.2px 229.4px,3.2px 226.2px,3.2px 223.0px,3.2px 219.8px,3.2px 216.6px,3.2px 213.3px,3.2px 210.1px,3.3px 206.9px,3.3px 203.7px,3.4px 200.5px,3.5px 197.3px,3.6px 194.0px,3.7px 190.8px,3.8px 187.6px,4.0px 184.4px,4.1px 181.2px,4.3px 178.0px,4.5px 174.8px,4.7px 171.6px,4.9px 168.4px,5.2px 165.2px,5.4px 162.0px,5.7px 158.8px,6.0px 155.6px,6.3px 152.4px,6.6px 149.2px,6.9px 146.0px,7.2px 142.9px,7.6px 139.7px,8.0px 136.5px,8.4px 133.3px,8.8px 130.2px,9.2px 127.0px,9.6px 123.8px,10.1px 120.7px,10.6px 117.5px,11.1px 114.3px,11.7px 111.2px,12.3px 108.0px,12.9px 104.9px,13.5px 101.7px,14.2px 98.6px,14.9px 95.5px,15.7px 92.3px,16.5px 89.2px,17.3px 86.1px,18.2px 82.9px,19.1px 79.8px,20.0px 76.7px,21.0px 73.6px,22.0px 70.5px,23.1px 67.4px,24.3px 64.3px,25.4px 61.2px,26.7px 58.1px,28.0px 55.0px,29.3px 52.0px,30.7px 49.0px,32.2px 46.0px,33.7px 43.0px,35.3px 40.1px,36.9px 37.3px,38.7px 34.5px,40.5px 31.8px,42.3px 29.2px,44.2px 26.6px,46.3px 24.2px,48.3px 21.9px,50.5px 19.6px,52.8px 17.6px,55.1px 15.6px,57.5px 13.8px)"><i style="top:3px;left:80px;width:31px;height:3px;background:linear-gradient(90deg,#0000df 0px,#0000dd 2px,#0000e4 3px,#0000db 5px,#0000e1 6px,#0000d9 8px,#0000f3 16px,#0000f5 26px,#0000f4 31px)"></i><i style="top:5px;left:71px;width:51px;height:3px;background:linear-gradient(90deg,#0000db 0px,#0000dd 2px,#0000e2 3px,#0000da 5px,#0000cd 17px,#0000e7 25px,#0000f1 46px,#0000f6 48px,#0000f6 50px,#0000f7 51px)"></i><i style="top:7px;left:66px;width:64px;height:3px;background:linear-gradient(90deg,#0000d6 0px,#0000e3 2px,#0000d7 4px,#0000c3 20px,#0000dc 30px,#0000ee 57px,#0000fa 62px,#0000f0 64px)"></i><i style="top:9px;left:61px;width:75px;height:3px;background:linear-gradient(90deg,#0000d3 0px,#0000dc 2px,#0000d5 3px,#0000d9 5px,#0000b7 21px,#0000d2 36px,#0000ea 65px,#0000f7 74px,#0000f1 75px)"></i><i style="top:11px;left:58px;width:83px;height:3px;background:linear-gradient(90deg,#0000d1 0px,#0000e1 2px,#0000c2 11px,#0000b1 24px,#0000c9 39px,#0000e1 68px,#0000f7 80px,#0000f7 83px)"></i><i style="top:13px;left:55px;width:91px;height:3px;background:linear-gradient(90deg,#0000d3 0px,#0000dd 3px,#0000b6 14px,#0000ac 26px,#0000c2 43px,#0000d9 73px,#0000f9 89px,#0000f5 91px)"></i><i style="top:15px;left:52px;width:99px;height:3px;background:linear-gradient(90deg,#0000d1 0px,#0000dd 3px,#0000b1 15px,#0000a5 27px,#0000bb 46px,#0000d5 79px,#0000f6 95px,#0000f2 99px)"></i><i style="top:17px;left:50px;width:105px;height:3px;background:linear-gradient(90deg,#0000d0 0px,#0000dc 3px,#0000bb 10px,#00009e 25px,#0000b5 50px,#0000cf 83px,#0000f9 103px,#0000f4 105px)"></i><i style="top:19px;left:48px;width:111px;height:3px;background:linear-gradient(90deg,#0000ce 0px,#0000da 3px,#0000b2 12px,#00009d 26px,#0000b1 58px,#0000d1 91px,#0000f7 108px,#0000f5 111px)"></i><i style="top:21px;left:46px;width:116px;height:3px;background:linear-gradient(90deg,#0000cb 0px,#0000db 2px,#0000a8 15px,#00009c 27px,#0000c1 87px,#0000f0 110px,#0000fb 115px,#0000f5 116px)"></i><i style="top:23px;left:44px;width:122px;height:3px;background:linear-gradient(90deg,#0000cb 0px,#0000db 2px,#0000a7 15px,#00009a 26px,#0000b9 88px,#0000e8 112px,#0000fb 120px,#0000f3 122px)"></i><i style="top:25px;left:42px;width:127px;height:3px;background:linear-gradient(90deg,#0000ca 0px,#0000d7 2px,#00009f 18px,#00009a 30px,#0000b3 90px,#0000df 115px,#0000ff 124px,#0000f5 127px)"></i><i style="top:27px;left:41px;width:131px;height:3px;background:linear-gradient(90deg,#0000ce 0px,#0000ca 5px,#00009e 17px,#000098 28px,#0000ad 90px,#0000da 117px,#0000fd 128px,#0000f7 131px)"></i><i style="top:29px;left:39px;width:136px;height:3px;background:linear-gradient(90deg,#0000c9 0px,#0000d3 4px,#0000a6 14px,#000096 25px,#0000a9 93px,#0000d4 120px,#0000fb 133px,#0000f8 136px)"></i><i style="top:31px;left:38px;width:140px;height:3px;background:linear-gradient(90deg,#0000c7 0px,#0000d6 3px,#0000aa 12px,#000094 24px,#0000a9 98px,#0000d6 125px,#0000f9 137px,#0000f7 140px)"></i><i style="top:33px;left:36px;width:145px;height:3px;background:linear-gradient(90deg,#0000c5 0px,#0000d6 3px,#0000a2 15px,#000094 26px,#0000a7 103px,#0000d6 130px,#0000fa 141px,#0000f6 145px)"></i><i style="top:35px;left:35px;width:149px;height:3px;background:linear-gradient(90deg,#0000c7 0px,#0000cd 4px,#00009e 16px,#000093 27px,#0000a8 108px,#0000d6 134px,#0000ff 147px,#0000f4 149px)"></i><i style="top:37px;left:34px;width:152px;height:3px;background:linear-gradient(90deg,#0000c5 0px,#0000d3 3px,#0000a4 13px,#000092 25px,#0000a7 112px,#0000d4 137px,#0000ff 151px,#0000f8 152px)"></i><i style="top:39px;left:33px;width:156px;height:3px;background:linear-gradient(90deg,#0000c6 0px,#0000d6 2px,#00009e 15px,#000091 26px,#0000a6 116px,#0000d5 141px,#0002ff 154px,#0000f6 156px)"></i><i style="top:41px;left:32px;width:160px;height:3px;background:linear-gradient(90deg,#0000c8 0px,#0000ca 3px,#000097 18px,#000094 39px,#0000a6 120px,#0000d6 145px,#0004ff 158px,#0000f9 160px)"></i><i style="top:43px;left:31px;width:163px;height:3px;background:linear-gradient(90deg,#0000c5 0px,#0000cf 3px,#00009f 14px,#000090 26px,#0000a6 124px,#0000d7 149px,#0002ff 160px,#0008ff 161px,#0000fb 163px)"></i><i style="top:45px;left:30px;width:167px;height:3px;background:linear-gradient(90deg,#0000c6 0px,#0000d5 2px,#0000a4 12px,#00008f 25px,#0000a6 128px,#0000d5 152px,#0000ff 163px,#0009ff 165px,#0000fe 167px)"></i><i style="top:47px;left:29px;width:170px;height:3px;background:linear-gradient(90deg,#0000c6 0px,#0000c9 3px,#000097 17px,#000090 31px,#0000a4 131px,#0000d1 154px,#0000fe 166px,#000eff 168px,#0000ff 170px)"></i><i style="top:49px;left:28px;width:174px;height:3px;background:linear-gradient(90deg,#0000c3 0px,#0000c9 4px,#00009d 14px,#00008e 27px,#0000a3 134px,#0000d1 157px,#0001ff 169px,#000eff 172px,#0003ff 174px)"></i><i style="top:51px;left:27px;width:177px;height:3px;background:linear-gradient(90deg,#0000c3 0px,#0000d2 2px,#0000a0 13px,#00008d 27px,#0000a3 138px,#0000d0 160px,#0003ff 172px,#0013ff 175px,#0005ff 177px)"></i><i style="top:53px;left:26px;width:181px;height:3px;background:linear-gradient(90deg,#0000c3 0px,#0000c8 3px,#000096 17px,#00008e 32px,#0000a3 141px,#0000d0 163px,#0004ff 175px,#0012ff 179px,#0007ff 181px)"></i><i style="top:55px;left:25px;width:184px;height:3px;background:linear-gradient(90deg,#0000bf 0px,#0000c9 4px,#00009d 14px,#00008c 28px,#0000a2 144px,#0000d0 166px,#0005ff 178px,#0017ff 182px,#0009ff 184px)"></i><i style="top:57px;left:24px;width:187px;height:3px;background:linear-gradient(90deg,#0000bf 0px,#0000d0 3px,#0000a3 12px,#00008c 27px,#0000a2 146px,#0000ca 167px,#0006ff 181px,#0019ff 185px,#000dff 187px)"></i><i style="top:59px;left:23px;width:190px;height:3px;background:linear-gradient(90deg,#0000be 0px,#0000c7 3px,#000094 18px,#00008c 34px,#0000a1 148px,#0000c6 169px,#0000ff 183px,#001aff 189px,#0013ff 190px)"></i><i style="top:61px;left:23px;width:193px;height:3px;background:linear-gradient(90deg,#0000bf 0px,#0000ca 3px,#00009e 13px,#00008b 28px,#0000a0 148px,#0000bc 167px,#0000fa 184px,#001dff 191px,#0010ff 193px)"></i><i style="top:63px;left:22px;width:196px;height:3px;background:linear-gradient(90deg,#0000c0 0px,#0000ce 2px,#000099 15px,#00008b 30px,#0000a0 150px,#0000b7 168px,#0000f2 185px,#0007ff 189px,#001eff 194px,#0014ff 196px)"></i><i style="top:65px;left:21px;width:199px;height:3px;background:linear-gradient(90deg,#0000be 0px,#0000c3 4px,#000095 17px,#00008a 32px,#00009f 152px,#0000b5 170px,#0000ed 187px,#0008ff 192px,#001bff 195px,#0018ff 199px)"></i><i style="top:67px;left:20px;width:202px;height:3px;background:linear-gradient(90deg,#0000ba 0px,#0000cb 3px,#00009c 14px,#00008a 30px,#00009e 153px,#0000b1 171px,#0000e6 188px,#0005ff 194px,#001fff 199px,#001bff 202px)"></i><i style="top:69px;left:20px;width:204px;height:3px;background:linear-gradient(90deg,#0000c0 0px,#0000cc 2px,#000097 15px,#00008a 31px,#00009e 154px,#0000b1 173px,#0000e6 190px,#0007ff 196px,#0025ff 201px,#001eff 204px)"></i><i style="top:71px;left:19px;width:207px;height:3px;background:linear-gradient(90deg,#0000bd 0px,#0000c2 4px,#000096 16px,#000089 32px,#00009d 156px,#0000af 175px,#0000e7 193px,#0009ff 199px,#002aff 204px,#001fff 207px)"></i><i style="top:73px;left:18px;width:210px;height:3px;background:linear-gradient(90deg,#0000ba 0px,#0000cc 3px,#00009e 13px,#000088 29px,#00009c 157px,#0000af 178px,#0000e9 196px,#0004ff 201px,#002eff 207px,#0020ff 210px)"></i><i style="top:75px;left:18px;width:212px;height:3px;background:linear-gradient(90deg,#0000bf 0px,#0000c5 3px,#000095 16px,#000089 33px,#00009c 159px,#0000ad 179px,#0000e5 197px,#0006ff 203px,#0030ff 210px,#0021ff 212px)"></i><i style="top:77px;left:17px;width:215px;height:3px;background:linear-gradient(90deg,#0000bb 0px,#0000c2 4px,#000095 16px,#000088 33px,#00009b 160px,#0000ae 182px,#0000e7 200px,#0007ff 206px,#0034ff 213px,#0026ff 215px)"></i><i style="top:79px;left:17px;width:217px;height:3px;background:linear-gradient(90deg,#0000bf 0px,#0000cc 2px,#00009d 12px,#000088 29px,#00009b 160px,#0000ac 183px,#0000df 200px,#0004ff 207px,#003bff 215px,#002bff 217px)"></i><i style="top:81px;left:16px;width:220px;height:3px;background:linear-gradient(90deg,#0000bd 0px,#0000c4 3px,#000094 16px,#000088 34px,#00009b 163px,#0000ad 186px,#0000e1 203px,#0002ff 209px,#0040ff 218px,#0033ff 220px)"></i><i style="top:83px;left:15px;width:222px;height:3px;background:linear-gradient(90deg,#0000b8 0px,#0000c3 4px,#000097 15px,#000087 33px,#00009a 165px,#0000ad 189px,#0000e3 206px,#0003ff 211px,#0041ff 219px,#0043ff 222px)"></i><i style="top:85px;left:15px;width:224px;height:3px;background:linear-gradient(90deg,#0000bd 0px,#0000ca 2px,#00009b 13px,#000087 31px,#000099 165px,#0000ac 190px,#0000da 205px,#0003ff 212px,#004fff 221px,#0048ff 224px)"></i><i style="top:87px;left:14px;width:227px;height:3px;background:linear-gradient(90deg,#0000ba 0px,#0000c3 3px,#000093 17px,#000087 37px,#00009a 168px,#0000ac 193px,#0000da 207px,#0003ff 214px,#0045ff 222px,#005cff 224px,#004dff 227px)"></i><i style="top:89px;left:14px;width:229px;height:3px;background:linear-gradient(90deg,#0000ba 0px,#0000c5 3px,#000098 14px,#000086 33px,#000099 168px,#0000ab 194px,#0000df 209px,#0003ff 215px,#004dff 224px,#0065ff 226px,#0051ff 229px)"></i><i style="top:91px;left:13px;width:231px;height:3px;background:linear-gradient(90deg,#0000b9 0px,#0000c8 3px,#00009c 13px,#000086 31px,#000098 170px,#0000ab 196px,#0000e4 212px,#0004ff 217px,#006aff 229px,#005cff 231px)"></i><i style="top:93px;left:13px;width:233px;height:3px;background:linear-gradient(90deg,#0000ba 0px,#0000bd 4px,#000091 17px,#000086 38px,#000099 173px,#0000ab 197px,#0000e5 213px,#0004ff 218px,#0052ff 227px,#006eff 231px,#0063ff 233px)"></i><i style="top:95px;left:12px;width:235px;height:3px;background:linear-gradient(90deg,#0000b7 0px,#0000c7 3px,#000099 14px,#000086 33px,#000098 173px,#0000a9 198px,#0000e0 214px,#0004ff 220px,#0051ff 229px,#0071ff 232px,#006fff 235px)"></i><i style="top:97px;left:12px;width:237px;height:3px;background:linear-gradient(90deg,#0000bb 0px,#0000c3 3px,#000097 14px,#000085 34px,#000098 174px,#0000a9 199px,#0000e0 215px,#0005ff 221px,#005cff 231px,#0081ff 234px,#0072ff 237px)"></i><i style="top:99px;left:11px;width:240px;height:3px;background:linear-gradient(90deg,#0000b6 0px,#0000bf 4px,#000092 17px,#000085 39px,#000098 177px,#0000aa 201px,#0000e1 217px,#0006ff 223px,#0065ff 234px,#008eff 237px,#0074ff 240px)"></i><i style="top:101px;left:11px;width:241px;height:3px;background:linear-gradient(90deg,#0000b9 0px,#0000c6 3px,#00009a 13px,#000085 33px,#000097 177px,#0000a8 201px,#0000dd 217px,#0006ff 224px,#0054ff 233px,#0092ff 239px,#0080ff 241px)"></i><i style="top:103px;left:11px;width:243px;height:3px;background:linear-gradient(90deg,#0000bb 0px,#0000bf 3px,#000092 16px,#000085 38px,#000097 179px,#0000a8 202px,#0000dd 218px,#0007ff 225px,#0060ff 235px,#009cff 241px,#008cff 243px)"></i><i style="top:105px;left:10px;width:245px;height:3px;background:linear-gradient(90deg,#0000b5 0px,#0000be 4px,#000093 16px,#000085 38px,#000097 181px,#0000a9 204px,#0000de 220px,#0008ff 227px,#004fff 235px,#00a4ff 242px,#00a1ff 245px)"></i><i style="top:107px;left:10px;width:247px;height:3px;background:linear-gradient(90deg,#0000b9 0px,#0000c6 2px,#000096 14px,#000084 35px,#000096 181px,#0000a7 204px,#0000df 221px,#0004ff 227px,#005fff 237px,#00c2ff 244px,#00b2ff 245px,#00aaff 247px)"></i><i style="top:109px;left:9px;width:249px;height:3px;background:linear-gradient(90deg,#0000b5 0px,#0000bc 4px,#000090 18px,#000084 43px,#000097 185px,#0000a8 206px,#0000dd 222px,#0008ff 229px,#0067ff 239px,#00caff 246px,#00d0ff 247px,#00b6ff 249px)"></i><i style="top:111px;left:9px;width:250px;height:3px;background:linear-gradient(90deg,#0000b6 0px,#0000c2 3px,#000094 15px,#000084 38px,#000096 184px,#0000a6 206px,#0000db 222px,#0005ff 229px,#0056ff 238px,#00d8ff 248px,#00d8ff 249px,#00cdff 250px)"></i><i style="top:113px;left:9px;width:252px;height:3px;background:linear-gradient(90deg,#0000b9 0px,#0000c5 2px,#000098 13px,#000084 34px,#000095 184px,#0000a6 206px,#0000d9 222px,#0003ff 229px,#005cff 239px,#00dbff 248px,#00dfff 251px,#00d5ff 252px)"></i><i style="top:115px;left:8px;width:254px;height:3px;background:linear-gradient(90deg,#0000b4 0px,#0000bb 4px,#00008f 18px,#000084 45px,#000096 189px,#0000a7 208px,#0000dc 224px,#0006ff 231px,#0062ff 241px,#00c5ff 248px,#00fcff 251px,#00e2ff 254px)"></i><i style="top:117px;left:8px;width:255px;height:3px;background:linear-gradient(90deg,#0000b6 0px,#0000c2 3px,#000096 14px,#000084 36px,#000095 187px,#0000a6 208px,#0000da 224px,#0004ff 231px,#005eff 241px,#00daff 250px,#00ffff 252px,#0efff1 253px,#02fffd 254px,#00eeff 255px)"></i><i style="top:119px;left:8px;width:257px;height:3px;background:linear-gradient(90deg,#0000b9 0px,#0000bf 3px,#000095 14px,#000083 36px,#000095 188px,#0000a6 208px,#0000d9 224px,#0008ff 232px,#0063ff 242px,#00fdff 253px,#11ffee 255px,#00f5ff 257px)"></i><i style="top:121px;left:7px;width:259px;height:3px;background:linear-gradient(90deg,#0000b3 0px,#0000bc 4px,#000091 17px,#000083 43px,#000095 191px,#0000a8 210px,#0000dc 226px,#0006ff 233px,#005eff 243px,#00bbff 250px,#01fffe 254px,#17ffe8 256px,#09fff6 259px)"></i><i style="top:123px;left:7px;width:260px;height:3px;background:linear-gradient(90deg,#0000b6 0px,#0000c4 3px,#000099 13px,#000083 35px,#000094 190px,#0000aa 211px,#0000e0 227px,#0003ff 233px,#005aff 243px,#00d1ff 252px,#00f5ff 254px,#1dffe2 256px,#32ffcd 257px,#30ffcf 258px,#1bffe4 259px,#13ffec 260px)"></i><i style="top:125px;left:7px;width:261px;height:3px;background:linear-gradient(90deg,#0000b7 0px,#0000be 3px,#000094 15px,#000083 39px,#000094 192px,#0000b1 214px,#0000e9 229px,#0008ff 234px,#0060ff 244px,#00daff 253px,#00f9ff 255px,#40ffbf 259px,#23ffdc 261px)"></i><i style="top:127px;left:7px;width:262px;height:3px;background:linear-gradient(90deg,#0000b7 0px,#0000be 3px,#000093 15px,#000083 40px,#000094 193px,#0000b6 216px,#0000f3 231px,#0006ff 234px,#005bff 244px,#00c4ff 252px,#00f6ff 255px,#1affe5 257px,#3effc1 260px,#41ffbe 261px,#36ffc9 262px)"></i><i style="top:129px;left:6px;width:264px;height:3px;background:linear-gradient(90deg,#0000b5 0px,#0000c5 3px,#000099 13px,#000083 35px,#000094 193px,#0000ba 218px,#0000f2 232px,#000bff 236px,#0062ff 246px,#00cbff 254px,#00ffff 257px,#4effb1 261px,#53ffac 262px,#44ffbb 263px,#42ffbd 264px)"></i><i style="top:131px;left:6px;width:266px;height:3px;background:linear-gradient(90deg,#0000b6 0px,#0000bd 3px,#000090 17px,#000083 45px,#000094 193px,#0000ba 218px,#0000f6 233px,#0010ff 237px,#0069ff 247px,#00e4ff 256px,#08fff7 258px,#6fff90 263px,#65ff9a 264px,#45ffba 266px)"></i><i style="top:133px;left:6px;width:267px;height:3px;background:linear-gradient(90deg,#0000b7 0px,#0000c0 3px,#000095 14px,#000082 38px,#000092 191px,#0000b8 217px,#0000f1 232px,#0009ff 236px,#005cff 246px,#00d0ff 255px,#03fffc 258px,#71ff8e 264px,#76ff89 265px,#58ffa7 267px)"></i><i style="top:135px;left:6px;width:268px;height:3px;background:linear-gradient(90deg,#0000ba 0px,#0000c3 2px,#000095 14px,#000082 38px,#000093 191px,#0000bc 218px,#0000f6 233px,#0010ff 237px,#0065ff 247px,#00cdff 255px,#00ffff 258px,#74ff8b 264px,#78ff87 267px,#6dff92 268px)"></i><i style="top:137px;left:5px;width:270px;height:3px;background:linear-gradient(90deg,#0000b4 0px,#0000bb 4px,#000091 17px,#000082 45px,#000092 191px,#0000ba 218px,#0000f7 234px,#0017ff 239px,#006eff 249px,#00d8ff 257px,#00f9ff 259px,#47ffb8 263px,#a2ff5d 267px,#99ff66 268px,#81ff7e 269px,#79ff86 270px)"></i><i style="top:139px;left:5px;width:271px;height:3px;background:linear-gradient(90deg,#0000b6 0px,#0000c3 3px,#000096 14px,#000082 38px,#000092 190px,#0000b8 217px,#0000f2 233px,#000aff 237px,#0062ff 248px,#00d5ff 257px,#07fff8 260px,#a7ff58 268px,#aeff51 269px,#89ff76 271px)"></i><i style="top:141px;left:5px;width:272px;height:3px;background:linear-gradient(90deg,#0000b8 0px,#0000bf 3px,#000093 15px,#000082 41px,#000092 190px,#0000b9 217px,#0000f2 233px,#000aff 237px,#0062ff 248px,#00d3ff 257px,#04fffb 260px,#9fff60 268px,#b1ff4e 270px,#9fff60 272px)"></i><i style="top:143px;left:5px;width:273px;height:3px;background:linear-gradient(90deg,#0000b7 0px,#0000be 3px,#000091 16px,#000082 44px,#000091 189px,#0000ba 217px,#0000f8 234px,#001eff 240px,#0076ff 250px,#00efff 259px,#00ffff 260px,#8cff73 267px,#d3ff2c 270px,#abff54 273px)"></i><i style="top:145px;left:4px;width:275px;height:3px;background:linear-gradient(90deg,#0000b5 0px,#0000c6 3px,#000099 13px,#000082 35px,#000090 188px,#0000b8 217px,#0000f4 234px,#000bff 238px,#0060ff 249px,#00cdff 258px,#00fbff 261px,#58ffa7 266px,#dfff20 272px,#e4ff1b 273px,#b7ff48 275px)"></i><i style="top:147px;left:4px;width:276px;height:3px;background:linear-gradient(90deg,#0000b5 0px,#0000be 3px,#000090 17px,#000082 46px,#000091 189px,#0000b8 217px,#0000f4 234px,#000bff 238px,#0060ff 249px,#00cbff 258px,#00f9ff 261px,#55ffaa 266px,#ceff31 272px,#e7ff18 274px,#ceff31 276px)"></i><i style="top:149px;left:4px;width:277px;height:3px;background:linear-gradient(90deg,#0000b6 0px,#0000c1 3px,#000094 15px,#000082 41px,#000090 188px,#0000b6 216px,#0000f0 233px,#0006ff 237px,#0060ff 249px,#00c9ff 258px,#00f7ff 261px,#19ffe6 263px,#a8ff57 270px,#f2ff0d 273px,#fffa00 274px,#d4ff2b 277px)"></i><i style="top:151px;left:4px;width:278px;height:3px;background:linear-gradient(90deg,#0000b8 0px,#0000c1 3px,#000095 14px,#000082 39px,#000090 188px,#0000b6 216px,#0000f5 234px,#000bff 238px,#005fff 249px,#00c7ff 258px,#04fffb 262px,#9bff64 270px,#fdff02 274px,#ffea00 275px,#f5ff0a 277px,#dbff24 278px)"></i><i style="top:153px;left:4px;width:279px;height:3px;background:linear-gradient(90deg,#0000b7 0px,#0000b8 4px,#00008f 17px,#000082 48px,#000091 188px,#0000b6 216px,#0000f5 234px,#000bff 238px,#0067ff 250px,#00d1ff 259px,#00ffff 262px,#97ff68 270px,#edff12 274px,#fff500 276px,#fff300 277px,#feff01 278px,#eaff15 279px)"></i><i style="top:155px;left:3px;width:280px;height:3px;background:linear-gradient(90deg,#0000b4 0px,#0000c4 3px,#000097 14px,#000082 38px,#00008f 187px,#0000b4 216px,#0000ef 234px,#0005ff 238px,#005cff 250px,#00cdff 260px,#00f9ff 263px,#3cffc3 267px,#d2ff2d 274px,#fffa00 276px,#ffe100 277px,#ffdc00 278px,#fcff03 280px)"></i><i style="top:157px;left:3px;width:281px;height:3px;background:linear-gradient(90deg,#0000b5 0px,#0000c1 3px,#000094 15px,#000081 41px,#00008f 187px,#0000b4 216px,#0000ef 234px,#0009ff 239px,#0062ff 251px,#00d6ff 261px,#04fffb 264px,#abff54 273px,#f4ff0b 276px,#ffd500 278px,#ffc500 279px,#fff400 281px)"></i><i style="top:159px;left:3px;width:282px;height:3px;background:linear-gradient(90deg,#0000b5 0px,#0000bb 4px,#000092 16px,#000081 44px,#000090 187px,#0000b6 217px,#0000f2 235px,#000eff 240px,#0069ff 252px,#00dfff 262px,#00fdff 264px,#7cff83 271px,#fffd00 277px,#ffd100 280px,#ffd700 281px,#ffe900 282px)"></i><i style="top:161px;left:3px;width:283px;height:3px;background:linear-gradient(90deg,#0000b7 0px,#0000c3 3px,#000098 13px,#000082 36px,#00008f 185px,#0000b4 216px,#0000ed 234px,#0007ff 239px,#005dff 251px,#00cdff 261px,#00f8ff 264px,#29ffd6 267px,#b4ff4b 274px,#fdff02 277px,#ffb900 280px,#ffc500 281px,#ffdf00 282px,#ffea00 283px)"></i><i style="top:163px;left:3px;width:284px;height:3px;background:linear-gradient(90deg,#0000b7 0px,#0000bd 3px,#000091 16px,#000081 45px,#00008f 186px,#0000b4 216px,#0000f1 235px,#0006ff 239px,#005bff 251px,#00c9ff 261px,#04fffb 265px,#94ff6b 273px,#efff10 277px,#fff600 278px,#ffa700 281px,#ffad00 282px,#ffe300 284px)"></i><i style="top:165px;left:3px;width:284px;height:3px;background:linear-gradient(90deg,#0000b8 0px,#0000bf 3px,#000093 15px,#000081 42px,#00008f 185px,#0000b4 216px,#0000f0 235px,#0005ff 239px,#0062ff 252px,#00d2ff 262px,#00fdff 265px,#7aff85 272px,#fffe00 278px,#ffc300 281px,#ffb300 282px,#ffb300 283px,#ffc200 284px)"></i><i style="top:167px;left:2px;width:286px;height:3px;background:linear-gradient(90deg,#0000b4 0px,#0000c4 3px,#000097 14px,#000082 38px,#00008e 184px,#0000b2 216px,#0000eb 235px,#0004ff 240px,#0060ff 253px,#00ceff 263px,#00f9ff 266px,#3affc5 270px,#c9ff36 277px,#faff05 279px,#ff9b00 283px,#ff9b00 284px,#ffc800 286px)"></i><i style="top:169px;left:2px;width:287px;height:3px;background:linear-gradient(90deg,#0000b3 0px,#0000ba 4px,#000091 17px,#000081 48px,#00008f 185px,#0000b4 217px,#0000ef 236px,#0009ff 241px,#005eff 253px,#00cbff 263px,#05fffa 267px,#95ff6a 275px,#fff800 280px,#ff8e00 284px,#ff8700 285px,#ffbb00 287px)"></i><i style="top:171px;left:2px;width:288px;height:3px;background:linear-gradient(90deg,#0000b6 0px,#0000c3 3px,#000096 14px,#000082 38px,#00008e 183px,#0000b2 216px,#0000eb 235px,#0009ff 241px,#0065ff 254px,#00d5ff 264px,#01fffe 267px,#8fff70 275px,#fffe00 280px,#ffa500 284px,#ff9400 286px,#ffb500 288px)"></i><i style="top:173px;left:2px;width:288px;height:3px;background:linear-gradient(90deg,#0000b6 0px,#0000c0 3px,#000094 15px,#000081 42px,#00008e 183px,#0000b2 216px,#0000ea 235px,#0008ff 241px,#0063ff 254px,#00d1ff 264px,#00fbff 267px,#61ff9e 273px,#f9ff06 280px,#ff9a00 284px,#ff7e00 285px,#ff7300 286px,#ffa800 288px)"></i><i style="top:175px;left:2px;width:289px;height:3px;background:linear-gradient(90deg,#0000b5 0px,#0000be 3px,#000092 16px,#000081 45px,#00008e 182px,#0000b2 216px,#0000ee 236px,#0008ff 241px,#0062ff 254px,#00cfff 264px,#00f8ff 267px,#39ffc6 271px,#d7ff28 279px,#fff800 281px,#ff7300 286px,#ff6800 287px,#ff9800 289px)"></i><i style="top:177px;left:2px;width:290px;height:3px;background:linear-gradient(90deg,#0000b8 0px,#0000c2 3px,#000098 13px,#000082 36px,#00008d 180px,#0000b1 215px,#0000ea 235px,#0007ff 241px,#0061ff 254px,#00ccff 264px,#05fffa 268px,#92ff6d 276px,#fffb00 281px,#ff8300 286px,#ff7800 288px,#ff9700 290px)"></i><i style="top:179px;left:2px;width:290px;height:3px;background:linear-gradient(90deg,#0000b7 0px,#0000bd 3px,#000091 16px,#000081 46px,#00008e 181px,#0000b1 215px,#0000ea 235px,#0007ff 241px,#005fff 254px,#00c9ff 264px,#01fffe 268px,#8cff73 276px,#fcff03 281px,#ff7b00 286px,#ff5e00 287px,#ff4c00 288px,#ff8600 290px)"></i><i style="top:181px;left:2px;width:291px;height:3px;background:linear-gradient(90deg,#0000b8 0px,#0000bf 3px,#000093 15px,#000081 43px,#00008d 180px,#0000b2 215px,#0000ea 235px,#0007ff 241px,#005fff 254px,#00c7ff 264px,#00feff 268px,#88ff77 276px,#f3ff0c 281px,#fff400 282px,#ff5700 288px,#ff4d00 289px,#ff7a00 291px)"></i><i style="top:183px;left:1px;width:293px;height:3px;background:linear-gradient(90deg,#0000b4 0px,#0000c4 3px,#000097 14px,#000082 38px,#00008d 179px,#0000ae 214px,#0000e7 235px,#0007ff 242px,#005eff 255px,#00c5ff 265px,#00fbff 269px,#71ff8e 276px,#f0ff0f 282px,#fff600 283px,#ff5e00 289px,#ff5700 290px,#ff6900 292px,#ff7c00 293px)"></i><i style="top:185px;left:1px;width:293px;height:3px;background:linear-gradient(90deg,#0000b3 0px,#0000ba 4px,#000091 17px,#000081 48px,#00008d 179px,#0000af 214px,#0000e7 235px,#0007ff 242px,#005dff 255px,#00d0ff 266px,#08fff7 270px,#93ff6c 278px,#fffd00 283px,#ff5900 289px,#ff3900 290px,#ff2800 291px,#ff6700 293px)"></i><i style="top:187px;left:1px;width:294px;height:3px;background:linear-gradient(90deg,#0000b5 0px,#0000c4 3px,#000097 14px,#000082 38px,#00008c 177px,#0000af 214px,#0000e7 235px,#0007ff 242px,#005dff 255px,#00cfff 266px,#06fff9 270px,#8fff70 278px,#fbff04 283px,#ff8600 288px,#ff3900 291px,#ff3400 292px,#ff6000 294px)"></i><i style="top:189px;left:1px;width:294px;height:3px;background:linear-gradient(90deg,#0000b5 0px,#0000c1 3px,#000094 15px,#000081 42px,#00008d 177px,#0000af 214px,#0000e7 235px,#0007ff 242px,#005dff 255px,#00ceff 266px,#05fffa 270px,#8dff72 278px,#f9ff06 283px,#ffbb00 286px,#ff3500 291px,#ff3000 292px,#ff5400 294px)"></i><i style="top:191px;left:1px;width:295px;height:3px;background:linear-gradient(90deg,#0000b5 0px,#0000bb 4px,#000092 16px,#000080 46px,#00008d 177px,#0000af 214px,#0000e8 235px,#0008ff 242px,#005cff 255px,#00ccff 266px,#02fffd 270px,#87ff78 278px,#f2ff0d 283px,#fff500 284px,#ff5200 290px,#ff1500 292px,#ff1100 293px,#ff4f00 295px)"></i><i style="top:193px;left:1px;width:296px;height:3px;background:linear-gradient(90deg,#0000b7 0px,#0000c4 3px,#000098 13px,#000082 35px,#00008b 173px,#0000ac 212px,#0000e4 234px,#0007ff 242px,#0064ff 256px,#00d7ff 267px,#01fffe 270px,#85ff7a 278px,#fff900 284px,#ff3400 292px,#ff2400 293px,#ff2600 294px,#ff5200 296px)"></i><i style="top:195px;left:1px;width:296px;height:3px;background:linear-gradient(90deg,#0000b5 0px,#0000be 3px,#000092 16px,#000080 46px,#00008c 175px,#0000af 213px,#0000e8 235px,#0007ff 242px,#0063ff 256px,#00d5ff 267px,#00fcff 270px,#6eff91 277px,#ffff00 284px,#ff4500 291px,#ff0f00 293px,#ff1200 294px,#ff4b00 296px)"></i><i style="top:197px;left:1px;width:297px;height:3px;background:linear-gradient(90deg,#0000b6 0px,#0000c1 3px,#000094 15px,#000081 42px,#00008c 174px,#0000af 213px,#0000e8 235px,#0008ff 242px,#0062ff 256px,#00d3ff 267px,#00fbff 270px,#6aff95 277px,#f7ff08 284px,#ffd800 286px,#fb0000 294px,#ff0900 295px,#ff4400 297px)"></i><i style="top:199px;left:1px;width:297px;height:3px;background:linear-gradient(90deg,#0000b7 0px,#0000c2 3px,#000096 14px,#000081 39px,#00008c 172px,#0000ae 212px,#0000e5 234px,#0008ff 242px,#0062ff 256px,#00d1ff 267px,#08fff7 271px,#8cff73 279px,#f4ff0b 284px,#ffdb00 286px,#ff2800 293px,#ff1500 295px,#ff3300 297px)"></i><i style="top:201px;left:1px;width:298px;height:3px;background:linear-gradient(90deg,#0000b5 0px,#0000b9 4px,#000090 17px,#000080 51px,#00008d 175px,#0000b0 213px,#0000e9 235px,#0008ff 242px,#0061ff 256px,#00d0ff 267px,#05fffa 271px,#88ff77 279px,#fff800 285px,#ff3e00 292px,#ff0100 294px,#e90000 295px,#ff0200 296px,#ff4000 298px)"></i><i style="top:203px;left:1px;width:298px;height:3px;background:linear-gradient(90deg,#0000b8 0px,#0000c2 3px,#000095 14px,#000081 39px,#00008c 171px,#0000af 212px,#0000e6 234px,#0003ff 241px,#0059ff 255px,#00c3ff 266px,#04fffb 271px,#98ff67 280px,#fffe00 285px,#ff4b00 292px,#ff1100 294px,#f70000 295px,#f00000 296px,#ff0600 297px,#ff2200 298px)"></i><i style="top:205px;left:1px;width:298px;height:3px;background:linear-gradient(90deg,#0000b7 0px,#0000bf 3px,#000093 15px,#000081 43px,#00008c 172px,#0000af 212px,#0000ea 235px,#0004ff 241px,#0059ff 255px,#00c2ff 266px,#02fffd 271px,#95ff6a 280px,#feff01 285px,#ff4d00 292px,#ff0000 295px,#ff0c00 297px,#ff1b00 298px)"></i><i style="top:207px;left:1px;width:299px;height:3px;background:linear-gradient(90deg,#0000b7 0px,#0000be 3px,#000093 15px,#000081 43px,#00008c 172px,#0000b0 212px,#0000e7 234px,#0005ff 241px,#0059ff 255px,#00c1ff 266px,#01fffe 271px,#92ff6d 280px,#f9ff06 285px,#ffa400 289px,#ff1600 294px,#f50000 295px,#d40000 296px,#db0000 297px,#fb0000 298px,#ff1c00 299px)"></i><i style="top:209px;left:1px;width:299px;height:3px;background:linear-gradient(90deg,#0000b9 0px,#0000c5 2px,#000095 14px,#000081 39px,#00008c 170px,#0000af 211px,#0000e7 234px,#0005ff 241px,#005aff 255px,#00c1ff 266px,#00ffff 271px,#90ff6f 280px,#f6ff09 285px,#ffdb00 287px,#ff0a00 295px,#e40000 297px,#ff0700 299px)"></i><i style="top:211px;left:1px;width:300px;height:3px;background:linear-gradient(90deg,#0000b7 0px,#0000bc 3px,#000091 16px,#000080 48px,#00008d 173px,#0000b1 212px,#0000e8 234px,#0006ff 241px,#0062ff 256px,#00ccff 267px,#00ffff 271px,#8fff70 280px,#f4ff0b 285px,#ffdc00 287px,#ff2200 294px,#ff0400 295px,#d60000 297px,#e40000 298px,#ff0100 299px,#ff1d00 300px)"></i><i style="top:213px;left:1px;width:300px;height:3px;background:linear-gradient(90deg,#0000b8 0px,#0000c0 3px,#000095 14px,#000081 39px,#00008c 170px,#0000ae 210px,#0000e5 233px,#0006ff 241px,#005aff 255px,#00ccff 267px,#00feff 271px,#7aff85 279px,#f0ff0f 285px,#fff700 286px,#ff4500 293px,#ff0900 295px,#cb0000 297px,#c20000 298px,#fd0000 300px)"></i><i style="top:215px;left:1px;width:300px;height:3px;background:linear-gradient(90deg,#0000b8 0px,#0000c0 3px,#000095 14px,#000081 39px,#00008c 170px,#0000af 210px,#0000e9 234px,#0007ff 241px,#005bff 255px,#00c0ff 266px,#00fdff 271px,#79ff86 279px,#fffa00 286px,#ff3000 294px,#fc0000 296px,#dd0000 298px,#e20000 299px,#f50000 300px)"></i><i style="top:217px;left:1px;width:301px;height:3px;background:linear-gradient(90deg,#0000b6 0px,#0000bc 3px,#000091 16px,#000080 48px,#00008d 172px,#0000b1 211px,#0000ea 234px,#0008ff 241px,#0063ff 256px,#00ccff 267px,#00fdff 271px,#78ff87 279px,#fffc00 286px,#ff4c00 293px,#ff1200 295px,#f20000 296px,#b70000 298px,#c30000 299px,#ff0200 301px)"></i><i style="top:219px;left:1px;width:301px;height:3px;background:linear-gradient(90deg,#0000b9 0px,#0000c5 2px,#000095 14px,#000081 39px,#00008b 169px,#0000ae 209px,#0000e7 233px,#0004ff 240px,#005cff 255px,#00ccff 267px,#00fcff 271px,#76ff89 279px,#feff01 286px,#ff5400 293px,#fd0000 296px,#c40000 298px,#bb0000 299px,#eb0000 301px)"></i><i style="top:221px;left:1px;width:301px;height:3px;background:linear-gradient(90deg,#0000b8 0px,#0000be 3px,#000093 15px,#000081 43px,#00008c 171px,#0000b0 210px,#0000e8 233px,#0005ff 240px,#005cff 255px,#00cbff 267px,#00fcff 271px,#75ff8a 279px,#fdff02 286px,#ff5600 293px,#ff0100 296px,#ce0000 298px,#c60000 299px,#eb0000 301px)"></i><i style="top:223px;left:1px;width:302px;height:3px;background:linear-gradient(90deg,#0000b8 0px,#0000be 3px,#000093 15px,#000081 43px,#00008c 171px,#0000b0 210px,#0000e8 233px,#0005ff 240px,#005dff 255px,#00ccff 267px,#00fdff 271px,#75ff8a 279px,#fcff03 286px,#ff7200 292px,#ff0100 296px,#9f0000 299px,#ad0000 300px,#ed0000 302px)"></i><i style="top:225px;left:1px;width:302px;height:3px;background:linear-gradient(90deg,#0000b9 0px,#0000c5 2px,#000095 14px,#000081 39px,#00008c 169px,#0000ae 209px,#0000e9 233px,#0006ff 240px,#005eff 255px,#00cdff 267px,#00fdff 271px,#74ff8b 279px,#f9ff06 286px,#ffab00 290px,#ff0c00 296px,#d30000 298px,#bd0000 299px,#b60000 300px,#e00000 302px)"></i><i style="top:227px;left:1px;width:302px;height:3px;background:linear-gradient(90deg,#0000b6 0px,#0000b8 4px,#00008f 17px,#000080 52px,#00008d 173px,#0000b2 211px,#0000ec 234px,#0006ff 240px,#005eff 255px,#00cdff 267px,#00fdff 271px,#74ff8b 279px,#f9ff06 286px,#ffa900 290px,#ff0800 296px,#b00000 299px,#a70000 300px,#d90000 302px)"></i><i style="top:229px;left:1px;width:303px;height:3px;background:linear-gradient(90deg,#0000b8 0px,#0000c0 3px,#000095 14px,#000081 39px,#00008c 169px,#0000ae 209px,#0000e9 233px,#0006ff 240px,#005dff 255px,#00ccff 267px,#00fcff 271px,#72ff8d 279px,#f7ff08 286px,#ffdb00 288px,#ff2800 295px,#ff0b00 296px,#cd0000 298px,#940000 300px,#a20000 301px,#e00000 303px)"></i><i style="top:231px;left:1px;width:303px;height:3px;background:linear-gradient(90deg,#0000b8 0px,#0000c0 3px,#000095 14px,#000081 39px,#00008c 169px,#0000ae 209px,#0000e8 233px,#0005ff 240px,#005dff 255px,#00cbff 267px,#00fbff 271px,#61ff9e 278px,#f5ff0a 286px,#ffdd00 288px,#ff1200 296px,#f60000 297px,#c40000 299px,#b70000 300px,#ca0000 302px,#e20000 303px)"></i><i style="top:233px;left:1px;width:303px;height:3px;background:linear-gradient(90deg,#0000b6 0px,#0000bd 3px,#000091 16px,#000080 47px,#00008d 172px,#0000b1 211px,#0000ec 234px,#0005ff 240px,#005cff 255px,#00caff 267px,#07fff8 272px,#8fff70 281px,#fffa00 287px,#ff4e00 294px,#ff1500 296px,#f60000 297px,#980000 300px,#930000 301px,#d20000 303px)"></i><i style="top:235px;left:1px;width:303px;height:3px;background:linear-gradient(90deg,#0000b8 0px,#0000c2 3px,#000098 13px,#000082 36px,#00008b 168px,#0000ae 209px,#0000e8 233px,#0004ff 240px,#005bff 255px,#00c7ff 267px,#03fffc 272px,#8bff74 281px,#fffe00 287px,#ff3f00 295px,#ff0700 297px,#b00000 300px,#a30000 301px,#cf0000 303px)"></i><i style="top:237px;left:1px;width:304px;height:3px;background:linear-gradient(90deg,#0000b6 0px,#0000bf 3px,#000092 16px,#000080 46px,#00008d 172px,#0000b1 211px,#0000eb 234px,#0008ff 241px,#0060ff 256px,#00ceff 268px,#00ffff 272px,#85ff7a 281px,#f9ff06 287px,#ffaa00 291px,#ff0800 297px,#b30000 300px,#a80000 301px,#d10000 303px,#ee0000 304px)"></i><i style="top:239px;left:1px;width:304px;height:3px;background:linear-gradient(90deg,#0000b6 0px,#0000c0 3px,#000094 15px,#000081 42px,#00008c 171px,#0000b1 211px,#0000ea 234px,#0007ff 241px,#005eff 256px,#00cbff 268px,#00faff 272px,#50ffaf 278px,#f3ff0c 287px,#fff600 288px,#ff6500 294px,#ff1000 297px,#f00000 298px,#900000 301px,#a00000 302px,#e10000 304px)"></i><i style="top:241px;left:1px;width:304px;height:3px;background:linear-gradient(90deg,#0000b7 0px,#0000c3 3px,#000096 14px,#000081 38px,#00008b 169px,#0000af 210px,#0000e9 234px,#0005ff 241px,#005bff 256px,#00c7ff 268px,#04fffb 273px,#8dff72 282px,#fffb00 288px,#ff3500 296px,#fd0000 298px,#ba0000 301px,#ba0000 302px,#e60000 304px)"></i><i style="top:243px;left:1px;width:304px;height:3px;background:linear-gradient(90deg,#0000b4 0px,#0000ba 4px,#000090 17px,#000080 50px,#00008d 173px,#0000b1 212px,#0000ee 236px,#0008ff 242px,#0060ff 257px,#00cfff 269px,#00ffff 273px,#89ff76 282px,#fdff02 288px,#ff7000 294px,#fd0000 298px,#a10000 301px,#a00000 302px,#dd0000 304px)"></i><i style="top:245px;left:1px;width:304px;height:3px;background:linear-gradient(90deg,#0000b6 0px,#0000c3 3px,#000096 14px,#000082 38px,#00008b 169px,#0000ae 210px,#0000e6 234px,#0006ff 242px,#005dff 257px,#00ccff 269px,#00fcff 273px,#62ff9d 280px,#f9ff06 288px,#ff9100 293px,#ff0800 298px,#ac0000 301px,#a20000 302px,#d90000 304px)"></i><i style="top:247px;left:1px;width:304px;height:3px;background:linear-gradient(90deg,#0000b5 0px,#0000c1 3px,#000094 15px,#000081 41px,#00008c 171px,#0000af 211px,#0000e8 235px,#0004ff 242px,#005bff 257px,#00c9ff 269px,#07fff8 274px,#92ff6d 283px,#f4ff0b 288px,#ffdd00 290px,#ff2700 297px,#ff0a00 298px,#cf0000 300px,#b60000 301px,#af0000 302px,#dd0000 304px)"></i><i style="top:249px;left:1px;width:304px;height:3px;background:linear-gradient(90deg,#0000b4 0px,#0000bc 4px,#000092 16px,#000081 45px,#00008d 173px,#0000b1 213px,#0000ea 236px,#0007ff 243px,#0061ff 258px,#00d1ff 270px,#03fffc 274px,#8fff70 283px,#fff800 289px,#ff6500 295px,#ff0f00 298px,#ef0000 299px,#910000 302px,#d30000 304px)"></i><i style="top:251px;left:1px;width:305px;height:3px;background:linear-gradient(90deg,#0000b5 0px,#0000c6 3px,#000099 13px,#000083 34px,#00008b 168px,#0000ad 211px,#0000e6 235px,#0006ff 243px,#005fff 258px,#00cfff 270px,#01fffe 274px,#8aff75 283px,#fffc00 289px,#ff4e00 296px,#f90000 299px,#c40000 301px,#b50000 302px,#c00000 303px,#f60000 305px)"></i><i style="top:253px;left:2px;width:304px;height:3px;background:linear-gradient(90deg,#0000b7 0px,#0000bd 3px,#000091 16px,#000080 48px,#00008d 173px,#0000b1 213px,#0000eb 236px,#0005ff 242px,#005dff 257px,#00ccff 269px,#00fdff 273px,#76ff89 281px,#feff01 288px,#ff5100 295px,#f80000 298px,#a30000 301px,#b40000 302px,#f20000 304px)"></i><i style="top:255px;left:2px;width:304px;height:3px;background:linear-gradient(90deg,#0000b8 0px,#0000bf 3px,#000093 15px,#000081 44px,#00008d 173px,#0000b1 213px,#0000eb 236px,#0008ff 243px,#0063ff 258px,#00caff 269px,#00fbff 273px,#62ff9d 280px,#fbff04 288px,#ff7200 294px,#fd0000 298px,#9f0000 301px,#af0000 302px,#f00000 304px)"></i><i style="top:257px;left:2px;width:304px;height:3px;background:linear-gradient(90deg,#0000b8 0px,#0000c1 3px,#000095 14px,#000081 39px,#00008c 171px,#0000af 212px,#0000e9 236px,#0007ff 243px,#0061ff 258px,#00d3ff 270px,#06fff9 274px,#94ff6b 283px,#f8ff07 288px,#ffc100 291px,#ff0100 298px,#c40000 300px,#b00000 301px,#ba0000 302px,#f30000 304px)"></i><i style="top:259px;left:2px;width:304px;height:3px;background:linear-gradient(90deg,#0000b6 0px,#0000b8 4px,#000090 17px,#000080 51px,#00008d 175px,#0000b1 214px,#0000ec 237px,#0006ff 243px,#005fff 258px,#00c6ff 269px,#04fffb 274px,#92ff6d 283px,#f6ff09 288px,#ffdb00 290px,#ff3f00 296px,#ff0200 298px,#a00000 301px,#ae0000 302px,#f00000 304px)"></i><i style="top:261px;left:2px;width:304px;height:3px;background:linear-gradient(90deg,#0000b7 0px,#0000c2 3px,#000096 14px,#000081 39px,#00008c 172px,#0000ae 212px,#0000e8 236px,#0005ff 243px,#005eff 258px,#00cfff 270px,#02fffd 274px,#8fff70 283px,#f3ff0c 288px,#fff500 289px,#ff4200 296px,#ff0700 298px,#b40000 301px,#bb0000 302px,#f50000 304px)"></i><i style="top:263px;left:2px;width:304px;height:3px;background:linear-gradient(90deg,#0000b5 0px,#0000c0 3px,#000094 15px,#000081 42px,#00008c 174px,#0000af 213px,#0000e7 236px,#0004ff 243px,#005dff 258px,#00c3ff 269px,#00ffff 274px,#8dff72 283px,#f1ff0e 288px,#fff700 289px,#ff4300 296px,#ff0700 298px,#a90000 301px,#b30000 302px,#f20000 304px)"></i><i style="top:265px;left:2px;width:304px;height:3px;background:linear-gradient(90deg,#0000b5 0px,#0000bf 3px,#000092 16px,#000080 46px,#00008d 176px,#0000b2 215px,#0000ed 238px,#0008ff 244px,#0063ff 259px,#00d8ff 271px,#00feff 274px,#8bff74 283px,#fff800 289px,#ff4500 296px,#ff0800 298px,#c60000 300px,#a40000 301px,#b20000 302px,#f40000 304px)"></i><i style="top:267px;left:2px;width:304px;height:3px;background:linear-gradient(90deg,#0000b5 0px,#0000c6 3px,#000099 13px,#000082 35px,#00008b 173px,#0000ae 213px,#0000e5 236px,#0007ff 244px,#005aff 258px,#00c0ff 269px,#00fcff 274px,#78ff87 282px,#fffa00 289px,#ff4600 296px,#ff0a00 298px,#cc0000 300px,#b40000 301px,#bc0000 302px,#f70000 304px)"></i><i style="top:269px;left:2px;width:304px;height:3px;background:linear-gradient(90deg,#0000b2 0px,#0000bc 4px,#000091 17px,#000080 49px,#00008d 177px,#0000b1 215px,#0000ec 238px,#0006ff 244px,#0061ff 259px,#00caff 270px,#00fbff 274px,#65ff9a 281px,#fffb00 289px,#ff4600 296px,#ff0a00 298px,#c80000 300px,#a90000 301px,#b70000 302px,#f90000 304px)"></i><i style="top:271px;left:3px;width:303px;height:3px;background:linear-gradient(90deg,#0000b9 0px,#0000bf 3px,#000095 14px,#000081 40px,#00008c 174px,#0000af 213px,#0000e8 236px,#0005ff 243px,#0058ff 257px,#00c9ff 269px,#00faff 273px,#53ffac 279px,#ebff14 287px,#fffc00 288px,#ff4700 295px,#ff0a00 297px,#ca0000 299px,#af0000 300px,#c00000 301px,#fe0000 303px)"></i><i style="top:273px;left:3px;width:303px;height:3px;background:linear-gradient(90deg,#0000b8 0px,#0000c1 3px,#000095 14px,#000081 39px,#00008c 175px,#0000b0 214px,#0000eb 237px,#0005ff 243px,#005fff 258px,#00c8ff 269px,#07fff8 274px,#86ff79 282px,#fffd00 288px,#ff4700 295px,#ff0b00 297px,#cb0000 299px,#b30000 300px,#c10000 301px,#ff0100 303px)"></i><i style="top:275px;left:3px;width:303px;height:3px;background:linear-gradient(90deg,#0000b6 0px,#0000b9 4px,#000090 17px,#000080 51px,#00008d 177px,#0000b1 215px,#0000ea 237px,#0004ff 243px,#005eff 258px,#00d2ff 270px,#06fff9 274px,#85ff7a 282px,#fffe00 288px,#ff4b00 295px,#ff1100 297px,#f30000 298px,#c10000 300px,#ff0800 303px)"></i><i style="top:277px;left:3px;width:302px;height:3px;background:linear-gradient(90deg,#0000b7 0px,#0000c3 3px,#000098 13px,#000082 35px,#00008c 174px,#0000ae 213px,#0000e6 236px,#0004ff 243px,#0056ff 257px,#00c5ff 269px,#04fffb 274px,#97ff68 283px,#feff01 288px,#ff3600 296px,#ff0100 298px,#d80000 300px,#f90000 302px)"></i><i style="top:279px;left:3px;width:302px;height:3px;background:linear-gradient(90deg,#0000b4 0px,#0000bd 4px,#000092 16px,#000081 45px,#00008d 177px,#0000b1 215px,#0000e9 237px,#0008ff 244px,#005dff 258px,#00cfff 270px,#03fffc 274px,#95ff6a 283px,#fbff04 288px,#ff5900 295px,#f90000 299px,#e80000 300px,#ff0b00 302px)"></i><i style="top:281px;left:3px;width:302px;height:3px;background:linear-gradient(90deg,#0000b4 0px,#0000bd 4px,#000093 16px,#000081 45px,#00008d 177px,#0000b1 215px,#0000ed 238px,#0007ff 244px,#0064ff 259px,#00ceff 270px,#02fffd 274px,#92ff6d 283px,#f7ff08 288px,#ffc300 291px,#ff0900 299px,#fe0000 300px,#ff1e00 302px)"></i><i style="top:283px;left:4px;width:301px;height:3px;background:linear-gradient(90deg,#0000b9 0px,#0000c5 2px,#000097 13px,#000082 36px,#00008c 175px,#0000b0 214px,#0000ec 237px,#0007ff 243px,#0063ff 258px,#00cdff 269px,#01fffe 273px,#90ff6f 282px,#f3ff0c 287px,#fff600 288px,#ff1700 298px,#ff1100 299px,#ff2f00 301px)"></i><i style="top:285px;left:4px;width:301px;height:3px;background:linear-gradient(90deg,#0000b5 0px,#0000b9 4px,#000090 17px,#000080 51px,#00008e 178px,#0000b2 215px,#0000ec 237px,#0006ff 243px,#0062ff 258px,#00ccff 269px,#00feff 273px,#8cff73 282px,#fffc00 288px,#ff2500 298px,#ff3300 300px,#ff4100 301px)"></i><i style="top:287px;left:4px;width:301px;height:3px;background:linear-gradient(90deg,#0000b7 0px,#0000c1 3px,#000096 14px,#000081 39px,#00008d 177px,#0000b2 215px,#0000ec 237px,#0006ff 243px,#0061ff 258px,#00cbff 269px,#00fdff 273px,#77ff88 281px,#fcff03 288px,#ff3600 298px,#ff4600 300px,#ff5400 301px)"></i><i style="top:289px;left:4px;width:300px;height:3px;background:linear-gradient(90deg,#0000b5 0px,#0000c2 3px,#000094 15px,#000081 42px,#00008d 178px,#0000b1 215px,#0000eb 237px,#0005ff 243px,#0060ff 258px,#00c9ff 269px,#00fbff 273px,#63ff9c 280px,#f4ff0b 288px,#ffe200 290px,#ff4400 298px,#ff5800 300px)"></i><i style="top:291px;left:4px;width:300px;height:3px;background:linear-gradient(90deg,#0000b4 0px,#0000bb 4px,#000091 17px,#000080 49px,#00008e 179px,#0000b3 216px,#0000ef 238px,#0005ff 243px,#005fff 258px,#00d3ff 270px,#06fff9 274px,#a3ff5c 284px,#ffff00 289px,#ff6500 297px,#ff5900 298px,#ff6b00 300px)"></i><i style="top:293px;left:5px;width:299px;height:3px;background:linear-gradient(90deg,#0000ba 0px,#0000c6 2px,#000097 13px,#000082 37px,#00008d 176px,#0000b1 214px,#0000ea 236px,#0004ff 242px,#005eff 257px,#00d1ff 269px,#04fffb 273px,#9dff62 283px,#f6ff09 288px,#ffd300 291px,#ff7500 296px,#ff6d00 297px,#ff7d00 299px)"></i><i style="top:295px;left:5px;width:299px;height:3px;background:linear-gradient(90deg,#0000b6 0px,#0000be 3px,#000093 15px,#000081 43px,#00008e 178px,#0000b3 215px,#0000ee 237px,#0008ff 243px,#005dff 257px,#00cfff 269px,#01fffe 273px,#a8ff57 284px,#feff01 289px,#ff8700 296px,#ff8500 298px,#ff8f00 299px)"></i><i style="top:297px;left:5px;width:298px;height:3px;background:linear-gradient(90deg,#0000b7 0px,#0000bf 3px,#000094 15px,#000081 42px,#00008e 178px,#0000b3 215px,#0000ed 237px,#0007ff 243px,#005cff 257px,#00cdff 269px,#00fdff 273px,#90ff6f 283px,#fffb00 290px,#ff9900 296px,#ff9800 298px)"></i><i style="top:299px;left:5px;width:298px;height:3px;background:linear-gradient(90deg,#0000b6 0px,#0000c4 3px,#000096 14px,#000082 38px,#00008d 178px,#0000b2 215px,#0000ed 237px,#0007ff 243px,#005aff 257px,#00caff 269px,#07fff8 274px,#f7ff08 290px,#ffe500 292px,#ffab00 296px,#ffaa00 298px)"></i><i style="top:301px;left:5px;width:298px;height:3px;background:linear-gradient(90deg,#0000b3 0px,#0000bb 4px,#000091 17px,#000081 48px,#00008e 180px,#0000b4 216px,#0000f0 238px,#000aff 244px,#0061ff 258px,#00d3ff 270px,#04fffb 274px,#fcff03 291px,#ffc500 295px,#ffbc00 298px)"></i><i style="top:303px;left:6px;width:297px;height:3px;background:linear-gradient(90deg,#0000b9 0px,#0000c0 3px,#000095 14px,#000081 40px,#00008e 178px,#0000b4 215px,#0000ef 237px,#000aff 243px,#005fff 257px,#00d0ff 269px,#00ffff 273px,#fffc00 291px,#ffce00 295px,#ffcd00 297px)"></i><i style="top:305px;left:6px;width:296px;height:3px;background:linear-gradient(90deg,#0000b7 0px,#0000c1 3px,#000094 15px,#000081 43px,#00008e 179px,#0000b3 215px,#0000ef 237px,#0009ff 243px,#0066ff 258px,#00d8ff 270px,#08fff7 274px,#fffb00 292px,#ffdf00 295px,#ffdd00 296px)"></i><i style="top:307px;left:6px;width:296px;height:3px;background:linear-gradient(90deg,#0000b6 0px,#0000bd 3px,#000090 17px,#000081 49px,#00008f 180px,#0000b5 216px,#0000f2 238px,#0008ff 243px,#0064ff 258px,#00dfff 271px,#03fffc 274px,#fffe00 293px,#ffee00 296px)"></i><i style="top:309px;left:6px;width:295px;height:3px;background:linear-gradient(90deg,#0000b5 0px,#0000c5 3px,#000099 13px,#000082 35px,#00008e 178px,#0000b3 215px,#0000f1 238px,#000cff 244px,#006aff 259px,#00e7ff 272px,#00feff 274px,#f1ff0e 293px,#feff01 295px)"></i><i style="top:311px;left:7px;width:294px;height:3px;background:linear-gradient(90deg,#0000b7 0px,#0000be 3px,#000093 15px,#000081 43px,#00008f 180px,#0000b6 216px,#0000f4 238px,#000bff 243px,#0068ff 258px,#00e2ff 271px,#06fff9 274px,#e3ff1c 292px,#eeff11 294px)"></i><i style="top:313px;left:7px;width:294px;height:3px;background:linear-gradient(90deg,#0000b8 0px,#0000bf 3px,#000094 15px,#000081 43px,#00008f 180px,#0000b6 216px,#0000f3 238px,#000aff 243px,#0066ff 258px,#00deff 271px,#01fffe 274px,#ccff33 291px,#deff21 294px)"></i><i style="top:315px;left:7px;width:293px;height:3px;background:linear-gradient(90deg,#0000b6 0px,#0000c4 3px,#000096 14px,#000081 39px,#00008f 180px,#0000b6 216px,#0000f3 238px,#0009ff 243px,#0064ff 258px,#00e4ff 272px,#06fff9 275px,#bfff40 291px,#ccff33 293px)"></i><i style="top:317px;left:7px;width:293px;height:3px;background:linear-gradient(90deg,#0000b4 0px,#0000bb 4px,#000091 17px,#000081 48px,#000090 181px,#0000b7 217px,#0000f6 239px,#0012ff 245px,#0071ff 260px,#01fffe 275px,#b1ff4e 291px,#bdff42 293px)"></i><i style="top:319px;left:8px;width:291px;height:3px;background:linear-gradient(90deg,#0000b9 0px,#0000c0 3px,#000095 14px,#000081 40px,#000090 180px,#0000b7 216px,#0000f5 238px,#0011ff 244px,#006fff 259px,#06fff9 275px,#a4ff5b 290px,#aaff55 291px)"></i><i style="top:321px;left:8px;width:291px;height:3px;background:linear-gradient(90deg,#0000b6 0px,#0000c1 3px,#000094 15px,#000081 42px,#000090 181px,#0000b7 216px,#0000f4 238px,#000bff 243px,#006cff 259px,#00feff 275px,#97ff68 290px,#9dff62 291px)"></i><i style="top:323px;left:8px;width:290px;height:3px;background:linear-gradient(90deg,#0000b5 0px,#0000ba 4px,#00008f 18px,#000081 52px,#000091 182px,#0000b8 217px,#0000f7 239px,#0013ff 245px,#0079ff 261px,#03fffc 276px,#84ff7b 289px,#8aff75 290px)"></i><i style="top:325px;left:8px;width:290px;height:3px;background:linear-gradient(90deg,#0000b5 0px,#0000c6 3px,#000099 13px,#000082 35px,#00008f 180px,#0000b6 216px,#0000f2 238px,#0009ff 243px,#0067ff 259px,#06fff9 277px,#78ff87 289px,#7eff81 290px)"></i><i style="top:327px;left:9px;width:288px;height:3px;background:linear-gradient(90deg,#0000b6 0px,#0000be 3px,#000091 16px,#000081 46px,#000091 182px,#0000b9 217px,#0000f5 238px,#0011ff 244px,#0073ff 260px,#00feff 276px,#6cff93 288px)"></i><i style="top:329px;left:9px;width:288px;height:3px;background:linear-gradient(90deg,#0000b7 0px,#0000c0 3px,#000094 15px,#000081 42px,#000091 182px,#0000b9 217px,#0000f8 239px,#001eff 247px,#0087ff 263px,#01fffe 277px,#60ff9f 288px)"></i><i style="top:331px;left:9px;width:287px;height:3px;background:linear-gradient(90deg,#0000b5 0px,#0000c5 3px,#000097 14px,#000082 38px,#000091 182px,#0000b9 217px,#0000f7 239px,#0013ff 245px,#007bff 262px,#02fffd 278px,#4fffb0 287px)"></i><i style="top:333px;left:10px;width:286px;height:3px;background:linear-gradient(90deg,#0000b7 0px,#0000b9 4px,#000090 17px,#000081 49px,#000092 183px,#0000ba 217px,#0000fa 239px,#003cff 252px,#00bfff 270px,#03fffc 278px,#44ffbb 286px)"></i><i style="top:335px;left:10px;width:285px;height:3px;background:linear-gradient(90deg,#0000b7 0px,#0000c1 3px,#000096 14px,#000081 39px,#000091 182px,#0000ba 217px,#0000f9 239px,#002fff 250px,#00aaff 268px,#05fffa 279px,#33ffcc 285px)"></i><i style="top:337px;left:10px;width:284px;height:3px;background:linear-gradient(90deg,#0000b4 0px,#0000c2 3px,#000094 15px,#000081 41px,#000092 183px,#0000bb 218px,#0006ff 242px,#006aff 260px,#05fffa 280px,#23ffdc 284px)"></i><i style="top:339px;left:11px;width:283px;height:3px;background:linear-gradient(90deg,#0000b8 0px,#0000bb 3px,#000090 17px,#000082 49px,#000093 184px,#0000bd 218px,#0004ff 241px,#0067ff 259px,#05fffa 280px,#19ffe6 283px)"></i><i style="top:341px;left:11px;width:282px;height:3px;background:linear-gradient(90deg,#0000b8 0px,#0000c3 3px,#000098 13px,#000082 36px,#000092 183px,#0000bc 218px,#0003ff 241px,#006aff 260px,#03fffc 281px,#0afff5 282px)"></i><i style="top:343px;left:11px;width:281px;height:3px;background:linear-gradient(90deg,#0000b4 0px,#0000bd 4px,#000092 16px,#000082 44px,#000093 185px,#0000be 219px,#0006ff 242px,#006dff 261px,#00faff 281px)"></i><i style="top:345px;left:12px;width:280px;height:3px;background:linear-gradient(90deg,#0000b9 0px,#0000bd 3px,#000091 16px,#000082 45px,#000094 185px,#0000bf 219px,#0004ff 241px,#0070ff 261px,#00f1ff 280px)"></i><i style="top:347px;left:12px;width:279px;height:3px;background:linear-gradient(90deg,#0000b7 0px,#0000c3 3px,#000098 13px,#000082 36px,#000093 184px,#0000bd 218px,#0003ff 241px,#006cff 261px,#00e3ff 279px)"></i><i style="top:349px;left:12px;width:278px;height:3px;background:linear-gradient(90deg,#0000b4 0px,#0000bc 4px,#000091 17px,#000082 46px,#000094 186px,#0000be 219px,#0005ff 242px,#0074ff 263px,#00d5ff 278px)"></i><i style="top:351px;left:13px;width:276px;height:3px;background:linear-gradient(90deg,#0000b9 0px,#0000bf 3px,#000095 14px,#000082 39px,#000094 185px,#0000c0 219px,#0003ff 241px,#0076ff 263px,#00c7ff 276px)"></i><i style="top:353px;left:13px;width:276px;height:3px;background:linear-gradient(90deg,#0000b6 0px,#0000c2 3px,#000096 14px,#000082 39px,#000095 186px,#0000bf 219px,#0006ff 242px,#007eff 265px,#00c0ff 276px)"></i><i style="top:355px;left:13px;width:275px;height:3px;background:linear-gradient(90deg,#0000b4 0px,#0000ba 4px,#00008f 18px,#000082 49px,#000096 188px,#0000c3 221px,#0004ff 242px,#007fff 266px,#00b4ff 275px)"></i><i style="top:357px;left:14px;width:273px;height:3px;background:linear-gradient(90deg,#0000b9 0px,#0000c5 2px,#000098 13px,#000082 36px,#000095 185px,#0000be 218px,#0006ff 242px,#0096ff 270px,#00a7ff 273px)"></i><i style="top:359px;left:14px;width:272px;height:3px;background:linear-gradient(90deg,#0000b5 0px,#0000c0 3px,#000092 16px,#000082 43px,#000096 187px,#0000bf 219px,#0005ff 242px,#0096ff 271px,#009bff 272px)"></i><i style="top:361px;left:14px;width:271px;height:3px;background:linear-gradient(90deg,#0000b4 0px,#0000bc 4px,#000091 17px,#000082 45px,#000097 187px,#0000bd 218px,#0003ff 242px,#0090ff 271px)"></i><i style="top:363px;left:15px;width:269px;height:3px;background:linear-gradient(90deg,#0000b8 0px,#0000c2 3px,#000098 13px,#000082 36px,#000096 183px,#0000b6 214px,#0000f9 239px,#0027ff 250px,#0085ff 269px)"></i><i style="top:365px;left:15px;width:268px;height:3px;background:linear-gradient(90deg,#0000b4 0px,#0000bc 4px,#000091 17px,#000083 45px,#000098 185px,#0000b8 215px,#0000fb 240px,#004eff 259px,#007aff 268px)"></i><i style="top:367px;left:16px;width:267px;height:3px;background:linear-gradient(90deg,#0000b9 0px,#0000be 3px,#000093 15px,#000082 40px,#000097 182px,#0000b2 211px,#0000f2 237px,#0009ff 243px,#0075ff 267px)"></i><i style="top:369px;left:16px;width:266px;height:3px;background:linear-gradient(90deg,#0000b6 0px,#0000c3 3px,#000096 14px,#000082 38px,#000097 181px,#0000b0 210px,#0000f0 237px,#0007ff 243px,#006bff 266px)"></i><i style="top:371px;left:16px;width:265px;height:3px;background:linear-gradient(90deg,#0000b4 0px,#0000bb 4px,#00008f 18px,#000083 47px,#000099 183px,#0000b1 211px,#0000f2 238px,#0008ff 244px,#0062ff 265px)"></i><i style="top:373px;left:17px;width:263px;height:3px;background:linear-gradient(90deg,#0000b8 0px,#0000c1 3px,#000098 13px,#000083 35px,#000098 178px,#0000b0 210px,#0000f0 237px,#000aff 244px,#0046ff 258px,#005aff 260px,#0059ff 263px)"></i><i style="top:375px;left:17px;width:262px;height:3px;background:linear-gradient(90deg,#0000b4 0px,#0000c2 3px,#000095 15px,#000083 39px,#000098 178px,#0000b1 211px,#0000f2 238px,#000bff 245px,#003eff 256px,#0056ff 259px,#0051ff 262px)"></i><i style="top:377px;left:18px;width:260px;height:3px;background:linear-gradient(90deg,#0000b8 0px,#0000bc 3px,#000090 17px,#000083 45px,#00009a 179px,#0000b3 211px,#0000f3 238px,#000dff 245px,#002dff 252px,#004bff 256px,#0048ff 260px)"></i><i style="top:379px;left:18px;width:259px;height:3px;background:linear-gradient(90deg,#0000b7 0px,#0000c4 3px,#000099 13px,#000083 35px,#000099 175px,#0000b4 212px,#0000f8 240px,#0016ff 248px,#0054ff 256px,#004bff 258px,#0041ff 259px)"></i><i style="top:381px;left:19px;width:257px;height:3px;background:linear-gradient(90deg,#0000b7 0px,#0000be 3px,#000093 15px,#000083 40px,#00009a 175px,#0000b6 213px,#0005ff 243px,#0045ff 252px,#0057ff 254px,#003dff 257px)"></i><i style="top:383px;left:19px;width:256px;height:3px;background:linear-gradient(90deg,#0000b7 0px,#0000bf 3px,#000092 16px,#000083 41px,#00009a 175px,#0000b9 215px,#0002ff 242px,#004bff 252px,#003fff 256px)"></i><i style="top:385px;left:19px;width:255px;height:3px;background:linear-gradient(90deg,#0000b5 0px,#0000c6 3px,#00009a 13px,#000083 34px,#00009a 172px,#0000ba 216px,#0000f5 239px,#000eff 243px,#004eff 252px,#003dff 255px)"></i><i style="top:387px;left:20px;width:252px;height:3px;background:linear-gradient(90deg,#0000b6 0px,#0000bb 4px,#000090 17px,#000084 43px,#00009c 174px,#0000bd 217px,#0000f0 236px,#0007ff 240px,#0057ff 250px,#0042ff 252px)"></i><i style="top:389px;left:20px;width:251px;height:3px;background:linear-gradient(90deg,#0000b6 0px,#0000c1 3px,#000095 15px,#000084 38px,#00009b 172px,#0000c0 219px,#0000e6 233px,#0008ff 239px,#004dff 248px,#003fff 251px)"></i><i style="top:391px;left:21px;width:249px;height:3px;background:linear-gradient(90deg,#0000b8 0px,#0000c2 3px,#000096 14px,#000084 36px,#00009c 170px,#0000c1 219px,#0000e1 230px,#0008ff 237px,#0044ff 246px,#0041ff 249px)"></i><i style="top:393px;left:21px;width:248px;height:3px;background:linear-gradient(90deg,#0000b5 0px,#0000bb 4px,#000091 17px,#000084 42px,#00009d 171px,#0000c6 222px,#0002ff 235px,#004fff 246px,#003dff 248px)"></i><i style="top:395px;left:22px;width:246px;height:3px;background:linear-gradient(90deg,#0000b9 0px,#0000c4 2px,#000096 14px,#000084 36px,#00009d 168px,#0000c6 220px,#0002ff 233px,#0047ff 242px,#0050ff 243px,#0038ff 246px)"></i><i style="top:397px;left:22px;width:245px;height:3px;background:linear-gradient(90deg,#0000b5 0px,#0000c2 3px,#000095 15px,#000084 37px,#00009d 167px,#0000c6 219px,#0004ff 232px,#0046ff 241px,#0039ff 245px)"></i><i style="top:399px;left:23px;width:242px;height:3px;background:linear-gradient(90deg,#0000b8 0px,#0000b8 4px,#00008e 18px,#000085 44px,#00009f 168px,#0000c7 217px,#0004ff 230px,#0047ff 240px,#003fff 242px)"></i><i style="top:401px;left:23px;width:241px;height:3px;background:linear-gradient(90deg,#0000b6 0px,#0000c4 3px,#000099 13px,#000084 33px,#00009e 164px,#0000c8 216px,#0004ff 229px,#004eff 239px,#003aff 241px)"></i><i style="top:403px;left:24px;width:239px;height:3px;background:linear-gradient(90deg,#0000b7 0px,#0000bf 3px,#000094 15px,#000085 37px,#00009f 164px,#0000c7 213px,#0006ff 227px,#004aff 236px,#0036ff 239px)"></i><i style="top:405px;left:24px;width:238px;height:3px;background:linear-gradient(90deg,#0000b7 0px,#0000bf 3px,#000091 17px,#000085 40px,#0000a0 164px,#0000c6 211px,#0001ff 225px,#0041ff 234px,#0036ff 238px)"></i><i style="top:407px;left:25px;width:235px;height:3px;background:linear-gradient(90deg,#0000b9 0px,#0000c6 2px,#000098 13px,#000085 33px,#0000a0 161px,#0000c8 209px,#0004ff 223px,#0045ff 233px,#003bff 235px)"></i><i style="top:409px;left:25px;width:234px;height:3px;background:linear-gradient(90deg,#0000b5 0px,#0000bc 4px,#000093 16px,#000085 38px,#0000a1 162px,#0000c7 207px,#0002ff 221px,#003dff 230px,#0048ff 232px,#0033ff 234px)"></i><i style="top:411px;left:26px;width:232px;height:3px;background:linear-gradient(90deg,#0000b9 0px,#0000be 3px,#000092 16px,#000085 38px,#0000a1 160px,#0000c6 204px,#0007ff 219px,#0047ff 229px,#0032ff 232px)"></i><i style="top:413px;left:26px;width:230px;height:3px;background:linear-gradient(90deg,#0000b6 0px,#0000c4 3px,#000099 13px,#000085 32px,#0000a1 158px,#0000c5 202px,#0005ff 217px,#0045ff 227px,#0039ff 230px)"></i><i style="top:415px;left:27px;width:228px;height:3px;background:linear-gradient(90deg,#0000b7 0px,#0000ba 4px,#000090 17px,#000086 39px,#0000a3 159px,#0000c7 200px,#0004ff 214px,#0043ff 224px,#0049ff 226px,#003aff 228px)"></i><i style="top:417px;left:27px;width:226px;height:3px;background:linear-gradient(90deg,#0000b6 0px,#0000c2 3px,#000095 15px,#000086 35px,#0000a3 157px,#0000c6 198px,#0002ff 212px,#004bff 223px,#0055ff 224px,#0041ff 226px)"></i><i style="top:419px;left:28px;width:224px;height:3px;background:linear-gradient(90deg,#0000b8 0px,#0000c1 3px,#000096 14px,#000086 33px,#0000a4 155px,#0000c6 195px,#0001ff 209px,#004eff 220px,#0057ff 221px,#003dff 224px)"></i><i style="top:421px;left:28px;width:223px;height:3px;background:linear-gradient(90deg,#0000b5 0px,#0000bb 4px,#000090 18px,#000087 39px,#0000a5 156px,#0000c5 193px,#0007ff 208px,#0054ff 219px,#0040ff 223px)"></i><i style="top:423px;left:29px;width:220px;height:3px;background:linear-gradient(90deg,#0000b9 0px,#0000c1 3px,#000096 14px,#000086 33px,#0000a5 153px,#0000c8 191px,#0006ff 205px,#0051ff 216px,#0052ff 219px,#0049ff 220px)"></i><i style="top:425px;left:29px;width:219px;height:3px;background:linear-gradient(90deg,#0000b4 0px,#0000c2 3px,#000095 15px,#000087 34px,#0000a6 153px,#0000c7 189px,#0005ff 203px,#0060ff 216px,#0045ff 219px)"></i><i style="top:427px;left:30px;width:216px;height:3px;background:linear-gradient(90deg,#0000b8 0px,#0000b9 4px,#00008f 18px,#000088 40px,#0000a9 154px,#0000c9 187px,#0004ff 200px,#0059ff 212px,#0065ff 213px,#0049ff 216px)"></i><i style="top:429px;left:30px;width:214px;height:3px;background:linear-gradient(90deg,#0000b5 0px,#0000c5 3px,#00009a 13px,#000087 31px,#0000a7 150px,#0000c6 185px,#0003ff 198px,#004fff 209px,#0064ff 211px,#0052ff 214px)"></i><i style="top:431px;left:31px;width:212px;height:3px;background:linear-gradient(90deg,#0000b5 0px,#0000c1 3px,#000095 15px,#000087 33px,#0000a9 150px,#0000c8 183px,#0002ff 195px,#0051ff 206px,#0062ff 208px,#0054ff 212px)"></i><i style="top:433px;left:32px;width:209px;height:3px;background:linear-gradient(90deg,#0000ba 0px,#0000bc 3px,#000090 17px,#000088 38px,#0000ab 150px,#0000ca 181px,#0006ff 193px,#005fff 205px,#0066ff 208px,#005bff 209px)"></i><i style="top:435px;left:32px;width:208px;height:3px;background:linear-gradient(90deg,#0000b6 0px,#0000c4 3px,#000099 13px,#000087 30px,#0000aa 147px,#0000c8 179px,#0003ff 191px,#0066ff 204px,#0073ff 205px,#0054ff 208px)"></i><i style="top:437px;left:33px;width:205px;height:3px;background:linear-gradient(90deg,#0000b7 0px,#0000bf 3px,#000094 15px,#000088 32px,#0000ac 146px,#0000c9 177px,#0005ff 189px,#005dff 200px,#0078ff 202px,#0059ff 205px)"></i><i style="top:439px;left:33px;width:203px;height:3px;background:linear-gradient(90deg,#0000b6 0px,#0000bf 3px,#000091 17px,#000089 36px,#0000ae 147px,#0000cb 176px,#0002ff 187px,#0051ff 197px,#0073ff 200px,#0062ff 203px)"></i><i style="top:441px;left:34px;width:201px;height:3px;background:linear-gradient(90deg,#0000b8 0px,#0000c2 3px,#000099 13px,#000088 29px,#0000ac 141px,#0000c9 173px,#0006ff 185px,#004eff 194px,#006aff 197px,#0068ff 200px,#005fff 201px)"></i><i style="top:443px;left:34px;width:199px;height:3px;background:linear-gradient(90deg,#0000b4 0px,#0000bd 4px,#000092 17px,#000089 35px,#0000ae 143px,#0000cc 172px,#0003ff 183px,#004bff 192px,#0070ff 197px,#005eff 199px)"></i><i style="top:445px;left:35px;width:196px;height:3px;background:linear-gradient(90deg,#0000b8 0px,#0000bf 3px,#000093 16px,#00008a 33px,#0000ae 140px,#0000ca 169px,#0006ff 181px,#006aff 193px,#0074ff 194px,#005cff 196px)"></i><i style="top:447px;left:36px;width:193px;height:3px;background:linear-gradient(90deg,#0000b9 0px,#0000c5 2px,#000098 13px,#000089 28px,#0000ad 135px,#0000cd 167px,#0003ff 178px,#005dff 189px,#0074ff 191px,#0058ff 193px)"></i><i style="top:449px;left:36px;width:192px;height:3px;background:linear-gradient(90deg,#0000b6 0px,#0000bc 4px,#000091 17px,#00008b 36px,#0000b1 138px,#0000cc 165px,#0002ff 176px,#005cff 187px,#006cff 189px,#0057ff 192px)"></i><i style="top:451px;left:37px;width:189px;height:3px;background:linear-gradient(90deg,#0000b9 0px,#0000bf 3px,#000092 16px,#00008b 33px,#0000b0 134px,#0000cb 162px,#0000ff 173px,#004eff 183px,#0064ff 185px,#0057ff 189px)"></i><i style="top:453px;left:37px;width:187px;height:3px;background:linear-gradient(90deg,#0000b4 0px,#0000c4 3px,#000097 14px,#00008a 28px,#0000ae 129px,#0000ce 161px,#0005ff 172px,#004cff 181px,#005eff 183px,#005fff 186px,#0056ff 187px)"></i><i style="top:455px;left:38px;width:184px;height:3px;background:linear-gradient(90deg,#0000b7 0px,#0000b6 5px,#00008f 18px,#000099 83px,#0000c7 156px,#0004ff 169px,#004aff 178px,#0063ff 182px,#0054ff 184px)"></i><i style="top:457px;left:38px;width:182px;height:3px;background:linear-gradient(90deg,#0000b5 0px,#0000c3 3px,#000096 15px,#00008b 29px,#0000af 125px,#0000cd 156px,#0002ff 167px,#005dff 179px,#0067ff 180px,#0051ff 182px)"></i><i style="top:459px;left:39px;width:179px;height:3px;background:linear-gradient(90deg,#0000b5 0px,#0000c2 3px,#000097 14px,#00008b 28px,#0000b0 122px,#0000cc 153px,#0006ff 165px,#0067ff 177px,#004cff 179px)"></i><i style="top:461px;left:40px;width:176px;height:3px;background:linear-gradient(90deg,#0000b8 0px,#0000b8 4px,#000090 17px,#000099 75px,#0000c8 149px,#0006ff 162px,#0053ff 172px,#0061ff 173px,#0061ff 174px,#004dff 176px)"></i><i style="top:463px;left:40px;width:174px;height:3px;background:linear-gradient(90deg,#0000b5 0px,#0000c3 3px,#000097 14px,#00008c 27px,#0000b0 116px,#0000cd 149px,#0005ff 160px,#0047ff 169px,#005fff 171px,#004eff 174px)"></i><i style="top:465px;left:41px;width:171px;height:3px;background:linear-gradient(90deg,#0000b5 0px,#0000c0 3px,#000094 15px,#00008d 30px,#0000b2 116px,#0000d0 147px,#0004ff 157px,#0048ff 166px,#005aff 168px,#004eff 171px)"></i><i style="top:467px;left:42px;width:168px;height:3px;background:linear-gradient(90deg,#0000b9 0px,#0000b7 4px,#00008e 18px,#0000a9 100px,#0000cf 144px,#0002ff 154px,#003dff 162px,#0052ff 164px,#004dff 168px)"></i><i style="top:469px;left:42px;width:166px;height:3px;background:linear-gradient(90deg,#0000b5 0px,#0000c2 3px,#000099 13px,#00008d 25px,#0000b1 110px,#0000d2 143px,#0005ff 153px,#004dff 162px,#0052ff 165px,#004aff 166px)"></i><i style="top:471px;left:43px;width:163px;height:3px;background:linear-gradient(90deg,#0000b5 0px,#0000be 3px,#000094 15px,#000090 36px,#0000b7 115px,#0000d1 140px,#0003ff 150px,#0046ff 159px,#004eff 162px,#0044ff 163px)"></i><i style="top:473px;left:43px;width:161px;height:3px;background:linear-gradient(90deg,#0000b4 0px,#0000bd 3px,#00008f 18px,#0000ab 98px,#0000d4 139px,#0002ff 148px,#003eff 156px,#0050ff 159px,#003cff 161px)"></i><i style="top:475px;left:44px;width:158px;height:3px;background:linear-gradient(90deg,#0000b6 0px,#0000c1 3px,#000098 13px,#00008f 24px,#0000b4 107px,#0000d3 136px,#0001ff 145px,#004bff 156px,#0037ff 158px)"></i><i style="top:477px;left:45px;width:154px;height:3px;background:linear-gradient(90deg,#0000b5 0px,#0000bc 3px,#000093 15px,#0000a2 77px,#0000d2 133px,#0006ff 143px,#003fff 151px,#004aff 152px,#0037ff 154px)"></i><i style="top:479px;left:45px;width:152px;height:3px;background:linear-gradient(90deg,#0000b5 0px,#0000bd 3px,#000090 17px,#0000ae 95px,#0000d6 132px,#0005ff 141px,#0045ff 150px,#0032ff 152px)"></i><i style="top:481px;left:46px;width:149px;height:3px;background:linear-gradient(90deg,#0000b6 0px,#0000bf 3px,#000098 13px,#000091 26px,#0000b8 105px,#0000d9 130px,#0003ff 138px,#0034ff 145px,#003fff 146px,#002fff 149px)"></i><i style="top:483px;left:46px;width:146px;height:3px;background:linear-gradient(90deg,#0000b2 0px,#0000bb 4px,#000091 17px,#0000b2 95px,#0000d8 128px,#0007ff 137px,#003dff 144px,#002bff 146px)"></i><i style="top:485px;left:47px;width:143px;height:3px;background:linear-gradient(90deg,#0000b5 0px,#0000bd 3px,#000092 16px,#0000b2 93px,#0000d8 125px,#0007ff 134px,#0029ff 139px,#0033ff 141px,#0028ff 143px)"></i><i style="top:487px;left:48px;width:140px;height:3px;background:linear-gradient(90deg,#0000b6 0px,#0000be 3px,#000095 14px,#0000aa 78px,#0000d3 121px,#0007ff 131px,#0033ff 137px,#0024ff 140px)"></i><i style="top:489px;left:48px;width:137px;height:3px;background:linear-gradient(90deg,#0000b3 0px,#0000b9 4px,#000092 16px,#0000b6 93px,#0000d7 120px,#0006ff 129px,#001fff 133px,#002aff 135px,#0021ff 137px)"></i><i style="top:491px;left:49px;width:134px;height:3px;background:linear-gradient(90deg,#0000b5 0px,#0000bc 3px,#000093 15px,#0000b6 90px,#0000d7 117px,#0006ff 126px,#0029ff 131px,#001cff 134px)"></i><i style="top:493px;left:49px;width:131px;height:3px;background:linear-gradient(90deg,#0000b0 0px,#0000c0 3px,#000094 15px,#0000b5 87px,#0000d3 114px,#0005ff 124px,#0021ff 129px,#0019ff 131px)"></i><i style="top:495px;left:50px;width:128px;height:3px;background:linear-gradient(90deg,#0000b3 0px,#0000b4 5px,#000094 16px,#0000b9 90px,#0000d4 111px,#0004ff 121px,#0020ff 125px,#0014ff 128px)"></i><i style="top:497px;left:51px;width:124px;height:3px;background:linear-gradient(90deg,#0000b5 0px,#0000bc 3px,#000095 14px,#0000b8 86px,#0000d2 107px,#0004ff 118px,#0018ff 122px,#0010ff 124px)"></i><i style="top:499px;left:51px;width:122px;height:3px;background:linear-gradient(90deg,#0000b0 0px,#0000bb 4px,#000096 14px,#0000b8 84px,#0000d3 105px,#0004ff 116px,#0018ff 119px,#000bff 122px)"></i><i style="top:501px;left:52px;width:118px;height:3px;background:linear-gradient(90deg,#0000b3 0px,#0000b6 4px,#000097 15px,#0000bb 84px,#0000d1 101px,#0003ff 113px,#0013ff 115px,#0008ff 118px)"></i><i style="top:503px;left:53px;width:114px;height:3px;background:linear-gradient(90deg,#0000b6 0px,#0000c0 2px,#000099 12px,#0000b6 76px,#0000cf 97px,#0003ff 109px,#0014ff 112px,#0005ff 114px)"></i><i style="top:505px;left:53px;width:112px;height:3px;background:linear-gradient(90deg,#0000b0 0px,#0000b9 4px,#000099 13px,#0000ba 79px,#0000d1 95px,#0002ff 107px,#0011ff 109px,#0003ff 112px)"></i><i style="top:507px;left:54px;width:108px;height:3px;background:linear-gradient(90deg,#0000b4 0px,#0000b4 4px,#00009a 13px,#0000bb 77px,#0000cf 91px,#0002ff 104px,#000eff 106px,#0000ff 108px)"></i><i style="top:509px;left:54px;width:105px;height:3px;background:linear-gradient(90deg,#0000b0 0px,#0000c0 3px,#00009b 12px,#0000ba 74px,#0000ce 88px,#0000ff 101px,#000cff 103px,#0000fe 105px)"></i><i style="top:511px;left:55px;width:101px;height:3px;background:linear-gradient(90deg,#0000b1 0px,#0000b8 4px,#00009c 12px,#0000bb 72px,#0000d0 85px,#0000ff 98px,#0008ff 100px,#0000ff 101px)"></i><i style="top:513px;left:56px;width:97px;height:3px;background:linear-gradient(90deg,#0000b4 0px,#0000b8 3px,#00009d 12px,#0000bc 70px,#0000d1 82px,#0000fe 94px,#0001ff 97px)"></i><i style="top:515px;left:56px;width:95px;height:3px;background:linear-gradient(90deg,#0000b0 0px,#0000c0 3px,#00009e 11px,#0000bb 67px,#0000d0 79px,#0000ff 91px,#0000f9 95px)"></i><i style="top:517px;left:57px;width:91px;height:3px;background:linear-gradient(90deg,#0000b1 0px,#0000b7 4px,#0000a0 11px,#0000bc 66px,#0000e0 80px,#0001ff 87px,#0000f9 91px)"></i><i style="top:519px;left:58px;width:87px;height:3px;background:linear-gradient(90deg,#0000b4 0px,#0000b8 3px,#0000a1 11px,#0000bd 64px,#0000f1 81px,#0000fd 84px,#0000f9 87px)"></i><i style="top:521px;left:58px;width:84px;height:3px;background:linear-gradient(90deg,#0000af 0px,#0000bf 3px,#0000a2 10px,#0000bd 62px,#0000f4 79px,#0000ff 81px,#0000f7 84px)"></i><i style="top:523px;left:59px;width:80px;height:3px;background:linear-gradient(90deg,#0000b0 0px,#0000b7 4px,#0000a4 10px,#0000bc 58px,#0000f8 76px,#0001ff 77px,#0000f5 80px)"></i><i style="top:525px;left:60px;width:76px;height:3px;background:linear-gradient(90deg,#0000b2 0px,#0000b8 3px,#0000a5 10px,#0000bd 55px,#0000fa 74px,#0000f2 76px)"></i><i style="top:527px;left:61px;width:72px;height:3px;background:linear-gradient(90deg,#0000b2 0px,#0000bb 3px,#0000a6 8px,#0000bd 51px,#0000fa 70px,#0000ee 72px)"></i><i style="top:529px;left:62px;width:68px;height:3px;background:linear-gradient(90deg,#0000b2 0px,#0000b4 4px,#0000a9 9px,#0000bc 47px,#0000f7 66px,#0000ec 68px)"></i><i style="top:531px;left:62px;width:64px;height:3px;background:linear-gradient(90deg,#0000b0 0px,#0000b9 3px,#0000ab 10px,#0000bf 45px,#0000f2 61px,#0000f1 64px)"></i><i style="top:533px;left:63px;width:60px;height:3px;background:linear-gradient(90deg,#0000af 0px,#0000be 3px,#0000ac 8px,#0000bd 40px,#0000f3 57px,#0000ef 60px)"></i><i style="top:535px;left:64px;width:56px;height:3px;background:linear-gradient(90deg,#0000af 0px,#0000b8 4px,#0000ae 9px,#0000bf 36px,#0000ec 52px,#0000ef 54px,#0000ec 56px)"></i><i style="top:537px;left:66px;width:51px;height:3px;background:linear-gradient(90deg,#0000b4 0px,#0000b7 24px,#0000e1 44px,#0000f0 49px,#0000e8 51px)"></i><i style="top:539px;left:67px;width:46px;height:3px;background:linear-gradient(90deg,#0000b2 0px,#0000bc 2px,#0000b2 7px,#0000ca 30px,#0000ee 45px,#0000e9 46px)"></i><i style="top:541px;left:68px;width:42px;height:3px;background:linear-gradient(90deg,#0000b0 0px,#0000bb 3px,#0000b5 6px,#0000c3 19px,#0000e7 37px,#0000e7 42px)"></i><i style="top:543px;left:70px;width:35px;height:3px;background:linear-gradient(90deg,#0000b3 0px,#0000ca 13px,#0000e4 29px,#0000e8 34px,#0000e2 35px)"></i><i style="top:545px;left:72px;width:27px;height:3px;background:linear-gradient(90deg,#0000b6 0px,#0000d6 10px,#0000e1 21px,#0000e5 26px,#0000e1 27px)"></i><i style="top:547px;left:75px;width:18px;height:3px;background:linear-gradient(90deg,#0000c4 0px,#0000e2 7px,#0000e2 15px,#0000e4 17px,#0000e0 18px)"></i></div>
<svg width="1874" height="814" viewBox="0 0 1874 814">
<defs><linearGradient id="jet" x1="0" y1="1" x2="0" y2="0"><stop offset="0.00000" stop-color="#000087"/><stop offset="0.01562" stop-color="#000087"/><stop offset="0.01562" stop-color="#000097"/><stop offset="0.03125" stop-color="#000097"/><stop offset="0.03125" stop-color="#0000a7"/><stop offset="0.04688" stop-color="#0000a7"/><stop offset="0.04688" stop-color="#0000b7"/><stop offset="0.06250" stop-color="#0000b7"/><stop offset="0.06250" stop-color="#0000c7"/><stop offset="0.07812" stop-color="#0000c7"/><stop offset="0.07812" stop-color="#0000d7"/><stop offset="0.09375" stop-color="#0000d7"/><stop offset="0.09375" stop-color="#0000e7"/><stop offset="0.10938" stop-color="#0000e7"/><stop offset="0.10938" stop-color="#0000f7"/><stop offset="0.12500" stop-color="#0000f7"/><stop offset="0.12500" stop-color="#0008ff"/><stop offset="0.14062" stop-color="#0008ff"/><stop offset="0.14062" stop-color="#0018ff"/><stop offset="0.15625" stop-color="#0018ff"/><stop offset="0.15625" stop-color="#0028ff"/><stop offset="0.17188" stop-color="#0028ff"/><stop offset="0.17188" stop-color="#0038ff"/><stop offset="0.18750" stop-color="#0038ff"/><stop offset="0.18750" stop-color="#0048ff"/><stop offset="0.20312" stop-color="#0048ff"/><stop offset="0.20312" stop-color="#0058ff"/><stop offset="0.21875" stop-color="#0058ff"/><stop offset="0.21875" stop-color="#0068ff"/><stop offset="0.23438" stop-color="#0068ff"/><stop offset="0.23438" stop-color="#0078ff"/><stop offset="0.25000" stop-color="#0078ff"/><stop offset="0.25000" stop-color="#0087ff"/><stop offset="0.26562" stop-color="#0087ff"/><stop offset="0.26562" stop-color="#0097ff"/><stop offset="0.28125" stop-color="#0097ff"/><stop offset="0.28125" stop-color="#00a7ff"/><stop offset="0.29688" stop-color="#00a7ff"/><stop offset="0.29688" stop-color="#00b7ff"/><stop offset="0.31250" stop-color="#00b7ff"/><stop offset="0.31250" stop-color="#00c7ff"/><stop offset="0.32812" stop-color="#00c7ff"/><stop offset="0.32812" stop-color="#00d7ff"/><stop offset="0.34375" stop-color="#00d7ff"/><stop offset="0.34375" stop-color="#00e7ff"/><stop offset="0.35938" stop-color="#00e7ff"/><stop offset="0.35938" stop-color="#00f7ff"/><stop offset="0.37500" stop-color="#00f7ff"/><stop offset="0.37500" stop-color="#08fff7"/><stop offset="0.39062" stop-color="#08fff7"/><stop offset="0.39062" stop-color="#18ffe7"/><stop offset="0.40625" stop-color="#18ffe7"/><stop offset="0.40625" stop-color="#28ffd7"/><stop offset="0.42188" stop-color="#28ffd7"/><stop offset="0.42188" stop-color="#38ffc7"/><stop offset="0.43750" stop-color="#38ffc7"/><stop offset="0.43750" stop-color="#48ffb7"/><stop offset="0.45312" stop-color="#48ffb7"/><stop offset="0.45312" stop-color="#58ffa7"/><stop offset="0.46875" stop-color="#58ffa7"/><stop offset="0.46875" stop-color="#68ff97"/><stop offset="0.48438" stop-color="#68ff97"/><stop offset="0.48438" stop-color="#78ff87"/><stop offset="0.50000" stop-color="#78ff87"/><stop offset="0.50000" stop-color="#87ff78"/><stop offset="0.51562" stop-color="#87ff78"/><stop offset="0.51562" stop-color="#97ff68"/><stop offset="0.53125" stop-color="#97ff68"/><stop offset="0.53125" stop-color="#a7ff58"/><stop offset="0.54688" stop-color="#a7ff58"/><stop offset="0.54688" stop-color="#b7ff48"/><stop offset="0.56250" stop-color="#b7ff48"/><stop offset="0.56250" stop-color="#c7ff38"/><stop offset="0.57812" stop-color="#c7ff38"/><stop offset="0.57812" stop-color="#d7ff28"/><stop offset="0.59375" stop-color="#d7ff28"/><stop offset="0.59375" stop-color="#e7ff18"/><stop offset="0.60938" stop-color="#e7ff18"/><stop offset="0.60938" stop-color="#f7ff08"/><stop offset="0.62500" stop-color="#f7ff08"/><stop offset="0.62500" stop-color="#fff700"/><stop offset="0.64062" stop-color="#fff700"/><stop offset="0.64062" stop-color="#ffe700"/><stop offset="0.65625" stop-color="#ffe700"/><stop offset="0.65625" stop-color="#ffd700"/><stop offset="0.67188" stop-color="#ffd700"/><stop offset="0.67188" stop-color="#ffc700"/><stop offset="0.68750" stop-color="#ffc700"/><stop offset="0.68750" stop-color="#ffb700"/><stop offset="0.70312" stop-color="#ffb700"/><stop offset="0.70312" stop-color="#ffa700"/><stop offset="0.71875" stop-color="#ffa700"/><stop offset="0.71875" stop-color="#ff9700"/><stop offset="0.73438" stop-color="#ff9700"/><stop offset="0.73438" stop-color="#ff8700"/><stop offset="0.75000" stop-color="#ff8700"/><stop offset="0.75000" stop-color="#ff7800"/><stop offset="0.76562" stop-color="#ff7800"/><stop offset="0.76562" stop-color="#ff6800"/><stop offset="0.78125" stop-color="#ff6800"/><stop offset="0.78125" stop-color="#ff5800"/><stop offset="0.79688" stop-color="#ff5800"/><stop offset="0.79688" stop-color="#ff4800"/><stop offset="0.81250" stop-color="#ff4800"/><stop offset="0.81250" stop-color="#ff3800"/><stop offset="0.82812" stop-color="#ff3800"/><stop offset="0.82812" stop-color="#ff2800"/><stop offset="0.84375" stop-color="#ff2800"/><stop offset="0.84375" stop-color="#ff1800"/><stop offset="0.85938" stop-color="#ff1800"/><stop offset="0.85938" stop-color="#ff0800"/><stop offset="0.87500" stop-color="#ff0800"/><stop offset="0.87500" stop-color="#f70000"/><stop offset="0.89062" stop-color="#f70000"/><stop offset="0.89062" stop-color="#e70000"/><stop offset="0.90625" stop-color="#e70000"/><stop offset="0.90625" stop-color="#d70000"/><stop offset="0.92188" stop-color="#d70000"/><stop offset="0.92188" stop-color="#c70000"/><stop offset="0.93750" stop-color="#c70000"/><stop offset="0.93750" stop-color="#b70000"/><stop offset="0.95312" stop-color="#b70000"/><stop offset="0.95312" stop-color="#a70000"/><stop offset="0.96875" stop-color="#a70000"/><stop offset="0.96875" stop-color="#970000"/><stop offset="0.98438" stop-color="#970000"/><stop offset="0.98438" stop-color="#870000"/><stop offset="1.00000" stop-color="#870000"/></linearGradient></defs>
<line x1="276.00" y1="694.75" x2="276.00" y2="689.75" stroke="#262626" stroke-width="1.70"/>
<line x1="276.00" y1="90.10" x2="276.00" y2="95.10" stroke="#262626" stroke-width="1.70"/>
<line x1="428.00" y1="694.75" x2="428.00" y2="689.75" stroke="#262626" stroke-width="1.70"/>
<line x1="428.00" y1="90.10" x2="428.00" y2="95.10" stroke="#262626" stroke-width="1.70"/>
<line x1="124.00" y1="241.26" x2="129.00" y2="241.26" stroke="#262626" stroke-width="1.70"/>
<line x1="504.00" y1="241.26" x2="499.00" y2="241.26" stroke="#262626" stroke-width="1.70"/>
<line x1="124.00" y1="392.42" x2="129.00" y2="392.42" stroke="#262626" stroke-width="1.70"/>
<line x1="504.00" y1="392.42" x2="499.00" y2="392.42" stroke="#262626" stroke-width="1.70"/>
<line x1="124.00" y1="543.59" x2="129.00" y2="543.59" stroke="#262626" stroke-width="1.70"/>
<line x1="504.00" y1="543.59" x2="499.00" y2="543.59" stroke="#262626" stroke-width="1.70"/>
<rect x="124.00" y="90.10" width="380.00" height="604.65" fill="none" stroke="#222" stroke-width="1.9"/>
<path d="M197.0 99.4 L199.6 97.9 L202.4 96.5 L205.2 95.3 L208.0 94.2 L211.0 93.3 L214.0 92.5 L217.0 91.8 L220.1 91.3 L223.3 90.9 L226.5 90.6 L229.7 90.4 L233.0 90.4 L236.3 90.5 L239.6 90.6 L242.9 90.9 L246.2 91.3 L249.5 91.8 L252.8 92.4 L256.1 93.0 L259.4 93.8 L262.7 94.6 L265.9 95.5 L269.2 96.5 L272.3 97.6 L275.5 98.7 L278.6 99.9 L281.6 101.2 L284.6 102.5 L287.6 103.9 L290.5 105.3 L293.4 106.8 L296.2 108.4 L299.0 110.0 L301.8 111.6 L304.6 113.3 L307.3 115.0 L310.0 116.7 L312.7 118.5 L315.3 120.3 L318.0 122.1 L320.6 124.0 L323.2 125.9 L325.8 127.8 L328.3 129.7 L330.9 131.7 L333.4 133.6 L335.9 135.6 L338.4 137.7 L340.9 139.7 L343.4 141.8 L345.8 143.8 L348.2 145.9 L350.6 148.1 L353.0 150.2 L355.4 152.4 L357.7 154.6 L360.0 156.8 L362.3 159.1 L364.6 161.3 L366.8 163.6 L369.0 165.9 L371.2 168.3 L373.4 170.6 L375.5 173.0 L377.6 175.4 L379.7 177.9 L381.8 180.3 L383.8 182.8 L385.8 185.3 L387.8 187.8 L389.7 190.4 L391.6 192.9 L393.5 195.5 L395.4 198.2 L397.2 200.8 L399.0 203.5 L400.8 206.2 L402.5 208.9 L404.2 211.7 L405.9 214.4 L407.5 217.2 L409.1 220.0 L410.6 222.9 L412.2 225.7 L413.7 228.6 L415.1 231.5 L416.6 234.4 L417.9 237.4 L419.3 240.3 L420.6 243.3 L421.9 246.3 L423.2 249.3 L424.4 252.3 L425.6 255.4 L426.7 258.4 L427.8 261.5 L428.9 264.6 L429.9 267.7 L430.9 270.8 L431.9 273.9 L432.8 277.1 L433.7 280.2 L434.6 283.4 L435.4 286.5 L436.2 289.7 L436.9 292.9 L437.6 296.1 L438.3 299.3 L438.9 302.5 L439.5 305.7 L440.0 308.9 L440.6 312.2 L441.0 315.4 L441.5 318.6 L441.8 321.9 L442.2 325.1 L442.5 328.3 L442.8 331.6 L443.0 334.8 L443.2 338.1 L443.4 341.3 L443.5 344.6 L443.6 347.8 L443.6 351.0 L443.6 354.3 L443.5 357.5 L443.4 360.7 L443.3 364.0 L443.1 367.2 L442.9 370.4 L442.7 373.6 L442.4 376.8 L442.0 380.0 L441.6 383.2 L441.2 386.4 L440.7 389.6 L440.2 392.8 L439.7 395.9 L439.1 399.1 L438.4 402.2 L437.7 405.3 L437.0 408.4 L436.2 411.5 L435.4 414.6 L434.6 417.7 L433.7 420.8 L432.8 423.8 L431.8 426.9 L430.8 429.9 L429.7 432.9 L428.7 435.9 L427.5 438.9 L426.4 441.9 L425.2 444.9 L424.0 447.9 L422.7 450.8 L421.4 453.7 L420.1 456.7 L418.7 459.6 L417.3 462.4 L415.9 465.3 L414.4 468.2 L412.9 471.0 L411.4 473.9 L409.8 476.7 L408.2 479.5 L406.6 482.3 L404.9 485.1 L403.2 487.8 L401.5 490.6 L399.8 493.3 L398.0 496.0 L396.2 498.7 L394.4 501.4 L392.5 504.0 L390.6 506.7 L388.7 509.3 L386.8 511.9 L384.8 514.5 L382.8 517.1 L380.8 519.6 L378.8 522.2 L376.7 524.7 L374.6 527.2 L372.5 529.7 L370.4 532.1 L368.2 534.6 L366.1 537.0 L363.9 539.4 L361.6 541.8 L359.4 544.2 L357.2 546.5 L354.9 548.9 L352.6 551.2 L350.3 553.5 L347.9 555.7 L345.6 558.0 L343.2 560.2 L340.8 562.4 L338.4 564.6 L336.0 566.8 L333.6 568.9 L331.1 571.1 L328.7 573.2 L326.2 575.2 L323.7 577.3 L321.2 579.3 L318.7 581.4 L316.1 583.4 L313.6 585.4 L311.0 587.3 L308.4 589.3 L305.9 591.2 L303.3 593.1 L300.7 595.0 L298.0 596.9 L295.4 598.8 L292.8 600.7 L290.1 602.5 L287.5 604.4 L284.8 606.2 L282.1 608.0 L279.5 609.8 L276.8 611.6 L274.1 613.3 L271.4 615.1 L268.7 616.9 L265.9 618.6 L263.2 620.3 L260.5 622.1 L257.8 623.8 L255.0 625.5 L252.3 627.2 L249.5 628.8 L246.6 630.4 L243.7 631.8 L240.7 633.0 L237.6 634.1 L234.6 635.1 L231.6 636.2 L228.5 637.3 L225.3 637.9 L222.0 638.2 L218.7 638.2 L215.5 637.7 L212.6 636.4 L210.2 634.2 L208.0 631.7 L206.1 629.0 L204.4 626.2 L203.0 623.3 L201.6 620.4 L200.3 617.4 L199.2 614.4 L198.0 611.4 L196.9 608.3 L195.9 605.3 L194.9 602.2 L193.9 599.1 L192.9 596.0 L191.9 592.9 L190.9 589.8 L190.0 586.7 L189.0 583.6 L188.0 580.5 L187.1 577.4 L186.1 574.3 L185.1 571.2 L184.2 568.1 L183.2 565.1 L182.3 562.0 L181.3 558.9 L180.4 555.8 L179.4 552.7 L178.5 549.6 L177.6 546.5 L176.6 543.4 L175.7 540.4 L174.8 537.3 L173.9 534.2 L173.0 531.1 L172.1 528.0 L171.2 524.9 L170.3 521.8 L169.5 518.7 L168.6 515.6 L167.8 512.5 L166.9 509.4 L166.1 506.2 L165.3 503.1 L164.5 500.0 L163.7 496.9 L162.9 493.7 L162.1 490.6 L161.3 487.5 L160.6 484.3 L159.8 481.2 L159.1 478.0 L158.4 474.9 L157.7 471.7 L157.0 468.6 L156.3 465.4 L155.7 462.3 L155.0 459.1 L154.4 455.9 L153.8 452.7 L153.1 449.6 L152.5 446.4 L152.0 443.2 L151.4 440.0 L150.8 436.8 L150.3 433.6 L149.7 430.4 L149.2 427.2 L148.7 424.0 L148.2 420.8 L147.7 417.6 L147.3 414.4 L146.8 411.2 L146.4 408.0 L145.9 404.8 L145.5 401.6 L145.1 398.3 L144.7 395.1 L144.3 391.9 L144.0 388.7 L143.6 385.5 L143.3 382.2 L143.0 379.0 L142.6 375.8 L142.4 372.6 L142.1 369.3 L141.8 366.1 L141.5 362.9 L141.3 359.6 L141.1 356.4 L140.9 353.2 L140.7 349.9 L140.5 346.7 L140.3 343.5 L140.2 340.2 L140.0 337.0 L139.9 333.8 L139.8 330.5 L139.7 327.3 L139.6 324.1 L139.5 320.8 L139.5 317.6 L139.4 314.4 L139.4 311.1 L139.4 307.9 L139.4 304.7 L139.4 301.4 L139.4 298.2 L139.5 295.0 L139.5 291.7 L139.6 288.5 L139.7 285.3 L139.8 282.1 L139.9 278.8 L140.0 275.6 L140.2 272.4 L140.4 269.2 L140.5 266.0 L140.7 262.7 L140.9 259.5 L141.2 256.3 L141.4 253.1 L141.6 249.9 L141.9 246.7 L142.2 243.5 L142.5 240.3 L142.8 237.1 L143.1 233.9 L143.5 230.7 L143.9 227.5 L144.2 224.3 L144.6 221.1 L145.0 217.9 L145.5 214.7 L145.9 211.6 L146.4 208.4 L146.9 205.2 L147.5 202.0 L148.0 198.9 L148.6 195.7 L149.2 192.6 L149.9 189.4 L150.6 186.3 L151.3 183.1 L152.1 180.0 L152.9 176.8 L153.7 173.7 L154.6 170.5 L155.5 167.4 L156.4 164.3 L157.5 161.2 L158.5 158.1 L159.6 154.9 L160.8 151.8 L162.0 148.7 L163.2 145.6 L164.5 142.5 L165.9 139.5 L167.3 136.4 L168.8 133.4 L170.3 130.5 L171.9 127.5 L173.6 124.7 L175.4 121.9 L177.2 119.2 L179.1 116.6 L181.0 114.0 L183.1 111.6 L185.2 109.2 L187.4 107.0 L189.6 104.9 L192.0 102.9 L194.5 101.1 Z" fill="none" stroke="#000028" stroke-opacity="0.3" stroke-width="1.0"/>
<rect x="529.50" y="89.80" width="51.50" height="604.70" fill="url(#jet)" stroke="#262626" stroke-width="1.3"/>
<line x1="865.58" y1="693.70" x2="865.58" y2="688.70" stroke="#262626" stroke-width="1.70"/>
<line x1="865.58" y1="82.10" x2="865.58" y2="87.10" stroke="#262626" stroke-width="1.70"/>
<line x1="1018.66" y1="693.70" x2="1018.66" y2="688.70" stroke="#262626" stroke-width="1.70"/>
<line x1="1018.66" y1="82.10" x2="1018.66" y2="87.10" stroke="#262626" stroke-width="1.70"/>
<line x1="712.50" y1="235.00" x2="717.50" y2="235.00" stroke="#262626" stroke-width="1.70"/>
<line x1="1095.20" y1="235.00" x2="1090.20" y2="235.00" stroke="#262626" stroke-width="1.70"/>
<line x1="712.50" y1="387.90" x2="717.50" y2="387.90" stroke="#262626" stroke-width="1.70"/>
<line x1="1095.20" y1="387.90" x2="1090.20" y2="387.90" stroke="#262626" stroke-width="1.70"/>
<line x1="712.50" y1="540.80" x2="717.50" y2="540.80" stroke="#262626" stroke-width="1.70"/>
<line x1="1095.20" y1="540.80" x2="1090.20" y2="540.80" stroke="#262626" stroke-width="1.70"/>
<rect x="712.50" y="82.10" width="382.70" height="611.60" fill="none" stroke="#222" stroke-width="1.9"/>
<path d="M786.0 91.5 L788.7 90.0 L791.4 88.6 L794.2 87.4 L797.1 86.3 L800.1 85.3 L803.1 84.5 L806.2 83.9 L809.3 83.3 L812.5 82.9 L815.7 82.6 L819.0 82.5 L822.2 82.4 L825.6 82.5 L828.9 82.7 L832.2 82.9 L835.6 83.3 L838.9 83.8 L842.2 84.4 L845.6 85.1 L848.9 85.8 L852.2 86.7 L855.4 87.6 L858.7 88.6 L861.9 89.7 L865.0 90.8 L868.2 92.0 L871.2 93.3 L874.2 94.7 L877.2 96.1 L880.2 97.5 L883.1 99.0 L885.9 100.6 L888.8 102.2 L891.6 103.8 L894.4 105.5 L897.1 107.3 L899.8 109.0 L902.5 110.8 L905.2 112.7 L907.8 114.5 L910.5 116.4 L913.1 118.3 L915.7 120.2 L918.3 122.2 L920.8 124.1 L923.4 126.1 L925.9 128.2 L928.4 130.2 L930.9 132.3 L933.4 134.3 L935.9 136.5 L938.3 138.6 L940.7 140.7 L943.1 142.9 L945.5 145.1 L947.8 147.3 L950.2 149.6 L952.5 151.9 L954.8 154.1 L957.0 156.5 L959.3 158.8 L961.5 161.2 L963.6 163.6 L965.8 166.0 L967.9 168.4 L970.0 170.9 L972.1 173.3 L974.2 175.9 L976.2 178.4 L978.2 180.9 L980.1 183.5 L982.1 186.1 L984.0 188.8 L985.8 191.4 L987.7 194.1 L989.5 196.8 L991.2 199.5 L993.0 202.3 L994.7 205.1 L996.4 207.9 L998.0 210.7 L999.6 213.5 L1001.2 216.4 L1002.7 219.3 L1004.2 222.2 L1005.7 225.1 L1007.1 228.1 L1008.5 231.1 L1009.9 234.1 L1011.2 237.1 L1012.5 240.1 L1013.8 243.1 L1015.0 246.2 L1016.2 249.3 L1017.4 252.4 L1018.5 255.5 L1019.6 258.6 L1020.6 261.7 L1021.6 264.9 L1022.6 268.0 L1023.5 271.2 L1024.4 274.4 L1025.3 277.6 L1026.1 280.8 L1026.9 284.0 L1027.6 287.2 L1028.3 290.5 L1029.0 293.7 L1029.6 296.9 L1030.2 300.2 L1030.8 303.4 L1031.3 306.7 L1031.8 310.0 L1032.2 313.2 L1032.6 316.5 L1033.0 319.8 L1033.3 323.1 L1033.6 326.4 L1033.8 329.6 L1034.0 332.9 L1034.1 336.2 L1034.3 339.5 L1034.3 342.8 L1034.4 346.0 L1034.4 349.3 L1034.3 352.6 L1034.2 355.9 L1034.1 359.1 L1033.9 362.4 L1033.7 365.6 L1033.4 368.9 L1033.1 372.1 L1032.8 375.4 L1032.4 378.6 L1032.0 381.8 L1031.5 385.0 L1031.0 388.2 L1030.4 391.4 L1029.8 394.6 L1029.1 397.8 L1028.5 400.9 L1027.7 404.1 L1027.0 407.2 L1026.1 410.4 L1025.3 413.5 L1024.4 416.6 L1023.5 419.7 L1022.5 422.7 L1021.5 425.8 L1020.4 428.9 L1019.3 431.9 L1018.2 434.9 L1017.0 438.0 L1015.8 441.0 L1014.6 444.0 L1013.3 446.9 L1012.0 449.9 L1010.7 452.9 L1009.3 455.8 L1007.9 458.7 L1006.4 461.6 L1005.0 464.5 L1003.4 467.4 L1001.9 470.3 L1000.3 473.1 L998.7 476.0 L997.1 478.8 L995.4 481.6 L993.7 484.4 L992.0 487.2 L990.2 489.9 L988.4 492.7 L986.6 495.4 L984.8 498.1 L982.9 500.8 L981.0 503.5 L979.1 506.1 L977.1 508.8 L975.2 511.4 L973.2 514.0 L971.1 516.6 L969.1 519.1 L967.0 521.7 L964.9 524.2 L962.8 526.7 L960.6 529.2 L958.5 531.7 L956.3 534.2 L954.1 536.6 L951.8 539.0 L949.6 541.4 L947.3 543.8 L945.0 546.2 L942.7 548.5 L940.4 550.8 L938.0 553.1 L935.7 555.4 L933.3 557.6 L930.9 559.9 L928.4 562.1 L926.0 564.3 L923.6 566.4 L921.1 568.6 L918.6 570.7 L916.1 572.8 L913.6 574.9 L911.1 577.0 L908.5 579.0 L906.0 581.0 L903.4 583.1 L900.8 585.0 L898.2 587.0 L895.6 589.0 L893.0 590.9 L890.4 592.8 L887.8 594.8 L885.1 596.7 L882.5 598.5 L879.8 600.4 L877.1 602.3 L874.5 604.1 L871.8 605.9 L869.1 607.8 L866.4 609.6 L863.6 611.4 L860.9 613.1 L858.2 614.9 L855.5 616.7 L852.7 618.4 L850.0 620.2 L847.2 621.9 L844.5 623.7 L841.7 625.4 L838.9 627.0 L836.0 628.6 L833.1 630.0 L830.1 631.2 L827.0 632.3 L823.9 633.4 L820.8 634.5 L817.8 635.5 L814.5 636.2 L811.2 636.5 L807.8 636.5 L804.6 636.0 L801.8 634.6 L799.3 632.5 L797.1 629.9 L795.2 627.2 L793.5 624.3 L792.0 621.4 L790.7 618.5 L789.4 615.5 L788.2 612.4 L787.0 609.4 L785.9 606.3 L784.9 603.2 L783.9 600.1 L782.9 596.9 L781.9 593.8 L780.9 590.7 L779.9 587.5 L778.9 584.4 L778.0 581.3 L777.0 578.1 L776.0 575.0 L775.1 571.9 L774.1 568.8 L773.1 565.6 L772.2 562.5 L771.2 559.4 L770.2 556.3 L769.3 553.1 L768.3 550.0 L767.4 546.9 L766.5 543.8 L765.5 540.7 L764.6 537.5 L763.7 534.4 L762.8 531.3 L761.8 528.1 L760.9 525.0 L760.1 521.9 L759.2 518.7 L758.3 515.6 L757.4 512.5 L756.6 509.3 L755.7 506.2 L754.9 503.0 L754.1 499.9 L753.2 496.7 L752.4 493.6 L751.6 490.4 L750.9 487.2 L750.1 484.0 L749.3 480.9 L748.6 477.7 L747.9 474.5 L747.1 471.3 L746.4 468.1 L745.7 464.9 L745.1 461.7 L744.4 458.5 L743.7 455.3 L743.1 452.1 L742.5 448.9 L741.9 445.7 L741.2 442.5 L740.7 439.2 L740.1 436.0 L739.5 432.8 L739.0 429.6 L738.4 426.3 L737.9 423.1 L737.4 419.9 L736.9 416.6 L736.4 413.4 L735.9 410.1 L735.5 406.9 L735.0 403.6 L734.6 400.4 L734.2 397.1 L733.7 393.9 L733.4 390.6 L733.0 387.4 L732.6 384.1 L732.3 380.9 L731.9 377.6 L731.6 374.3 L731.3 371.1 L731.0 367.8 L730.7 364.5 L730.4 361.3 L730.2 358.0 L729.9 354.7 L729.7 351.5 L729.5 348.2 L729.3 344.9 L729.1 341.7 L728.9 338.4 L728.8 335.1 L728.6 331.8 L728.5 328.6 L728.4 325.3 L728.3 322.0 L728.2 318.7 L728.1 315.5 L728.1 312.2 L728.0 308.9 L728.0 305.7 L728.0 302.4 L728.0 299.1 L728.0 295.9 L728.0 292.6 L728.1 289.3 L728.1 286.1 L728.2 282.8 L728.3 279.5 L728.4 276.3 L728.5 273.0 L728.7 269.7 L728.8 266.5 L729.0 263.2 L729.1 260.0 L729.3 256.7 L729.6 253.5 L729.8 250.2 L730.0 247.0 L730.3 243.7 L730.5 240.5 L730.8 237.2 L731.1 234.0 L731.5 230.8 L731.8 227.5 L732.1 224.3 L732.5 221.1 L732.9 217.8 L733.3 214.6 L733.7 211.4 L734.1 208.2 L734.6 205.0 L735.1 201.8 L735.6 198.5 L736.1 195.3 L736.7 192.1 L737.3 188.9 L737.9 185.7 L738.6 182.5 L739.3 179.4 L740.0 176.2 L740.8 173.0 L741.6 169.8 L742.4 166.6 L743.3 163.5 L744.2 160.3 L745.2 157.1 L746.2 154.0 L747.2 150.8 L748.4 147.7 L749.5 144.5 L750.7 141.4 L752.0 138.3 L753.3 135.1 L754.7 132.0 L756.1 129.0 L757.6 125.9 L759.2 122.9 L760.8 120.0 L762.5 117.1 L764.2 114.3 L766.0 111.5 L767.9 108.9 L769.9 106.3 L772.0 103.8 L774.1 101.4 L776.3 99.2 L778.6 97.1 L781.0 95.1 L783.5 93.2 Z" fill="none" stroke="#000028" stroke-opacity="0.3" stroke-width="1.0"/>
<rect x="1123.00" y="79.60" width="51.00" height="612.00" fill="url(#jet)" stroke="#262626" stroke-width="1.3"/>
<line x1="1496.96" y1="695.20" x2="1496.96" y2="690.20" stroke="#262626" stroke-width="1.70"/>
<line x1="1496.96" y1="92.80" x2="1496.96" y2="97.80" stroke="#262626" stroke-width="1.70"/>
<line x1="1646.92" y1="695.20" x2="1646.92" y2="690.20" stroke="#262626" stroke-width="1.70"/>
<line x1="1646.92" y1="92.80" x2="1646.92" y2="97.80" stroke="#262626" stroke-width="1.70"/>
<line x1="1347.00" y1="243.40" x2="1352.00" y2="243.40" stroke="#262626" stroke-width="1.70"/>
<line x1="1721.90" y1="243.40" x2="1716.90" y2="243.40" stroke="#262626" stroke-width="1.70"/>
<line x1="1347.00" y1="394.00" x2="1352.00" y2="394.00" stroke="#262626" stroke-width="1.70"/>
<line x1="1721.90" y1="394.00" x2="1716.90" y2="394.00" stroke="#262626" stroke-width="1.70"/>
<line x1="1347.00" y1="544.60" x2="1352.00" y2="544.60" stroke="#262626" stroke-width="1.70"/>
<line x1="1721.90" y1="544.60" x2="1716.90" y2="544.60" stroke="#262626" stroke-width="1.70"/>
<rect x="1347.00" y="92.80" width="374.90" height="602.40" fill="none" stroke="#222" stroke-width="1.9"/>
<path d="M1419.0 102.1 L1421.6 100.6 L1424.3 99.2 L1427.1 98.0 L1429.9 96.9 L1432.8 96.0 L1435.8 95.2 L1438.8 94.5 L1441.8 94.0 L1445.0 93.6 L1448.1 93.3 L1451.3 93.1 L1454.5 93.1 L1457.7 93.2 L1461.0 93.3 L1464.3 93.6 L1467.5 94.0 L1470.8 94.5 L1474.1 95.1 L1477.4 95.7 L1480.6 96.5 L1483.8 97.3 L1487.0 98.2 L1490.2 99.2 L1493.3 100.3 L1496.4 101.4 L1499.5 102.6 L1502.5 103.9 L1505.5 105.2 L1508.4 106.6 L1511.3 108.0 L1514.1 109.5 L1516.9 111.0 L1519.7 112.6 L1522.4 114.2 L1525.1 115.9 L1527.8 117.6 L1530.5 119.3 L1533.1 121.1 L1535.8 122.9 L1538.4 124.7 L1540.9 126.6 L1543.5 128.5 L1546.0 130.4 L1548.6 132.3 L1551.1 134.2 L1553.6 136.2 L1556.1 138.2 L1558.5 140.2 L1561.0 142.2 L1563.4 144.3 L1565.8 146.3 L1568.2 148.4 L1570.6 150.6 L1572.9 152.7 L1575.2 154.9 L1577.5 157.1 L1579.8 159.3 L1582.1 161.5 L1584.3 163.8 L1586.5 166.0 L1588.7 168.4 L1590.9 170.7 L1593.0 173.0 L1595.1 175.4 L1597.2 177.8 L1599.3 180.2 L1601.3 182.7 L1603.3 185.1 L1605.3 187.6 L1607.2 190.2 L1609.2 192.7 L1611.1 195.3 L1612.9 197.9 L1614.8 200.5 L1616.6 203.1 L1618.3 205.8 L1620.1 208.5 L1621.8 211.2 L1623.4 213.9 L1625.1 216.7 L1626.7 219.4 L1628.3 222.3 L1629.8 225.1 L1631.3 227.9 L1632.8 230.8 L1634.2 233.7 L1635.6 236.6 L1637.0 239.5 L1638.3 242.5 L1639.6 245.4 L1640.9 248.4 L1642.2 251.4 L1643.4 254.4 L1644.5 257.5 L1645.7 260.5 L1646.7 263.6 L1647.8 266.7 L1648.8 269.7 L1649.8 272.8 L1650.8 276.0 L1651.7 279.1 L1652.6 282.2 L1653.4 285.4 L1654.2 288.5 L1655.0 291.7 L1655.7 294.8 L1656.4 298.0 L1657.1 301.2 L1657.7 304.4 L1658.3 307.6 L1658.8 310.8 L1659.3 314.0 L1659.8 317.2 L1660.2 320.5 L1660.6 323.7 L1660.9 326.9 L1661.2 330.1 L1661.5 333.4 L1661.7 336.6 L1661.9 339.8 L1662.1 343.1 L1662.2 346.3 L1662.3 349.5 L1662.3 352.8 L1662.3 356.0 L1662.3 359.2 L1662.2 362.4 L1662.0 365.7 L1661.9 368.9 L1661.6 372.1 L1661.4 375.3 L1661.1 378.5 L1660.8 381.7 L1660.4 384.8 L1659.9 388.0 L1659.5 391.2 L1659.0 394.3 L1658.4 397.5 L1657.8 400.6 L1657.2 403.7 L1656.5 406.8 L1655.8 409.9 L1655.0 413.0 L1654.2 416.1 L1653.4 419.2 L1652.5 422.2 L1651.6 425.3 L1650.7 428.3 L1649.7 431.3 L1648.6 434.4 L1647.6 437.4 L1646.5 440.3 L1645.3 443.3 L1644.1 446.3 L1642.9 449.2 L1641.7 452.2 L1640.4 455.1 L1639.1 458.0 L1637.7 460.9 L1636.4 463.8 L1634.9 466.6 L1633.5 469.5 L1632.0 472.3 L1630.5 475.1 L1629.0 477.9 L1627.4 480.7 L1625.8 483.5 L1624.1 486.3 L1622.5 489.0 L1620.8 491.8 L1619.1 494.5 L1617.3 497.2 L1615.5 499.9 L1613.7 502.5 L1611.9 505.2 L1610.0 507.8 L1608.2 510.4 L1606.2 513.0 L1604.3 515.6 L1602.3 518.2 L1600.4 520.7 L1598.4 523.3 L1596.3 525.8 L1594.3 528.3 L1592.2 530.7 L1590.1 533.2 L1588.0 535.6 L1585.8 538.1 L1583.6 540.5 L1581.5 542.8 L1579.3 545.2 L1577.0 547.5 L1574.8 549.9 L1572.5 552.2 L1570.2 554.5 L1567.9 556.7 L1565.6 559.0 L1563.3 561.2 L1560.9 563.4 L1558.5 565.6 L1556.2 567.7 L1553.8 569.9 L1551.3 572.0 L1548.9 574.1 L1546.5 576.1 L1544.0 578.2 L1541.5 580.2 L1539.0 582.2 L1536.5 584.2 L1534.0 586.2 L1531.5 588.2 L1529.0 590.1 L1526.4 592.1 L1523.9 594.0 L1521.3 595.9 L1518.7 597.7 L1516.1 599.6 L1513.5 601.5 L1510.9 603.3 L1508.3 605.1 L1505.7 607.0 L1503.0 608.8 L1500.4 610.5 L1497.7 612.3 L1495.1 614.1 L1492.4 615.9 L1489.7 617.6 L1487.0 619.3 L1484.4 621.1 L1481.7 622.8 L1479.0 624.5 L1476.3 626.2 L1473.6 627.9 L1470.8 629.5 L1468.0 631.0 L1465.1 632.4 L1462.2 633.7 L1459.1 634.7 L1456.1 635.8 L1453.1 636.9 L1450.1 637.9 L1447.0 638.6 L1443.7 638.9 L1440.4 638.9 L1437.2 638.4 L1434.4 637.0 L1432.0 634.9 L1429.9 632.4 L1428.0 629.7 L1426.4 626.9 L1424.9 624.0 L1423.6 621.1 L1422.3 618.1 L1421.1 615.1 L1420.0 612.1 L1418.9 609.1 L1417.9 606.0 L1416.9 603.0 L1415.9 599.9 L1415.0 596.8 L1414.0 593.7 L1413.0 590.6 L1412.1 587.5 L1411.1 584.5 L1410.2 581.4 L1409.2 578.3 L1408.3 575.2 L1407.3 572.1 L1406.4 569.1 L1405.4 566.0 L1404.5 562.9 L1403.6 559.8 L1402.6 556.8 L1401.7 553.7 L1400.8 550.6 L1399.9 547.5 L1398.9 544.5 L1398.0 541.4 L1397.1 538.3 L1396.2 535.2 L1395.3 532.1 L1394.5 529.0 L1393.6 526.0 L1392.7 522.9 L1391.9 519.8 L1391.0 516.7 L1390.2 513.6 L1389.3 510.5 L1388.5 507.4 L1387.7 504.3 L1386.9 501.2 L1386.1 498.1 L1385.3 494.9 L1384.6 491.8 L1383.8 488.7 L1383.1 485.6 L1382.4 482.4 L1381.6 479.3 L1380.9 476.2 L1380.3 473.0 L1379.6 469.9 L1378.9 466.7 L1378.2 463.6 L1377.6 460.4 L1377.0 457.3 L1376.4 454.1 L1375.8 450.9 L1375.2 447.7 L1374.6 444.6 L1374.0 441.4 L1373.5 438.2 L1372.9 435.0 L1372.4 431.9 L1371.9 428.7 L1371.4 425.5 L1370.9 422.3 L1370.4 419.1 L1369.9 415.9 L1369.5 412.7 L1369.1 409.5 L1368.6 406.3 L1368.2 403.1 L1367.8 399.9 L1367.4 396.7 L1367.1 393.5 L1366.7 390.3 L1366.4 387.1 L1366.0 383.8 L1365.7 380.6 L1365.4 377.4 L1365.1 374.2 L1364.8 371.0 L1364.6 367.8 L1364.3 364.6 L1364.1 361.3 L1363.9 358.1 L1363.6 354.9 L1363.4 351.7 L1363.3 348.4 L1363.1 345.2 L1362.9 342.0 L1362.8 338.8 L1362.7 335.6 L1362.6 332.3 L1362.5 329.1 L1362.4 325.9 L1362.3 322.7 L1362.2 319.4 L1362.2 316.2 L1362.2 313.0 L1362.2 309.8 L1362.2 306.6 L1362.2 303.3 L1362.2 300.1 L1362.3 296.9 L1362.3 293.7 L1362.4 290.5 L1362.5 287.3 L1362.6 284.0 L1362.7 280.8 L1362.8 277.6 L1363.0 274.4 L1363.1 271.2 L1363.3 268.0 L1363.5 264.8 L1363.7 261.6 L1363.9 258.4 L1364.2 255.2 L1364.4 252.0 L1364.7 248.8 L1365.0 245.6 L1365.3 242.4 L1365.6 239.2 L1365.9 236.0 L1366.2 232.9 L1366.6 229.7 L1367.0 226.5 L1367.4 223.3 L1367.8 220.2 L1368.2 217.0 L1368.6 213.8 L1369.1 210.7 L1369.6 207.5 L1370.1 204.3 L1370.7 201.2 L1371.3 198.0 L1371.9 194.9 L1372.5 191.7 L1373.2 188.6 L1373.9 185.5 L1374.7 182.3 L1375.5 179.2 L1376.3 176.1 L1377.2 172.9 L1378.1 169.8 L1379.0 166.7 L1380.0 163.6 L1381.0 160.5 L1382.1 157.4 L1383.3 154.3 L1384.4 151.2 L1385.7 148.1 L1387.0 145.0 L1388.3 142.0 L1389.7 139.0 L1391.2 136.0 L1392.7 133.0 L1394.3 130.1 L1395.9 127.3 L1397.7 124.5 L1399.5 121.8 L1401.3 119.2 L1403.2 116.6 L1405.3 114.2 L1407.3 111.9 L1409.5 109.6 L1411.8 107.6 L1414.1 105.6 L1416.5 103.8 Z" fill="none" stroke="#000028" stroke-opacity="0.3" stroke-width="1.0"/>
<rect x="1749.50" y="90.30" width="49.20" height="603.60" fill="url(#jet)" stroke="#262626" stroke-width="1.3"/>
<line x1="577.00" y1="127.30" x2="581.00" y2="127.30" stroke="#262626" stroke-width="1.20"/>
<line x1="577.00" y1="269.90" x2="581.00" y2="269.90" stroke="#262626" stroke-width="1.20"/>
<line x1="577.00" y1="413.40" x2="581.00" y2="413.40" stroke="#262626" stroke-width="1.20"/>
<line x1="577.00" y1="556.50" x2="581.00" y2="556.50" stroke="#262626" stroke-width="1.20"/>
<line x1="1170.00" y1="124.50" x2="1174.00" y2="124.50" stroke="#262626" stroke-width="1.20"/>
<line x1="1170.00" y1="266.90" x2="1174.00" y2="266.90" stroke="#262626" stroke-width="1.20"/>
<line x1="1170.00" y1="409.00" x2="1174.00" y2="409.00" stroke="#262626" stroke-width="1.20"/>
<line x1="1170.00" y1="551.20" x2="1174.00" y2="551.20" stroke="#262626" stroke-width="1.20"/>
<line x1="1794.70" y1="168.00" x2="1798.70" y2="168.00" stroke="#262626" stroke-width="1.20"/>
<line x1="1794.70" y1="301.40" x2="1798.70" y2="301.40" stroke="#262626" stroke-width="1.20"/>
<line x1="1794.70" y1="434.70" x2="1798.70" y2="434.70" stroke="#262626" stroke-width="1.20"/>
<line x1="1794.70" y1="565.50" x2="1798.70" y2="565.50" stroke="#262626" stroke-width="1.20"/>
<text stroke="#fff" stroke-width="0.60" x="85.39" y="103.82" font-family="'DejaVu Sans', sans-serif" font-size="39.50" fill="#262626">4</text>
<text stroke="#fff" stroke-width="0.60" x="87.17" y="255.02" font-family="'DejaVu Sans', sans-serif" font-size="39.50" fill="#262626">2</text>
<text stroke="#fff" stroke-width="0.60" x="85.78" y="405.72" font-family="'DejaVu Sans', sans-serif" font-size="39.50" fill="#262626">0</text>
<text stroke="#fff" stroke-width="0.60" x="87.17" y="557.91" font-family="'DejaVu Sans', sans-serif" font-size="39.50" fill="#262626">2</text>
<text transform="translate(61.58 559.10) scale(0.6960 1)" font-family="DejaVu Sans, sans-serif" font-size="40" fill="#262626">−</text>
<text stroke="#fff" stroke-width="0.60" x="85.39" y="710.42" font-family="'DejaVu Sans', sans-serif" font-size="39.50" fill="#262626">4</text>
<text transform="translate(61.58 711.80) scale(0.6960 1)" font-family="DejaVu Sans, sans-serif" font-size="40" fill="#262626">−</text>
<text stroke="#fff" stroke-width="0.60" x="112.07" y="747.00" font-family="'DejaVu Sans', sans-serif" font-size="39.78" fill="#262626">4</text>
<text stroke="#fff" stroke-width="0.60" x="263.17" y="746.40" font-family="'DejaVu Sans', sans-serif" font-size="39.78" fill="#262626">6</text>
<text stroke="#fff" stroke-width="0.60" x="415.27" y="746.40" font-family="'DejaVu Sans', sans-serif" font-size="39.78" fill="#262626">8</text>
<text stroke="#fff" stroke-width="0.60" x="699.34" y="746.70" font-family="'DejaVu Sans', sans-serif" font-size="40.19" fill="#262626">4</text>
<text stroke="#fff" stroke-width="0.60" x="852.44" y="746.10" font-family="'DejaVu Sans', sans-serif" font-size="40.19" fill="#262626">6</text>
<text stroke="#fff" stroke-width="0.60" x="1007.14" y="746.10" font-family="'DejaVu Sans', sans-serif" font-size="40.19" fill="#262626">8</text>
<text x="1332.94" y="747.90" font-family="'DejaVu Sans', sans-serif" font-size="38.27" fill="#262626" stroke="#262626" stroke-width="1.20" stroke-linejoin="round">4</text>
<text x="1484.26" y="747.33" font-family="'DejaVu Sans', sans-serif" font-size="38.27" fill="#262626" stroke="#262626" stroke-width="1.20" stroke-linejoin="round">6</text>
<text x="1636.75" y="747.33" font-family="'DejaVu Sans', sans-serif" font-size="38.27" fill="#262626" stroke="#262626" stroke-width="1.20" stroke-linejoin="round">8</text>
<text transform="translate(253.22 802.10) scale(1.0598 1)" font-family="'DejaVu Sans', sans-serif" font-size="41.29" fill="#262626" stroke="#262626" stroke-width="1.60" stroke-linejoin="round">R [m]</text>
<text transform="translate(841.56 801.60) scale(1.0748 1)" font-family="'DejaVu Sans', sans-serif" font-size="41.29" fill="#262626" stroke="#262626" stroke-width="1.60" stroke-linejoin="round">R [m]</text>
<text transform="translate(1472.79 802.10) scale(1.0673 1)" font-family="'DejaVu Sans', sans-serif" font-size="41.29" fill="#262626" stroke="#262626" stroke-width="1.60" stroke-linejoin="round">R [m]</text>
<text transform="translate(40.80 451.85) rotate(-90) scale(1.0472 1)" font-family="DejaVu Sans, sans-serif" font-size="41.29" fill="#262626" stroke="#262626" stroke-width="1.60" stroke-linejoin="round">Z [m]</text>
<text transform="translate(397.98 136.96) scale(0.9961 1)" font-family="'Liberation Sans', sans-serif" font-size="42.57" font-weight="bold" fill="#000">(a)</text>
<text transform="translate(989.02 136.91) scale(0.9805 1)" font-family="'Liberation Sans', sans-serif" font-size="42.35" font-weight="bold" fill="#000">(b)</text>
<text transform="translate(1596.01 136.88) scale(0.9839 1)" font-family="'Liberation Sans', sans-serif" font-size="42.46" font-weight="bold" fill="#000">(c)</text>
<rect x="336.2" y="594.9" width="165.8" height="86.6" fill="#ffff00"/>
<text transform="translate(354.28 647.54) scale(0.9454 1)" font-family="'Liberation Sans', sans-serif" font-size="45.63" font-weight="bold" fill="#000">VAC</text>
<rect x="942.2" y="600.0" width="126.3" height="85.7" fill="#ffff00"/>
<text transform="translate(958.89 649.25) scale(0.9236 1)" font-family="'Liberation Sans', sans-serif" font-size="45.07" font-weight="bold" fill="#000">PLS</text>
<rect x="1541.0" y="600.0" width="128.0" height="85.7" fill="#ffff00"/>
<text transform="translate(1556.76 649.35) scale(0.9487 1)" font-family="'Liberation Sans', sans-serif" font-size="44.51" font-weight="bold" fill="#000">PLS</text>
<text stroke="#fff" stroke-width="0.60" x="593.57" y="140.88" font-family="'DejaVu Sans', sans-serif" font-size="37.45" fill="#262626">0.2</text>
<text stroke="#fff" stroke-width="0.60" x="593.57" y="283.48" font-family="'DejaVu Sans', sans-serif" font-size="37.45" fill="#262626">0.15</text>
<text stroke="#fff" stroke-width="0.60" x="593.57" y="426.98" font-family="'DejaVu Sans', sans-serif" font-size="37.45" fill="#262626">0.1</text>
<text stroke="#fff" stroke-width="0.60" x="593.57" y="570.08" font-family="'DejaVu Sans', sans-serif" font-size="37.45" fill="#262626">0.05</text>
<text stroke="#fff" stroke-width="0.60" x="1187.14" y="138.22" font-family="'DejaVu Sans', sans-serif" font-size="37.86" fill="#262626">0.2</text>
<text stroke="#fff" stroke-width="0.60" x="1187.14" y="280.62" font-family="'DejaVu Sans', sans-serif" font-size="37.86" fill="#262626">0.15</text>
<text stroke="#fff" stroke-width="0.60" x="1187.14" y="422.72" font-family="'DejaVu Sans', sans-serif" font-size="37.86" fill="#262626">0.1</text>
<text stroke="#fff" stroke-width="0.60" x="1187.14" y="564.92" font-family="'DejaVu Sans', sans-serif" font-size="37.86" fill="#262626">0.05</text>
<text x="1812.80" y="180.83" font-family="'DejaVu Sans', sans-serif" font-size="35.39" fill="#262626" stroke="#262626" stroke-width="1.20" stroke-linejoin="round">0.8</text>
<text x="1812.80" y="314.23" font-family="'DejaVu Sans', sans-serif" font-size="35.39" fill="#262626" stroke="#262626" stroke-width="1.20" stroke-linejoin="round">0.6</text>
<text x="1812.80" y="447.53" font-family="'DejaVu Sans', sans-serif" font-size="35.39" fill="#262626" stroke="#262626" stroke-width="1.20" stroke-linejoin="round">0.4</text>
<text x="1812.80" y="578.33" font-family="'DejaVu Sans', sans-serif" font-size="35.39" fill="#262626" stroke="#262626" stroke-width="1.20" stroke-linejoin="round">0.2</text>
<text transform="translate(188.67 47.14) scale(1.1623 1)" font-family="'DejaVu Sans', sans-serif" font-size="41.50" fill="#000">|</text>
<text transform="translate(207.18 50.15) scale(0.9824 1)" font-family="'Liberation Serif', serif" font-size="44.79" font-style="italic" fill="#000">δ</text>
<text transform="translate(229.17 48.95) scale(1.0445 1)" font-family="'DejaVu Sans', sans-serif" font-size="39.04" fill="#000" stroke="#000" stroke-width="1.50" stroke-linejoin="round">B</text>
<text transform="translate(264.30 52.41) scale(0.8843 1)" font-family="'DejaVu Sans', sans-serif" font-size="46.59" fill="#000">/</text>
<text transform="translate(284.85 48.95) scale(1.0494 1)" font-family="'DejaVu Sans', sans-serif" font-size="39.04" fill="#000" stroke="#000" stroke-width="1.50" stroke-linejoin="round">B</text>
<text transform="translate(311.83 70.90) scale(1.1772 1)" font-family="'DejaVu Sans', sans-serif" font-size="33.64" fill="#000" stroke="#000" stroke-width="0.80" stroke-linejoin="round">0</text>
<text transform="translate(340.36 47.14) scale(1.0489 1)" font-family="'DejaVu Sans', sans-serif" font-size="41.50" fill="#000">|</text>
<text transform="translate(368.71 50.26) scale(1.1172 1)" font-family="'DejaVu Sans', sans-serif" font-size="44.16" fill="#000" stroke="#000" stroke-width="0.40" stroke-linejoin="round">(</text>
<text transform="translate(385.75 49.20) scale(0.8850 1)" font-family="'DejaVu Sans', sans-serif" font-size="43.05" fill="#000" stroke="#000" stroke-width="0.70" stroke-linejoin="round">%</text>
<text transform="translate(419.48 50.26) scale(1.1675 1)" font-family="'DejaVu Sans', sans-serif" font-size="44.16" fill="#000" stroke="#000" stroke-width="0.40" stroke-linejoin="round">)</text>
<text transform="translate(777.38 37.49) scale(1.2131 1)" font-family="'DejaVu Sans', sans-serif" font-size="41.70" fill="#000">|</text>
<text transform="translate(796.06 41.34) scale(0.9788 1)" font-family="'Liberation Serif', serif" font-size="45.63" font-style="italic" fill="#000">δ</text>
<text transform="translate(818.48 40.25) scale(1.0366 1)" font-family="'DejaVu Sans', sans-serif" font-size="40.27" fill="#000" stroke="#000" stroke-width="1.50" stroke-linejoin="round">B</text>
<text transform="translate(854.30 43.23) scale(0.9502 1)" font-family="'DejaVu Sans', sans-serif" font-size="47.44" fill="#000">/</text>
<text transform="translate(875.38 40.25) scale(1.0366 1)" font-family="'DejaVu Sans', sans-serif" font-size="40.27" fill="#000" stroke="#000" stroke-width="1.50" stroke-linejoin="round">B</text>
<text transform="translate(903.21 63.20) scale(1.1972 1)" font-family="'DejaVu Sans', sans-serif" font-size="33.25" fill="#000" stroke="#000" stroke-width="0.80" stroke-linejoin="round">0</text>
<text transform="translate(929.38 37.49) scale(1.2131 1)" font-family="'DejaVu Sans', sans-serif" font-size="41.70" fill="#000">|</text>
<text transform="translate(960.07 41.57) scale(1.0494 1)" font-family="'DejaVu Sans', sans-serif" font-size="44.04" fill="#000" stroke="#000" stroke-width="0.40" stroke-linejoin="round">(</text>
<text transform="translate(977.13 39.80) scale(0.8960 1)" font-family="'DejaVu Sans', sans-serif" font-size="43.05" fill="#000" stroke="#000" stroke-width="0.70" stroke-linejoin="round">%</text>
<text transform="translate(1012.40 41.57) scale(1.1907 1)" font-family="'DejaVu Sans', sans-serif" font-size="44.04" fill="#000" stroke="#000" stroke-width="0.40" stroke-linejoin="round">)</text>
<text transform="translate(1424.18 48.54) scale(1.2881 1)" font-family="'DejaVu Sans', sans-serif" font-size="41.10" fill="#000">|</text>
<text transform="translate(1442.13 53.88) scale(1.0780 1)" font-family="'Liberation Serif', serif" font-size="46.97" font-style="italic" fill="#000">ξ</text>
<text transform="translate(1465.34 74.25) scale(1.1304 1)" font-family="'DejaVu Sans', sans-serif" font-size="32.50" fill="#000" stroke="#000" stroke-width="1.50" stroke-linejoin="round">n</text>
<text transform="translate(1490.38 48.54) scale(1.2309 1)" font-family="'DejaVu Sans', sans-serif" font-size="41.10" fill="#000">|</text>
<text transform="translate(1521.77 51.97) scale(0.9794 1)" font-family="'DejaVu Sans', sans-serif" font-size="44.83" fill="#000" stroke="#000" stroke-width="1.20" stroke-linejoin="round">[mm]</text>
</svg>
</body></html>
